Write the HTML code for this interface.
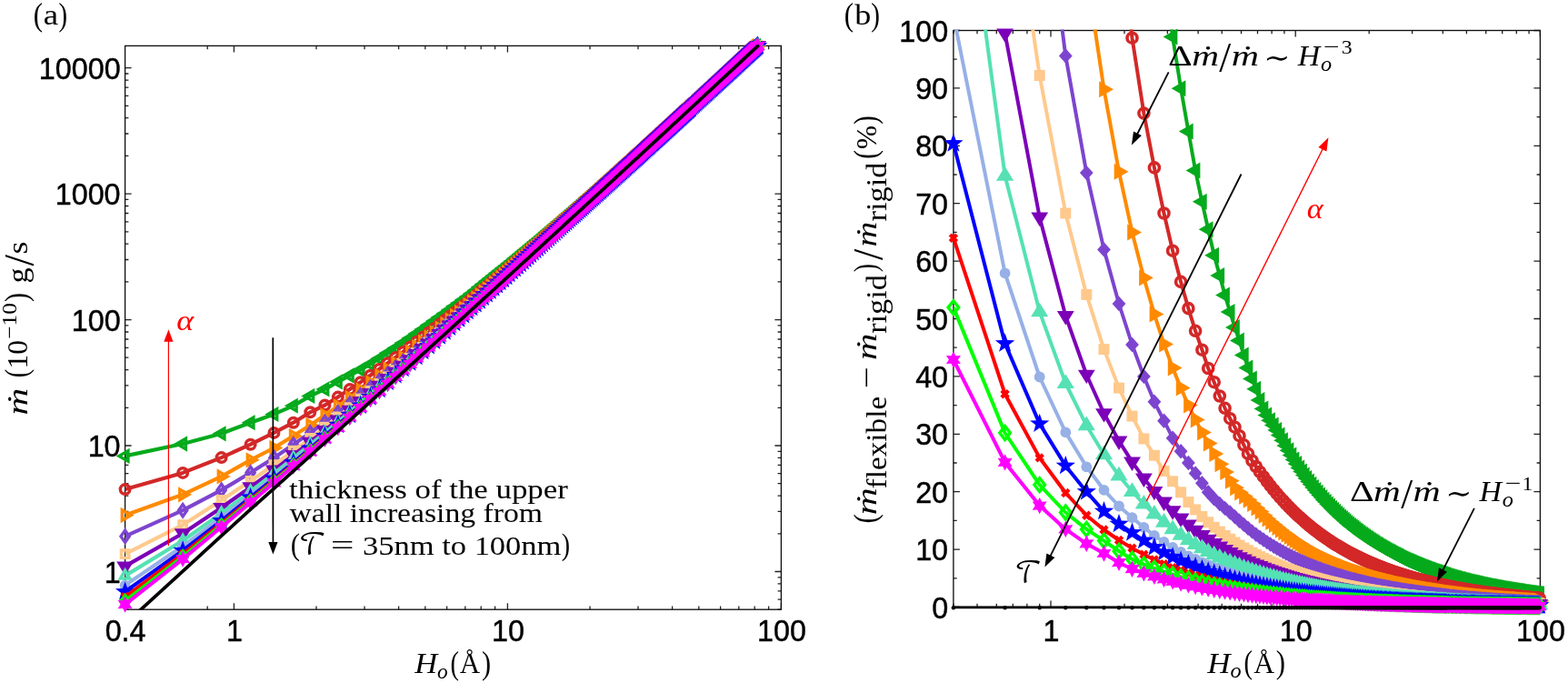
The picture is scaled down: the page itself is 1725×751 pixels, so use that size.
<!DOCTYPE html>
<html><head><meta charset="utf-8"><title>plot</title><style>html,body{margin:0;padding:0;background:#fff;overflow:hidden}svg{display:block}</style></head><body>
<svg width="1725" height="751" viewBox="0 0 1725 751">
<defs><clipPath id="ca"><rect x="137.6" y="50.4" width="721.8" height="619.8"/></clipPath>
<clipPath id="ca2"><rect x="137.6" y="40.4" width="721.8" height="629.8"/></clipPath>
<clipPath id="cb"><rect x="1048.9" y="32.5" width="653.5" height="654.0"/></clipPath></defs>
<defs><marker id="ma1" markerUnits="userSpaceOnUse" markerWidth="32" markerHeight="32" refX="16" refY="16" orient="0" overflow="visible"><path d="M9.40 16.00L19.30 10.30L19.30 21.70Z" fill="none" stroke="#06aa1c" stroke-width="3.4" stroke-linejoin="miter"/></marker><marker id="ma2" markerUnits="userSpaceOnUse" markerWidth="32" markerHeight="32" refX="16" refY="16" orient="0" overflow="visible"><circle cx="16" cy="16" r="5.25" fill="none" stroke="#d32828" stroke-width="3.5"/></marker><marker id="ma3" markerUnits="userSpaceOnUse" markerWidth="32" markerHeight="32" refX="16" refY="16" orient="0" overflow="visible"><path d="M22.60 16.00L12.70 10.30L12.70 21.70Z" fill="none" stroke="#ff8a00" stroke-width="3.4" stroke-linejoin="miter"/></marker><marker id="ma4" markerUnits="userSpaceOnUse" markerWidth="32" markerHeight="32" refX="16" refY="16" orient="0" overflow="visible"><path d="M16.00 9.40L20.60 16.00L16.00 22.60L11.40 16.00Z" fill="none" stroke="#7d45cf" stroke-width="3.4" stroke-linejoin="miter"/></marker><marker id="ma5" markerUnits="userSpaceOnUse" markerWidth="32" markerHeight="32" refX="16" refY="16" orient="0" overflow="visible"><path d="M11.80 11.80L20.20 11.80L20.20 20.20L11.80 20.20Z" fill="none" stroke="#ffc98c" stroke-width="3.4" stroke-linejoin="miter"/></marker><marker id="ma6" markerUnits="userSpaceOnUse" markerWidth="32" markerHeight="32" refX="16" refY="16" orient="0" overflow="visible"><path d="M16.00 26.10L6.60 10.70L25.40 10.70Z" fill="#7c00b8"/></marker><marker id="ma7" markerUnits="userSpaceOnUse" markerWidth="32" markerHeight="32" refX="16" refY="16" orient="0" overflow="visible"><path d="M16.00 10.00L10.80 19.00L21.20 19.00Z" fill="none" stroke="#55e1b4" stroke-width="3.4" stroke-linejoin="miter"/></marker><marker id="ma8" markerUnits="userSpaceOnUse" markerWidth="32" markerHeight="32" refX="16" refY="16" orient="0" overflow="visible"><circle cx="16" cy="16" r="5.90" fill="#97b0e6"/></marker><marker id="ma9" markerUnits="userSpaceOnUse" markerWidth="32" markerHeight="32" refX="16" refY="16" orient="0" overflow="visible"><path d="M16.00 4.80L18.70 12.28L26.65 12.54L20.37 17.42L22.58 25.06L16.00 20.60L9.42 25.06L11.63 17.42L5.35 12.54L13.30 12.28Z" fill="#0000ff"/></marker><marker id="ma10" markerUnits="userSpaceOnUse" markerWidth="32" markerHeight="32" refX="16" refY="16" orient="0" overflow="visible"><path d="M12.30 12.30l7.40 7.40M12.30 19.70l7.40 -7.40" stroke="#ff0000" stroke-width="4.2" fill="none"/></marker><marker id="ma11" markerUnits="userSpaceOnUse" markerWidth="32" markerHeight="32" refX="16" refY="16" orient="0" overflow="visible"><path d="M16.00 9.60L20.80 16.00L16.00 22.40L11.20 16.00Z" fill="none" stroke="#00ff00" stroke-width="3.4" stroke-linejoin="miter"/></marker><marker id="ma12" markerUnits="userSpaceOnUse" markerWidth="32" markerHeight="32" refX="16" refY="16" orient="0" overflow="visible"><path d="M16.00 6.80L18.50 11.67L23.97 11.40L21.00 16.00L23.97 20.60L18.50 20.33L16.00 25.20L13.50 20.33L8.03 20.60L11.00 16.00L8.03 11.40L13.50 11.67Z" fill="#ff00ff"/></marker><marker id="mb1" markerUnits="userSpaceOnUse" markerWidth="32" markerHeight="32" refX="16" refY="16" orient="0" overflow="visible"><path d="M5.50 16.00L21.30 7.00L21.30 25.00Z" fill="#06aa1c"/></marker><marker id="mb2" markerUnits="userSpaceOnUse" markerWidth="32" markerHeight="32" refX="16" refY="16" orient="0" overflow="visible"><circle cx="16" cy="16" r="5.50" fill="none" stroke="#d32828" stroke-width="3.6"/></marker><marker id="mb3" markerUnits="userSpaceOnUse" markerWidth="32" markerHeight="32" refX="16" refY="16" orient="0" overflow="visible"><path d="M26.50 16.00L10.70 7.00L10.70 25.00Z" fill="#ff8a00"/></marker><marker id="mb4" markerUnits="userSpaceOnUse" markerWidth="32" markerHeight="32" refX="16" refY="16" orient="0" overflow="visible"><path d="M16.00 7.80L23.40 16.00L16.00 24.20L8.60 16.00Z" fill="#7d45cf"/></marker><marker id="mb5" markerUnits="userSpaceOnUse" markerWidth="32" markerHeight="32" refX="16" refY="16" orient="0" overflow="visible"><path d="M10.00 10.00L22.00 10.00L22.00 22.00L10.00 22.00Z" fill="#ffc98c"/></marker><marker id="mb6" markerUnits="userSpaceOnUse" markerWidth="32" markerHeight="32" refX="16" refY="16" orient="0" overflow="visible"><path d="M16.00 26.10L6.60 10.70L25.40 10.70Z" fill="#7c00b8"/></marker><marker id="mb7" markerUnits="userSpaceOnUse" markerWidth="32" markerHeight="32" refX="16" refY="16" orient="0" overflow="visible"><path d="M16.00 5.80L6.40 21.40L25.60 21.40Z" fill="#55e1b4"/></marker><marker id="mb8" markerUnits="userSpaceOnUse" markerWidth="32" markerHeight="32" refX="16" refY="16" orient="0" overflow="visible"><circle cx="16" cy="16" r="5.90" fill="#97b0e6"/></marker><marker id="mb9" markerUnits="userSpaceOnUse" markerWidth="32" markerHeight="32" refX="16" refY="16" orient="0" overflow="visible"><path d="M16.00 4.80L18.70 12.28L26.65 12.54L20.37 17.42L22.58 25.06L16.00 20.60L9.42 25.06L11.63 17.42L5.35 12.54L13.30 12.28Z" fill="#0000ff"/></marker><marker id="mb10" markerUnits="userSpaceOnUse" markerWidth="32" markerHeight="32" refX="16" refY="16" orient="0" overflow="visible"><path d="M12.30 12.30l7.40 7.40M12.30 19.70l7.40 -7.40" stroke="#ff0000" stroke-width="4.2" fill="none"/></marker><marker id="mb11" markerUnits="userSpaceOnUse" markerWidth="32" markerHeight="32" refX="16" refY="16" orient="0" overflow="visible"><path d="M16.00 8.60L21.80 16.00L16.00 23.40L10.20 16.00Z" fill="none" stroke="#00ff00" stroke-width="3.4" stroke-linejoin="miter"/></marker><marker id="mb12" markerUnits="userSpaceOnUse" markerWidth="32" markerHeight="32" refX="16" refY="16" orient="0" overflow="visible"><path d="M16.00 6.80L18.50 11.67L23.97 11.40L21.00 16.00L23.97 20.60L18.50 20.33L16.00 25.20L13.50 20.33L8.03 20.60L11.00 16.00L8.03 11.40L13.50 11.67Z" fill="#ff00ff"/></marker><marker id="mbk" markerUnits="userSpaceOnUse" markerWidth="8" markerHeight="8" refX="4" refY="4" orient="0" overflow="visible"><circle cx="4" cy="4" r="2.2" fill="#000"/></marker></defs>
<rect width="100%" height="100%" fill="#fff"/>
<path d="M228.2 670.2v-3.8M228.2 50.4v3.8M257.4 670.2v-7.0M257.4 50.4v7.0M348.0 670.2v-3.8M348.0 50.4v3.8M401.0 670.2v-3.8M401.0 50.4v3.8M438.6 670.2v-3.8M438.6 50.4v3.8M467.8 670.2v-3.8M467.8 50.4v3.8M491.6 670.2v-3.8M491.6 50.4v3.8M511.8 670.2v-3.8M511.8 50.4v3.8M529.2 670.2v-3.8M529.2 50.4v3.8M544.6 670.2v-3.8M544.6 50.4v3.8M558.4 670.2v-7.0M558.4 50.4v7.0M649.0 670.2v-3.8M649.0 50.4v3.8M702.0 670.2v-3.8M702.0 50.4v3.8M739.6 670.2v-3.8M739.6 50.4v3.8M768.8 670.2v-3.8M768.8 50.4v3.8M792.6 670.2v-3.8M792.6 50.4v3.8M812.8 670.2v-3.8M812.8 50.4v3.8M830.2 670.2v-3.8M830.2 50.4v3.8M845.6 670.2v-3.8M845.6 50.4v3.8M859.4 670.2v-7.0M859.4 50.4v7.0M137.6 670.1h3.8M859.4 670.1h-3.8M137.6 659.2h3.8M859.4 659.2h-3.8M137.6 649.9h3.8M859.4 649.9h-3.8M137.6 641.9h3.8M859.4 641.9h-3.8M137.6 634.8h3.8M859.4 634.8h-3.8M137.6 628.5h7.0M859.4 628.5h-7.0M137.6 586.8h3.8M859.4 586.8h-3.8M137.6 562.4h3.8M859.4 562.4h-3.8M137.6 545.1h3.8M859.4 545.1h-3.8M137.6 531.7h3.8M859.4 531.7h-3.8M137.6 520.7h3.8M859.4 520.7h-3.8M137.6 511.4h3.8M859.4 511.4h-3.8M137.6 503.4h3.8M859.4 503.4h-3.8M137.6 496.3h3.8M859.4 496.3h-3.8M137.6 490.0h7.0M859.4 490.0h-7.0M137.6 448.3h3.8M859.4 448.3h-3.8M137.6 423.9h3.8M859.4 423.9h-3.8M137.6 406.6h3.8M859.4 406.6h-3.8M137.6 393.2h3.8M859.4 393.2h-3.8M137.6 382.3h3.8M859.4 382.3h-3.8M137.6 373.0h3.8M859.4 373.0h-3.8M137.6 365.0h3.8M859.4 365.0h-3.8M137.6 357.9h3.8M859.4 357.9h-3.8M137.6 351.6h7.0M859.4 351.6h-7.0M137.6 309.9h3.8M859.4 309.9h-3.8M137.6 285.5h3.8M859.4 285.5h-3.8M137.6 268.2h3.8M859.4 268.2h-3.8M137.6 254.8h3.8M859.4 254.8h-3.8M137.6 243.8h3.8M859.4 243.8h-3.8M137.6 234.5h3.8M859.4 234.5h-3.8M137.6 226.5h3.8M859.4 226.5h-3.8M137.6 219.4h3.8M859.4 219.4h-3.8M137.6 213.1h7.0M859.4 213.1h-7.0M137.6 171.4h3.8M859.4 171.4h-3.8M137.6 147.0h3.8M859.4 147.0h-3.8M137.6 129.7h3.8M859.4 129.7h-3.8M137.6 116.3h3.8M859.4 116.3h-3.8M137.6 105.4h3.8M859.4 105.4h-3.8M137.6 96.1h3.8M859.4 96.1h-3.8M137.6 88.1h3.8M859.4 88.1h-3.8M137.6 81.0h3.8M859.4 81.0h-3.8M137.6 74.7h7.0M859.4 74.7h-7.0M1048.9 667.5v-3.8M1048.9 33.5v3.8M1075.0 667.5v-3.8M1075.0 33.5v3.8M1096.3 667.5v-3.8M1096.3 33.5v3.8M1114.3 667.5v-3.8M1114.3 33.5v3.8M1129.9 667.5v-3.8M1129.9 33.5v3.8M1143.7 667.5v-3.8M1143.7 33.5v3.8M1156.0 667.5v-7.0M1156.0 33.5v7.0M1237.0 667.5v-3.8M1237.0 33.5v3.8M1284.4 667.5v-3.8M1284.4 33.5v3.8M1318.1 667.5v-3.8M1318.1 33.5v3.8M1344.2 667.5v-3.8M1344.2 33.5v3.8M1365.5 667.5v-3.8M1365.5 33.5v3.8M1383.5 667.5v-3.8M1383.5 33.5v3.8M1399.1 667.5v-3.8M1399.1 33.5v3.8M1412.9 667.5v-3.8M1412.9 33.5v3.8M1425.2 667.5v-7.0M1425.2 33.5v7.0M1506.2 667.5v-3.8M1506.2 33.5v3.8M1553.6 667.5v-3.8M1553.6 33.5v3.8M1587.3 667.5v-3.8M1587.3 33.5v3.8M1613.4 667.5v-3.8M1613.4 33.5v3.8M1634.7 667.5v-3.8M1634.7 33.5v3.8M1652.7 667.5v-3.8M1652.7 33.5v3.8M1668.3 667.5v-3.8M1668.3 33.5v3.8M1682.1 667.5v-3.8M1682.1 33.5v3.8M1694.4 667.5v-7.0M1694.4 33.5v7.0M1048.9 667.5h7.0M1694.4 667.5h-7.0M1048.9 635.8h3.8M1694.4 635.8h-3.8M1048.9 604.1h7.0M1694.4 604.1h-7.0M1048.9 572.4h3.8M1694.4 572.4h-3.8M1048.9 540.7h7.0M1694.4 540.7h-7.0M1048.9 509.0h3.8M1694.4 509.0h-3.8M1048.9 477.3h7.0M1694.4 477.3h-7.0M1048.9 445.6h3.8M1694.4 445.6h-3.8M1048.9 413.9h7.0M1694.4 413.9h-7.0M1048.9 382.2h3.8M1694.4 382.2h-3.8M1048.9 350.5h7.0M1694.4 350.5h-7.0M1048.9 318.8h3.8M1694.4 318.8h-3.8M1048.9 287.1h7.0M1694.4 287.1h-7.0M1048.9 255.4h3.8M1694.4 255.4h-3.8M1048.9 223.7h7.0M1694.4 223.7h-7.0M1048.9 192.0h3.8M1694.4 192.0h-3.8M1048.9 160.3h7.0M1694.4 160.3h-7.0M1048.9 128.6h3.8M1694.4 128.6h-3.8M1048.9 96.9h7.0M1694.4 96.9h-7.0M1048.9 65.2h3.8M1694.4 65.2h-3.8M1048.9 33.5h7.0M1694.4 33.5h-7.0" stroke="#222" stroke-width="1.3" fill="none"/>
<rect x="137.6" y="50.4" width="721.8" height="619.8" fill="none" stroke="#111" stroke-width="1.35"/>
<rect x="1048.9" y="33.5" width="645.5" height="634.0" fill="none" stroke="#111" stroke-width="1.35"/>
<g font-family="'Liberation Sans', Arial, Helvetica, sans-serif" font-size="32.3" fill="#000" stroke="#000" stroke-width="0.45"><text x="138.1" y="704.5" text-anchor="middle" >0.4</text><text x="257.9" y="704.5" text-anchor="middle" >1</text><text x="558.9" y="704.5" text-anchor="middle" >10</text><text x="859.9" y="704.5" text-anchor="middle" >100</text><text x="132.6" y="640.5" text-anchor="end" >1</text><text x="132.6" y="502.0" text-anchor="end" >10</text><text x="132.6" y="363.6" text-anchor="end" >100</text><text x="132.6" y="225.1" text-anchor="end" >1000</text><text x="132.6" y="86.7" text-anchor="end" >10000</text><text x="1156.5" y="704.5" text-anchor="middle" >1</text><text x="1425.7" y="704.5" text-anchor="middle" >10</text><text x="1694.9" y="704.5" text-anchor="middle" >100</text><text x="1043.1" y="679.6" text-anchor="end" >0</text><text x="1043.1" y="616.2" text-anchor="end" >10</text><text x="1043.1" y="552.8" text-anchor="end" >20</text><text x="1043.1" y="489.4" text-anchor="end" >30</text><text x="1043.1" y="426.0" text-anchor="end" >40</text><text x="1043.1" y="362.6" text-anchor="end" >50</text><text x="1043.1" y="299.2" text-anchor="end" >60</text><text x="1043.1" y="235.8" text-anchor="end" >70</text><text x="1043.1" y="172.4" text-anchor="end" >80</text><text x="1043.1" y="109.0" text-anchor="end" >90</text><text x="1043.1" y="45.6" text-anchor="end" >100</text></g>
<polyline points="137.6,501.4 201.1,488.0 243.6,476.8 275.6,464.7 301.4,455.4 322.8,446.1 341.3,435.4 357.4,427.9 371.8,419.9 384.8,413.0 396.6,406.6 407.4,400.4 417.4,394.1 426.6,388.1 435.3,382.6 443.4,377.1 451.1,371.9 458.3,367.0 465.1,362.1 471.6,357.5 477.8,353.0 483.7,348.8 489.4,344.6 494.8,340.7 500.0,336.8 505.0,333.1 509.9,329.5 514.5,326.1 519.0,322.7 523.4,319.2 527.6,315.8 531.6,312.5 535.6,309.3 539.4,306.2 543.1,303.2 546.8,300.3 550.3,297.5 553.7,294.7 557.1,292.1 560.3,289.4 563.5,286.9 566.6,284.3 569.6,281.9 572.6,279.4 575.5,277.0 578.3,274.7 581.1,272.4 583.8,270.2 586.5,268.0 589.1,265.8 591.7,263.7 594.2,261.6 596.6,259.5 599.1,257.5 601.4,255.5 603.8,253.5 606.0,251.6 608.3,249.7 610.5,247.8 612.7,246.0 614.8,244.1 616.9,242.4 619.0,240.6 621.0,238.9 623.0,237.1 625.0,235.5 627.0,233.8 628.9,232.1 630.8,230.5 632.7,228.9 634.5,227.3 636.3,225.8 638.1,224.2 639.9,222.7 641.6,221.2 643.3,219.7 645.0,218.3 646.7,216.8 648.3,215.4 650.0,214.0 651.6,212.6 653.2,211.2 654.7,209.8 656.3,208.5 657.8,207.1 659.4,205.8 660.9,204.5 662.3,203.2 663.8,201.9 665.3,200.6 666.7,199.4 668.1,198.1 669.5,196.9 670.9,195.7 672.3,194.5 673.6,193.3 675.0,192.1 676.3,190.9 677.6,189.8 678.9,188.6 680.2,187.5 681.5,186.4 682.8,185.2 684.0,184.1 685.3,183.0 686.5,181.9 687.7,180.9 688.9,179.8 690.1,178.7 691.3,177.7 692.5,176.6 693.7,175.6 694.8,174.6 696.0,173.6 697.1,172.6 698.2,171.6 699.4,170.6 700.5,169.6 701.6,168.6 702.6,167.7 703.7,166.7 704.8,165.7 705.9,164.8 706.9,163.9 708.0,162.9 709.0,162.0 710.0,161.1 711.0,160.2 712.1,159.3 713.1,158.4 714.1,157.5 715.0,156.6 716.0,155.7 717.0,154.9 718.0,154.0 718.9,153.1 719.9,152.3 720.8,151.4 721.8,150.6 722.7,149.8 723.6,148.9 724.5,148.1 725.5,147.3 726.4,146.5 727.3,145.7 728.2,144.9 729.1,144.1 729.9,143.3 730.8,142.5 731.7,141.7 732.6,140.9 733.4,140.2 734.3,139.4 735.1,138.6 736.0,137.9 736.8,137.1 737.6,136.4 738.5,135.6 739.3,134.9 740.1,134.2 740.9,133.4 741.7,132.7 742.5,132.0 743.3,131.3 744.1,130.5 744.9,129.8 745.7,129.1 746.4,128.4 747.2,127.7 748.0,127.0 748.7,126.4 749.5,125.7 750.3,125.0 751.0,124.3 751.8,123.6 752.5,123.0 753.2,122.3 754.0,121.6 754.7,121.0 755.4,120.3 756.2,119.7 756.9,119.0 757.6,118.4 758.3,117.7 759.0,117.1 759.7,116.5 760.4,115.8 761.1,115.2 761.8,114.6 762.5,113.9 763.2,113.3 763.8,112.7 764.5,112.1 765.2,111.5 765.9,110.9 766.5,110.3 767.2,109.7 767.9,109.1 768.5,108.5 769.2,107.9 769.8,107.3 770.5,106.7 771.1,106.1 771.7,105.5 772.4,105.0 773.0,104.4 773.6,103.8 774.3,103.3 774.9,102.7 775.5,102.1 776.1,101.6 776.8,101.0 777.4,100.4 778.0,99.9 778.6,99.3 779.2,98.8 779.8,98.2 780.4,97.7 781.0,97.1 781.6,96.6 782.2,96.1 782.8,95.5 783.4,95.0 783.9,94.5 784.5,93.9 785.1,93.4 785.7,92.9 786.2,92.4 786.8,91.8 787.4,91.3 787.9,90.8 788.5,90.3 789.1,89.8 789.6,89.3 790.2,88.8 790.7,88.3 791.3,87.8 791.8,87.3 792.4,86.8 792.9,86.3 793.5,85.8 794.0,85.3 794.5,84.8 795.1,84.3 795.6,83.8 796.1,83.3 796.7,82.9 797.2,82.4 797.7,81.9 798.3,81.4 798.8,80.9 799.3,80.5 799.8,80.0 800.3,79.5 800.8,79.1 801.3,78.6 801.9,78.1 802.4,77.7 802.9,77.2 803.4,76.7 803.9,76.3 804.4,75.8 804.9,75.4 805.4,74.9 805.9,74.5 806.3,74.0 806.8,73.6 807.3,73.1 807.8,72.7 808.3,72.2 808.8,71.8 809.3,71.4 809.7,70.9 810.2,70.5 810.7,70.1 811.2,69.6 811.6,69.2 812.1,68.8 812.6,68.3 813.0,67.9 813.5,67.5 814.0,67.1 814.4,66.6 814.9,66.2 815.3,65.8 815.8,65.4 816.3,64.9 816.7,64.5 817.2,64.1 817.6,63.7 818.1,63.3 818.5,62.9 819.0,62.5 819.4,62.1 819.8,61.7 820.3,61.3 820.7,60.9 821.2,60.5 821.6,60.1 822.0,59.7 822.5,59.3 822.9,58.9 823.3,58.5 823.8,58.1 824.2,57.7 824.6,57.3 825.0,56.9 825.5,56.5 825.9,56.1 826.3,55.7 826.7,55.3 827.2,55.0 827.6,54.6 828.0,54.2 828.4,53.8 828.8,53.4 829.2,53.1 829.6,52.7 830.0,52.3 830.5,51.9 830.9,51.5 831.3,51.2 831.7,50.8 832.1,50.4 832.5,50.1 832.9,49.7" fill="none" stroke="#06aa1c" stroke-width="4.2" stroke-linejoin="round" clip-path="url(#ca)"/>
<polyline points="137.6,501.4 201.1,488.0 243.6,476.8 275.6,464.7 301.4,455.4 322.8,446.1 341.3,435.4 357.4,427.9 371.8,419.9 384.8,413.0 396.6,406.6 407.4,400.4 417.4,394.1 426.6,388.1 435.3,382.6 443.4,377.1 451.1,371.9 458.3,367.0 465.1,362.1 471.6,357.5 477.8,353.0 483.7,348.8 489.4,344.6 494.8,340.7 500.0,336.8 505.0,333.1 509.9,329.5 514.5,326.1 519.0,322.7 523.4,319.2 527.6,315.8 531.6,312.5 535.6,309.3 539.4,306.2 543.1,303.2 546.8,300.3 550.3,297.5 553.7,294.7 557.1,292.1 560.3,289.4 563.5,286.9 566.6,284.3 569.6,281.9 572.6,279.4 575.5,277.0 578.3,274.7 581.1,272.4 583.8,270.2 586.5,268.0 589.1,265.8 591.7,263.7 594.2,261.6 596.6,259.5 599.1,257.5 601.4,255.5 603.8,253.5 606.0,251.6 608.3,249.7 610.5,247.8 612.7,246.0 614.8,244.1 616.9,242.4 619.0,240.6 621.0,238.9 623.0,237.1 625.0,235.5 627.0,233.8 628.9,232.1 630.8,230.5 632.7,228.9 634.5,227.3 636.3,225.8 638.1,224.2 639.9,222.7 641.6,221.2 643.3,219.7 645.0,218.3 646.7,216.8 648.3,215.4 650.0,214.0 651.6,212.6 653.2,211.2 654.7,209.8 656.3,208.5 657.8,207.1 659.4,205.8 660.9,204.5 662.3,203.2 663.8,201.9 665.3,200.6 666.7,199.4 668.1,198.1 669.5,196.9 670.9,195.7 672.3,194.5 673.6,193.3 675.0,192.1 676.3,190.9 677.6,189.8 678.9,188.6 680.2,187.5 681.5,186.4 682.8,185.2 684.0,184.1 685.3,183.0 686.5,181.9 687.7,180.9 688.9,179.8 690.1,178.7 691.3,177.7 692.5,176.6 693.7,175.6 694.8,174.6 696.0,173.6 697.1,172.6 698.2,171.6 699.4,170.6 700.5,169.6 701.6,168.6 702.6,167.7 703.7,166.7 704.8,165.7 705.9,164.8 706.9,163.9 708.0,162.9 709.0,162.0 710.0,161.1 711.0,160.2 712.1,159.3 713.1,158.4 714.1,157.5 715.0,156.6 716.0,155.7 717.0,154.9 718.0,154.0 718.9,153.1 719.9,152.3 720.8,151.4 721.8,150.6 722.7,149.8 723.6,148.9 724.5,148.1 725.5,147.3 726.4,146.5 727.3,145.7 728.2,144.9 729.1,144.1 729.9,143.3 730.8,142.5 731.7,141.7 732.6,140.9 733.4,140.2 734.3,139.4 735.1,138.6 736.0,137.9 736.8,137.1 737.6,136.4 738.5,135.6 739.3,134.9 740.1,134.2 740.9,133.4 741.7,132.7 742.5,132.0 743.3,131.3 744.1,130.5 744.9,129.8 745.7,129.1 746.4,128.4 747.2,127.7 748.0,127.0 748.7,126.4 749.5,125.7 750.3,125.0 751.0,124.3 751.8,123.6 752.5,123.0 753.2,122.3 754.0,121.6 754.7,121.0 755.4,120.3 756.2,119.7 756.9,119.0 757.6,118.4 758.3,117.7 759.0,117.1 759.7,116.5 761.1,115.2 762.5,113.9 763.8,112.7 765.2,111.5 766.5,110.3 767.9,109.1 769.2,107.9 770.5,106.7 771.7,105.5 773.0,104.4 774.3,103.3 775.5,102.1 776.8,101.0 778.0,99.9 779.2,98.8 780.4,97.7 781.6,96.6 782.8,95.5 783.9,94.5 785.1,93.4 786.2,92.4 787.4,91.3 788.5,90.3 789.6,89.3 790.7,88.3 791.8,87.3 792.9,86.3 794.0,85.3 795.1,84.3 796.1,83.3 797.2,82.4 798.3,81.4 799.3,80.5 800.3,79.5 801.3,78.6 802.4,77.7 803.4,76.7 804.4,75.8 805.4,74.9 806.3,74.0 807.3,73.1 808.3,72.2 809.3,71.4 810.2,70.5 811.2,69.6 812.1,68.8 813.0,67.9 814.0,67.1 814.9,66.2 815.8,65.4 816.7,64.5 817.6,63.7 818.5,62.9 819.4,62.1 820.3,61.3 821.2,60.5 822.0,59.7 822.9,58.9 823.8,58.1 824.6,57.3 825.5,56.5 826.3,55.7 827.2,55.0 828.0,54.2 828.8,53.4 829.6,52.7 830.5,51.9 831.3,51.2 832.1,50.4" fill="none" stroke="none" marker-start="url(#ma1)" marker-mid="url(#ma1)" marker-end="url(#ma1)"/>
<polyline points="137.6,538.1 201.1,519.9 243.6,503.1 275.6,488.7 301.4,475.9 322.8,464.7 341.3,453.3 357.4,445.5 371.8,436.6 384.8,428.1 396.6,420.2 407.4,412.8 417.4,405.8 426.6,399.2 435.3,392.9 443.4,386.9 451.1,381.4 458.3,375.8 465.1,370.7 471.6,365.7 477.8,360.9 483.7,356.2 489.4,351.8 494.8,347.6 500.0,343.5 505.0,339.6 509.9,335.7 514.5,331.9 519.0,328.2 523.4,324.6 527.6,321.2 531.6,317.8 535.6,314.6 539.4,311.4 543.1,308.3 546.8,305.2 550.3,302.3 553.7,299.4 557.1,296.6 560.3,293.8 563.5,291.2 566.6,288.5 569.6,285.9 572.6,283.4 575.5,281.0 578.3,278.5 581.1,276.2 583.8,273.8 586.5,271.5 589.1,269.3 591.7,267.1 594.2,264.9 596.6,262.8 599.1,260.7 601.4,258.7 603.8,256.6 606.0,254.7 608.3,252.7 610.5,250.8 612.7,248.9 614.8,247.0 616.9,245.2 619.0,243.4 621.0,241.6 623.0,239.8 625.0,238.1 627.0,236.4 628.9,234.7 630.8,233.0 632.7,231.4 634.5,229.8 636.3,228.2 638.1,226.6 639.9,225.1 641.6,223.5 643.3,222.0 645.0,220.5 646.7,219.0 648.3,217.6 650.0,216.1 651.6,214.7 653.2,213.3 654.7,211.9 656.3,210.5 657.8,209.2 659.4,207.8 660.9,206.5 662.3,205.2 663.8,203.9 665.3,202.6 666.7,201.3 668.1,200.0 669.5,198.8 670.9,197.5 672.3,196.3 673.6,195.1 675.0,193.9 676.3,192.7 677.6,191.5 678.9,190.4 680.2,189.2 681.5,188.1 682.8,186.9 684.0,185.8 685.3,184.7 686.5,183.6 687.7,182.5 688.9,181.4 690.1,180.3 691.3,179.3 692.5,178.2 693.7,177.2 694.8,176.1 696.0,175.1 697.1,174.1 698.2,173.1 699.4,172.1 700.5,171.1 701.6,170.1 702.6,169.1 703.7,168.1 704.8,167.2 705.9,166.2 706.9,165.3 708.0,164.3 709.0,163.4 710.0,162.5 711.0,161.5 712.1,160.6 713.1,159.7 714.1,158.8 715.0,157.9 716.0,157.0 717.0,156.2 718.0,155.3 718.9,154.4 719.9,153.5 720.8,152.7 721.8,151.8 722.7,151.0 723.6,150.2 724.5,149.3 725.5,148.5 726.4,147.7 727.3,146.9 728.2,146.1 729.1,145.2 729.9,144.4 730.8,143.7 731.7,142.9 732.6,142.1 733.4,141.3 734.3,140.5 735.1,139.8 736.0,139.0 736.8,138.2 737.6,137.5 738.5,136.7 739.3,136.0 740.1,135.2 740.9,134.5 741.7,133.8 742.5,133.0 743.3,132.3 744.1,131.6 744.9,130.9 745.7,130.2 746.4,129.5 747.2,128.8 748.0,128.1 748.7,127.4 749.5,126.7 750.3,126.0 751.0,125.3 751.8,124.6 752.5,123.9 753.2,123.3 754.0,122.6 754.7,121.9 755.4,121.3 756.2,120.6 756.9,120.0 757.6,119.3 758.3,118.7 759.0,118.0 759.7,117.4 760.4,116.7 761.1,116.1 761.8,115.5 762.5,114.9 763.2,114.2 763.8,113.6 764.5,113.0 765.2,112.4 765.9,111.8 766.5,111.2 767.2,110.6 767.9,109.9 768.5,109.3 769.2,108.8 769.8,108.2 770.5,107.6 771.1,107.0 771.7,106.4 772.4,105.8 773.0,105.2 773.6,104.7 774.3,104.1 774.9,103.5 775.5,102.9 776.1,102.4 776.8,101.8 777.4,101.2 778.0,100.7 778.6,100.1 779.2,99.6 779.8,99.0 780.4,98.5 781.0,97.9 781.6,97.4 782.2,96.8 782.8,96.3 783.4,95.8 783.9,95.2 784.5,94.7 785.1,94.2 785.7,93.6 786.2,93.1 786.8,92.6 787.4,92.1 787.9,91.6 788.5,91.0 789.1,90.5 789.6,90.0 790.2,89.5 790.7,89.0 791.3,88.5 791.8,88.0 792.4,87.5 792.9,87.0 793.5,86.5 794.0,86.0 794.5,85.5 795.1,85.0 795.6,84.5 796.1,84.0 796.7,83.5 797.2,83.1 797.7,82.6 798.3,82.1 798.8,81.6 799.3,81.1 799.8,80.7 800.3,80.2 800.8,79.7 801.3,79.3 801.9,78.8 802.4,78.3 802.9,77.9 803.4,77.4 803.9,76.9 804.4,76.5 804.9,76.0 805.4,75.6 805.9,75.1 806.3,74.7 806.8,74.2 807.3,73.8 807.8,73.3 808.3,72.9 808.8,72.4 809.3,72.0 809.7,71.6 810.2,71.1 810.7,70.7 811.2,70.2 811.6,69.8 812.1,69.4 812.6,68.9 813.0,68.5 813.5,68.1 814.0,67.7 814.4,67.2 814.9,66.8 815.3,66.4 815.8,66.0 816.3,65.5 816.7,65.1 817.2,64.7 817.6,64.3 818.1,63.9 818.5,63.5 819.0,63.1 819.4,62.7 819.8,62.2 820.3,61.8 820.7,61.4 821.2,61.0 821.6,60.6 822.0,60.2 822.5,59.8 822.9,59.4 823.3,59.0 823.8,58.6 824.2,58.2 824.6,57.8 825.0,57.4 825.5,57.1 825.9,56.7 826.3,56.3 826.7,55.9 827.2,55.5 827.6,55.1 828.0,54.7 828.4,54.4 828.8,54.0 829.2,53.6 829.6,53.2 830.0,52.8 830.5,52.5 830.9,52.1 831.3,51.7 831.7,51.3 832.1,51.0 832.5,50.6 832.9,50.2 833.3,49.9" fill="none" stroke="#d32828" stroke-width="4.2" stroke-linejoin="round" clip-path="url(#ca)"/>
<polyline points="137.6,538.1 201.1,519.9 243.6,503.1 275.6,488.7 301.4,475.9 322.8,464.7 341.3,453.3 357.4,445.5 371.8,436.6 384.8,428.1 396.6,420.2 407.4,412.8 417.4,405.8 426.6,399.2 435.3,392.9 443.4,386.9 451.1,381.4 458.3,375.8 465.1,370.7 471.6,365.7 477.8,360.9 483.7,356.2 489.4,351.8 494.8,347.6 500.0,343.5 505.0,339.6 509.9,335.7 514.5,331.9 519.0,328.2 523.4,324.6 527.6,321.2 531.6,317.8 535.6,314.6 539.4,311.4 543.1,308.3 546.8,305.2 550.3,302.3 553.7,299.4 557.1,296.6 560.3,293.8 563.5,291.2 566.6,288.5 569.6,285.9 572.6,283.4 575.5,281.0 578.3,278.5 581.1,276.2 583.8,273.8 586.5,271.5 589.1,269.3 591.7,267.1 594.2,264.9 596.6,262.8 599.1,260.7 601.4,258.7 603.8,256.6 606.0,254.7 608.3,252.7 610.5,250.8 612.7,248.9 614.8,247.0 616.9,245.2 619.0,243.4 621.0,241.6 623.0,239.8 625.0,238.1 627.0,236.4 628.9,234.7 630.8,233.0 632.7,231.4 634.5,229.8 636.3,228.2 638.1,226.6 639.9,225.1 641.6,223.5 643.3,222.0 645.0,220.5 646.7,219.0 648.3,217.6 650.0,216.1 651.6,214.7 653.2,213.3 654.7,211.9 656.3,210.5 657.8,209.2 659.4,207.8 660.9,206.5 662.3,205.2 663.8,203.9 665.3,202.6 666.7,201.3 668.1,200.0 669.5,198.8 670.9,197.5 672.3,196.3 673.6,195.1 675.0,193.9 676.3,192.7 677.6,191.5 678.9,190.4 680.2,189.2 681.5,188.1 682.8,186.9 684.0,185.8 685.3,184.7 686.5,183.6 687.7,182.5 688.9,181.4 690.1,180.3 691.3,179.3 692.5,178.2 693.7,177.2 694.8,176.1 696.0,175.1 697.1,174.1 698.2,173.1 699.4,172.1 700.5,171.1 701.6,170.1 702.6,169.1 703.7,168.1 704.8,167.2 705.9,166.2 706.9,165.3 708.0,164.3 709.0,163.4 710.0,162.5 711.0,161.5 712.1,160.6 713.1,159.7 714.1,158.8 715.0,157.9 716.0,157.0 717.0,156.2 718.0,155.3 718.9,154.4 719.9,153.5 720.8,152.7 721.8,151.8 722.7,151.0 723.6,150.2 724.5,149.3 725.5,148.5 726.4,147.7 727.3,146.9 728.2,146.1 729.1,145.2 729.9,144.4 730.8,143.7 731.7,142.9 732.6,142.1 733.4,141.3 734.3,140.5 735.1,139.8 736.0,139.0 736.8,138.2 737.6,137.5 738.5,136.7 739.3,136.0 740.1,135.2 740.9,134.5 741.7,133.8 742.5,133.0 743.3,132.3 744.1,131.6 744.9,130.9 745.7,130.2 746.4,129.5 747.2,128.8 748.0,128.1 748.7,127.4 749.5,126.7 750.3,126.0 751.0,125.3 751.8,124.6 752.5,123.9 753.2,123.3 754.0,122.6 754.7,121.9 755.4,121.3 756.2,120.6 756.9,120.0 757.6,119.3 758.3,118.7 759.0,118.0 759.7,117.4 761.1,116.1 762.5,114.9 763.8,113.6 765.2,112.4 766.5,111.2 767.9,109.9 769.2,108.8 770.5,107.6 771.7,106.4 773.0,105.2 774.3,104.1 775.5,102.9 776.8,101.8 778.0,100.7 779.2,99.6 780.4,98.5 781.6,97.4 782.8,96.3 783.9,95.2 785.1,94.2 786.2,93.1 787.4,92.1 788.5,91.0 789.6,90.0 790.7,89.0 791.8,88.0 792.9,87.0 794.0,86.0 795.1,85.0 796.1,84.0 797.2,83.1 798.3,82.1 799.3,81.1 800.3,80.2 801.3,79.3 802.4,78.3 803.4,77.4 804.4,76.5 805.4,75.6 806.3,74.7 807.3,73.8 808.3,72.9 809.3,72.0 810.2,71.1 811.2,70.2 812.1,69.4 813.0,68.5 814.0,67.7 814.9,66.8 815.8,66.0 816.7,65.1 817.6,64.3 818.5,63.5 819.4,62.7 820.3,61.8 821.2,61.0 822.0,60.2 822.9,59.4 823.8,58.6 824.6,57.8 825.5,57.1 826.3,56.3 827.2,55.5 828.0,54.7 828.8,54.0 829.6,53.2 830.5,52.5 831.3,51.7 832.1,51.0 832.9,50.2" fill="none" stroke="none" marker-start="url(#ma2)" marker-mid="url(#ma2)" marker-end="url(#ma2)"/>
<polyline points="137.6,566.5 201.1,543.8 243.6,523.9 275.6,505.8 301.4,492.5 322.8,479.3 341.3,467.5 357.4,456.6 371.8,446.6 384.8,437.4 396.6,428.9 407.4,420.8 417.4,413.3 426.6,406.3 435.3,399.6 443.4,393.2 451.1,387.2 458.3,381.5 465.1,376.1 471.6,370.9 477.8,366.0 483.7,361.2 489.4,356.5 494.8,351.9 500.0,347.5 505.0,343.3 509.9,339.2 514.5,335.3 519.0,331.6 523.4,327.9 527.6,324.4 531.6,320.9 535.6,317.6 539.4,314.3 543.1,311.1 546.8,308.0 550.3,305.0 553.7,302.1 557.1,299.2 560.3,296.4 563.5,293.6 566.6,290.9 569.6,288.3 572.6,285.7 575.5,283.2 578.3,280.7 581.1,278.3 583.8,275.9 586.5,273.6 589.1,271.3 591.7,269.1 594.2,266.9 596.6,264.7 599.1,262.6 601.4,260.5 603.8,258.5 606.0,256.5 608.3,254.5 610.5,252.5 612.7,250.6 614.8,248.7 616.9,246.8 619.0,245.0 621.0,243.2 623.0,241.4 625.0,239.7 627.0,237.9 628.9,236.2 630.8,234.5 632.7,232.9 634.5,231.2 636.3,229.6 638.1,228.0 639.9,226.5 641.6,224.9 643.3,223.4 645.0,221.9 646.7,220.4 648.3,218.9 650.0,217.4 651.6,216.0 653.2,214.6 654.7,213.1 656.3,211.8 657.8,210.4 659.4,209.0 660.9,207.7 662.3,206.3 663.8,205.0 665.3,203.7 666.7,202.4 668.1,201.2 669.5,199.9 670.9,198.6 672.3,197.4 673.6,196.2 675.0,195.0 676.3,193.8 677.6,192.6 678.9,191.4 680.2,190.2 681.5,189.1 682.8,187.9 684.0,186.8 685.3,185.7 686.5,184.6 687.7,183.5 688.9,182.4 690.1,181.3 691.3,180.2 692.5,179.1 693.7,178.1 694.8,177.0 696.0,176.0 697.1,175.0 698.2,174.0 699.4,172.9 700.5,171.9 701.6,171.0 702.6,170.0 703.7,169.0 704.8,168.0 705.9,167.1 706.9,166.1 708.0,165.1 709.0,164.2 710.0,163.3 711.0,162.3 712.1,161.4 713.1,160.5 714.1,159.6 715.0,158.7 716.0,157.8 717.0,156.9 718.0,156.0 718.9,155.2 719.9,154.3 720.8,153.4 721.8,152.6 722.7,151.7 723.6,150.9 724.5,150.1 725.5,149.2 726.4,148.4 727.3,147.6 728.2,146.8 729.1,146.0 729.9,145.2 730.8,144.4 731.7,143.6 732.6,142.8 733.4,142.0 734.3,141.2 735.1,140.4 736.0,139.7 736.8,138.9 737.6,138.1 738.5,137.4 739.3,136.6 740.1,135.9 740.9,135.1 741.7,134.4 742.5,133.7 743.3,133.0 744.1,132.2 744.9,131.5 745.7,130.8 746.4,130.1 747.2,129.4 748.0,128.7 748.7,128.0 749.5,127.3 750.3,126.6 751.0,125.9 751.8,125.2 752.5,124.5 753.2,123.9 754.0,123.2 754.7,122.5 755.4,121.9 756.2,121.2 756.9,120.5 757.6,119.9 758.3,119.2 759.0,118.6 759.7,117.9 760.4,117.3 761.1,116.7 761.8,116.0 762.5,115.4 763.2,114.8 763.8,114.2 764.5,113.5 765.2,112.9 765.9,112.3 766.5,111.7 767.2,111.1 767.9,110.5 768.5,109.9 769.2,109.3 769.8,108.7 770.5,108.1 771.1,107.5 771.7,106.9 772.4,106.3 773.0,105.7 773.6,105.2 774.3,104.6 774.9,104.0 775.5,103.4 776.1,102.9 776.8,102.3 777.4,101.7 778.0,101.2 778.6,100.6 779.2,100.1 779.8,99.5 780.4,99.0 781.0,98.4 781.6,97.9 782.2,97.3 782.8,96.8 783.4,96.2 783.9,95.7 784.5,95.2 785.1,94.6 785.7,94.1 786.2,93.6 786.8,93.1 787.4,92.5 787.9,92.0 788.5,91.5 789.1,91.0 789.6,90.5 790.2,90.0 790.7,89.4 791.3,88.9 791.8,88.4 792.4,87.9 792.9,87.4 793.5,86.9 794.0,86.4 794.5,85.9 795.1,85.4 795.6,85.0 796.1,84.5 796.7,84.0 797.2,83.5 797.7,83.0 798.3,82.5 798.8,82.0 799.3,81.6 799.8,81.1 800.3,80.6 800.8,80.1 801.3,79.7 801.9,79.2 802.4,78.7 802.9,78.3 803.4,77.8 803.9,77.3 804.4,76.9 804.9,76.4 805.4,76.0 805.9,75.5 806.3,75.1 806.8,74.6 807.3,74.2 807.8,73.7 808.3,73.3 808.8,72.8 809.3,72.4 809.7,71.9 810.2,71.5 810.7,71.1 811.2,70.6 811.6,70.2 812.1,69.8 812.6,69.3 813.0,68.9 813.5,68.5 814.0,68.0 814.4,67.6 814.9,67.2 815.3,66.8 815.8,66.3 816.3,65.9 816.7,65.5 817.2,65.1 817.6,64.7 818.1,64.2 818.5,63.8 819.0,63.4 819.4,63.0 819.8,62.6 820.3,62.2 820.7,61.8 821.2,61.4 821.6,61.0 822.0,60.6 822.5,60.2 822.9,59.8 823.3,59.4 823.8,59.0 824.2,58.6 824.6,58.2 825.0,57.8 825.5,57.4 825.9,57.0 826.3,56.6 826.7,56.2 827.2,55.8 827.6,55.5 828.0,55.1 828.4,54.7 828.8,54.3 829.2,53.9 829.6,53.5 830.0,53.2 830.5,52.8 830.9,52.4 831.3,52.0 831.7,51.7 832.1,51.3 832.5,50.9 832.9,50.5 833.3,50.2 833.7,49.8" fill="none" stroke="#ff8a00" stroke-width="4.2" stroke-linejoin="round" clip-path="url(#ca)"/>
<polyline points="137.6,566.5 201.1,543.8 243.6,523.9 275.6,505.8 301.4,492.5 322.8,479.3 341.3,467.5 357.4,456.6 371.8,446.6 384.8,437.4 396.6,428.9 407.4,420.8 417.4,413.3 426.6,406.3 435.3,399.6 443.4,393.2 451.1,387.2 458.3,381.5 465.1,376.1 471.6,370.9 477.8,366.0 483.7,361.2 489.4,356.5 494.8,351.9 500.0,347.5 505.0,343.3 509.9,339.2 514.5,335.3 519.0,331.6 523.4,327.9 527.6,324.4 531.6,320.9 535.6,317.6 539.4,314.3 543.1,311.1 546.8,308.0 550.3,305.0 553.7,302.1 557.1,299.2 560.3,296.4 563.5,293.6 566.6,290.9 569.6,288.3 572.6,285.7 575.5,283.2 578.3,280.7 581.1,278.3 583.8,275.9 586.5,273.6 589.1,271.3 591.7,269.1 594.2,266.9 596.6,264.7 599.1,262.6 601.4,260.5 603.8,258.5 606.0,256.5 608.3,254.5 610.5,252.5 612.7,250.6 614.8,248.7 616.9,246.8 619.0,245.0 621.0,243.2 623.0,241.4 625.0,239.7 627.0,237.9 628.9,236.2 630.8,234.5 632.7,232.9 634.5,231.2 636.3,229.6 638.1,228.0 639.9,226.5 641.6,224.9 643.3,223.4 645.0,221.9 646.7,220.4 648.3,218.9 650.0,217.4 651.6,216.0 653.2,214.6 654.7,213.1 656.3,211.8 657.8,210.4 659.4,209.0 660.9,207.7 662.3,206.3 663.8,205.0 665.3,203.7 666.7,202.4 668.1,201.2 669.5,199.9 670.9,198.6 672.3,197.4 673.6,196.2 675.0,195.0 676.3,193.8 677.6,192.6 678.9,191.4 680.2,190.2 681.5,189.1 682.8,187.9 684.0,186.8 685.3,185.7 686.5,184.6 687.7,183.5 688.9,182.4 690.1,181.3 691.3,180.2 692.5,179.1 693.7,178.1 694.8,177.0 696.0,176.0 697.1,175.0 698.2,174.0 699.4,172.9 700.5,171.9 701.6,171.0 702.6,170.0 703.7,169.0 704.8,168.0 705.9,167.1 706.9,166.1 708.0,165.1 709.0,164.2 710.0,163.3 711.0,162.3 712.1,161.4 713.1,160.5 714.1,159.6 715.0,158.7 716.0,157.8 717.0,156.9 718.0,156.0 718.9,155.2 719.9,154.3 720.8,153.4 721.8,152.6 722.7,151.7 723.6,150.9 724.5,150.1 725.5,149.2 726.4,148.4 727.3,147.6 728.2,146.8 729.1,146.0 729.9,145.2 730.8,144.4 731.7,143.6 732.6,142.8 733.4,142.0 734.3,141.2 735.1,140.4 736.0,139.7 736.8,138.9 737.6,138.1 738.5,137.4 739.3,136.6 740.1,135.9 740.9,135.1 741.7,134.4 742.5,133.7 743.3,133.0 744.1,132.2 744.9,131.5 745.7,130.8 746.4,130.1 747.2,129.4 748.0,128.7 748.7,128.0 749.5,127.3 750.3,126.6 751.0,125.9 751.8,125.2 752.5,124.5 753.2,123.9 754.0,123.2 754.7,122.5 755.4,121.9 756.2,121.2 756.9,120.5 757.6,119.9 758.3,119.2 759.0,118.6 759.7,117.9 761.1,116.7 762.5,115.4 763.8,114.2 765.2,112.9 766.5,111.7 767.9,110.5 769.2,109.3 770.5,108.1 771.7,106.9 773.0,105.7 774.3,104.6 775.5,103.4 776.8,102.3 778.0,101.2 779.2,100.1 780.4,99.0 781.6,97.9 782.8,96.8 783.9,95.7 785.1,94.6 786.2,93.6 787.4,92.5 788.5,91.5 789.6,90.5 790.7,89.4 791.8,88.4 792.9,87.4 794.0,86.4 795.1,85.4 796.1,84.5 797.2,83.5 798.3,82.5 799.3,81.6 800.3,80.6 801.3,79.7 802.4,78.7 803.4,77.8 804.4,76.9 805.4,76.0 806.3,75.1 807.3,74.2 808.3,73.3 809.3,72.4 810.2,71.5 811.2,70.6 812.1,69.8 813.0,68.9 814.0,68.0 814.9,67.2 815.8,66.3 816.7,65.5 817.6,64.7 818.5,63.8 819.4,63.0 820.3,62.2 821.2,61.4 822.0,60.6 822.9,59.8 823.8,59.0 824.6,58.2 825.5,57.4 826.3,56.6 827.2,55.8 828.0,55.1 828.8,54.3 829.6,53.5 830.5,52.8 831.3,52.0 832.1,51.3 832.9,50.5" fill="none" stroke="none" marker-start="url(#ma3)" marker-mid="url(#ma3)" marker-end="url(#ma3)"/>
<polyline points="137.6,589.7 201.1,561.2 243.6,538.9 275.6,519.8 301.4,503.4 322.8,488.8 341.3,475.9 357.4,464.2 371.8,453.6 384.8,443.8 396.6,434.7 407.4,426.3 417.4,418.3 426.6,410.9 435.3,403.9 443.4,397.4 451.1,391.3 458.3,385.3 465.1,379.5 471.6,374.0 477.8,368.8 483.7,363.8 489.4,359.0 494.8,354.4 500.0,350.0 505.0,345.8 509.9,341.6 514.5,337.7 519.0,333.8 523.4,330.1 527.6,326.4 531.6,322.9 535.6,319.5 539.4,316.2 543.1,312.9 546.8,309.8 550.3,306.7 553.7,303.7 557.1,300.8 560.3,297.9 563.5,295.2 566.6,292.4 569.6,289.8 572.6,287.2 575.5,284.6 578.3,282.1 581.1,279.7 583.8,277.3 586.5,274.9 589.1,272.6 591.7,270.3 594.2,268.1 596.6,265.9 599.1,263.8 601.4,261.7 603.8,259.6 606.0,257.5 608.3,255.5 610.5,253.6 612.7,251.6 614.8,249.7 616.9,247.8 619.0,246.0 621.0,244.2 623.0,242.4 625.0,240.6 627.0,238.9 628.9,237.1 630.8,235.4 632.7,233.8 634.5,232.1 636.3,230.5 638.1,228.9 639.9,227.3 641.6,225.7 643.3,224.2 645.0,222.7 646.7,221.2 648.3,219.7 650.0,218.2 651.6,216.8 653.2,215.3 654.7,213.9 656.3,212.5 657.8,211.1 659.4,209.7 660.9,208.4 662.3,207.0 663.8,205.7 665.3,204.4 666.7,203.1 668.1,201.8 669.5,200.6 670.9,199.3 672.3,198.1 673.6,196.8 675.0,195.6 676.3,194.4 677.6,193.2 678.9,192.0 680.2,190.8 681.5,189.7 682.8,188.5 684.0,187.4 685.3,186.3 686.5,185.1 687.7,184.0 688.9,182.9 690.1,181.8 691.3,180.8 692.5,179.7 693.7,178.6 694.8,177.6 696.0,176.5 697.1,175.5 698.2,174.5 699.4,173.5 700.5,172.5 701.6,171.5 702.6,170.5 703.7,169.5 704.8,168.5 705.9,167.6 706.9,166.6 708.0,165.6 709.0,164.7 710.0,163.8 711.0,162.8 712.1,161.9 713.1,161.0 714.1,160.1 715.0,159.2 716.0,158.3 717.0,157.4 718.0,156.5 718.9,155.6 719.9,154.8 720.8,153.9 721.8,153.0 722.7,152.2 723.6,151.3 724.5,150.5 725.5,149.7 726.4,148.8 727.3,148.0 728.2,147.2 729.1,146.4 729.9,145.6 730.8,144.8 731.7,144.0 732.6,143.2 733.4,142.4 734.3,141.6 735.1,140.8 736.0,140.1 736.8,139.3 737.6,138.5 738.5,137.8 739.3,137.0 740.1,136.3 740.9,135.5 741.7,134.8 742.5,134.1 743.3,133.3 744.1,132.6 744.9,131.9 745.7,131.2 746.4,130.4 747.2,129.7 748.0,129.0 748.7,128.3 749.5,127.6 750.3,126.9 751.0,126.3 751.8,125.6 752.5,124.9 753.2,124.2 754.0,123.5 754.7,122.9 755.4,122.2 756.2,121.5 756.9,120.9 757.6,120.2 758.3,119.6 759.0,118.9 759.7,118.3 760.4,117.6 761.1,117.0 761.8,116.4 762.5,115.7 763.2,115.1 763.8,114.5 764.5,113.9 765.2,113.2 765.9,112.6 766.5,112.0 767.2,111.4 767.9,110.8 768.5,110.2 769.2,109.6 769.8,109.0 770.5,108.4 771.1,107.8 771.7,107.2 772.4,106.6 773.0,106.0 773.6,105.5 774.3,104.9 774.9,104.3 775.5,103.7 776.1,103.2 776.8,102.6 777.4,102.0 778.0,101.5 778.6,100.9 779.2,100.3 779.8,99.8 780.4,99.2 781.0,98.7 781.6,98.1 782.2,97.6 782.8,97.1 783.4,96.5 783.9,96.0 784.5,95.4 785.1,94.9 785.7,94.4 786.2,93.8 786.8,93.3 787.4,92.8 787.9,92.3 788.5,91.8 789.1,91.2 789.6,90.7 790.2,90.2 790.7,89.7 791.3,89.2 791.8,88.7 792.4,88.2 792.9,87.7 793.5,87.2 794.0,86.7 794.5,86.2 795.1,85.7 795.6,85.2 796.1,84.7 796.7,84.2 797.2,83.7 797.7,83.2 798.3,82.8 798.8,82.3 799.3,81.8 799.8,81.3 800.3,80.9 800.8,80.4 801.3,79.9 801.9,79.4 802.4,79.0 802.9,78.5 803.4,78.0 803.9,77.6 804.4,77.1 804.9,76.7 805.4,76.2 805.9,75.7 806.3,75.3 806.8,74.8 807.3,74.4 807.8,73.9 808.3,73.5 808.8,73.0 809.3,72.6 809.7,72.2 810.2,71.7 810.7,71.3 811.2,70.8 811.6,70.4 812.1,70.0 812.6,69.5 813.0,69.1 813.5,68.7 814.0,68.2 814.4,67.8 814.9,67.4 815.3,67.0 815.8,66.5 816.3,66.1 816.7,65.7 817.2,65.3 817.6,64.9 818.1,64.5 818.5,64.0 819.0,63.6 819.4,63.2 819.8,62.8 820.3,62.4 820.7,62.0 821.2,61.6 821.6,61.2 822.0,60.8 822.5,60.4 822.9,60.0 823.3,59.6 823.8,59.2 824.2,58.8 824.6,58.4 825.0,58.0 825.5,57.6 825.9,57.2 826.3,56.8 826.7,56.4 827.2,56.0 827.6,55.6 828.0,55.3 828.4,54.9 828.8,54.5 829.2,54.1 829.6,53.7 830.0,53.4 830.5,53.0 830.9,52.6 831.3,52.2 831.7,51.8 832.1,51.5 832.5,51.1 832.9,50.7 833.3,50.4 833.7,50.0 834.1,49.6" fill="none" stroke="#7d45cf" stroke-width="4.2" stroke-linejoin="round" clip-path="url(#ca)"/>
<polyline points="137.6,589.7 201.1,561.2 243.6,538.9 275.6,519.8 301.4,503.4 322.8,488.8 341.3,475.9 357.4,464.2 371.8,453.6 384.8,443.8 396.6,434.7 407.4,426.3 417.4,418.3 426.6,410.9 435.3,403.9 443.4,397.4 451.1,391.3 458.3,385.3 465.1,379.5 471.6,374.0 477.8,368.8 483.7,363.8 489.4,359.0 494.8,354.4 500.0,350.0 505.0,345.8 509.9,341.6 514.5,337.7 519.0,333.8 523.4,330.1 527.6,326.4 531.6,322.9 535.6,319.5 539.4,316.2 543.1,312.9 546.8,309.8 550.3,306.7 553.7,303.7 557.1,300.8 560.3,297.9 563.5,295.2 566.6,292.4 569.6,289.8 572.6,287.2 575.5,284.6 578.3,282.1 581.1,279.7 583.8,277.3 586.5,274.9 589.1,272.6 591.7,270.3 594.2,268.1 596.6,265.9 599.1,263.8 601.4,261.7 603.8,259.6 606.0,257.5 608.3,255.5 610.5,253.6 612.7,251.6 614.8,249.7 616.9,247.8 619.0,246.0 621.0,244.2 623.0,242.4 625.0,240.6 627.0,238.9 628.9,237.1 630.8,235.4 632.7,233.8 634.5,232.1 636.3,230.5 638.1,228.9 639.9,227.3 641.6,225.7 643.3,224.2 645.0,222.7 646.7,221.2 648.3,219.7 650.0,218.2 651.6,216.8 653.2,215.3 654.7,213.9 656.3,212.5 657.8,211.1 659.4,209.7 660.9,208.4 662.3,207.0 663.8,205.7 665.3,204.4 666.7,203.1 668.1,201.8 669.5,200.6 670.9,199.3 672.3,198.1 673.6,196.8 675.0,195.6 676.3,194.4 677.6,193.2 678.9,192.0 680.2,190.8 681.5,189.7 682.8,188.5 684.0,187.4 685.3,186.3 686.5,185.1 687.7,184.0 688.9,182.9 690.1,181.8 691.3,180.8 692.5,179.7 693.7,178.6 694.8,177.6 696.0,176.5 697.1,175.5 698.2,174.5 699.4,173.5 700.5,172.5 701.6,171.5 702.6,170.5 703.7,169.5 704.8,168.5 705.9,167.6 706.9,166.6 708.0,165.6 709.0,164.7 710.0,163.8 711.0,162.8 712.1,161.9 713.1,161.0 714.1,160.1 715.0,159.2 716.0,158.3 717.0,157.4 718.0,156.5 718.9,155.6 719.9,154.8 720.8,153.9 721.8,153.0 722.7,152.2 723.6,151.3 724.5,150.5 725.5,149.7 726.4,148.8 727.3,148.0 728.2,147.2 729.1,146.4 729.9,145.6 730.8,144.8 731.7,144.0 732.6,143.2 733.4,142.4 734.3,141.6 735.1,140.8 736.0,140.1 736.8,139.3 737.6,138.5 738.5,137.8 739.3,137.0 740.1,136.3 740.9,135.5 741.7,134.8 742.5,134.1 743.3,133.3 744.1,132.6 744.9,131.9 745.7,131.2 746.4,130.4 747.2,129.7 748.0,129.0 748.7,128.3 749.5,127.6 750.3,126.9 751.0,126.3 751.8,125.6 752.5,124.9 753.2,124.2 754.0,123.5 754.7,122.9 755.4,122.2 756.2,121.5 756.9,120.9 757.6,120.2 758.3,119.6 759.0,118.9 759.7,118.3 761.1,117.0 762.5,115.7 763.8,114.5 765.2,113.2 766.5,112.0 767.9,110.8 769.2,109.6 770.5,108.4 771.7,107.2 773.0,106.0 774.3,104.9 775.5,103.7 776.8,102.6 778.0,101.5 779.2,100.3 780.4,99.2 781.6,98.1 782.8,97.1 783.9,96.0 785.1,94.9 786.2,93.8 787.4,92.8 788.5,91.8 789.6,90.7 790.7,89.7 791.8,88.7 792.9,87.7 794.0,86.7 795.1,85.7 796.1,84.7 797.2,83.7 798.3,82.8 799.3,81.8 800.3,80.9 801.3,79.9 802.4,79.0 803.4,78.0 804.4,77.1 805.4,76.2 806.3,75.3 807.3,74.4 808.3,73.5 809.3,72.6 810.2,71.7 811.2,70.8 812.1,70.0 813.0,69.1 814.0,68.2 814.9,67.4 815.8,66.5 816.7,65.7 817.6,64.9 818.5,64.0 819.4,63.2 820.3,62.4 821.2,61.6 822.0,60.8 822.9,60.0 823.8,59.2 824.6,58.4 825.5,57.6 826.3,56.8 827.2,56.0 828.0,55.3 828.8,54.5 829.6,53.7 830.5,53.0 831.3,52.2 832.1,51.5 832.9,50.7 833.7,50.0" fill="none" stroke="none" marker-start="url(#ma4)" marker-mid="url(#ma4)" marker-end="url(#ma4)"/>
<polyline points="137.6,609.2 201.1,577.2 243.6,549.9 275.6,528.8 301.4,511.1 322.8,495.6 341.3,481.9 357.4,469.6 371.8,458.4 384.8,448.1 396.6,438.7 407.4,429.9 417.4,421.8 426.6,414.3 435.3,407.1 443.4,400.4 451.1,393.9 458.3,387.9 465.1,382.0 471.6,376.5 477.8,371.2 483.7,366.1 489.4,361.3 494.8,356.6 500.0,352.1 505.0,347.7 509.9,343.6 514.5,339.5 519.0,335.6 523.4,331.8 527.6,328.1 531.6,324.5 535.6,321.1 539.4,317.7 543.1,314.4 546.8,311.2 550.3,308.1 553.7,305.1 557.1,302.1 560.3,299.2 563.5,296.4 566.6,293.7 569.6,291.0 572.6,288.3 575.5,285.8 578.3,283.2 581.1,280.8 583.8,278.3 586.5,275.9 589.1,273.6 591.7,271.3 594.2,269.1 596.6,266.9 599.1,264.7 601.4,262.6 603.8,260.5 606.0,258.5 608.3,256.4 610.5,254.4 612.7,252.5 614.8,250.6 616.9,248.7 619.0,246.8 621.0,245.0 623.0,243.2 625.0,241.4 627.0,239.6 628.9,237.9 630.8,236.2 632.7,234.5 634.5,232.8 636.3,231.2 638.1,229.6 639.9,228.0 641.6,226.4 643.3,224.9 645.0,223.3 646.7,221.8 648.3,220.3 650.0,218.8 651.6,217.4 653.2,215.9 654.7,214.5 656.3,213.1 657.8,211.7 659.4,210.3 660.9,209.0 662.3,207.6 663.8,206.3 665.3,205.0 666.7,203.7 668.1,202.4 669.5,201.1 670.9,199.8 672.3,198.6 673.6,197.4 675.0,196.1 676.3,194.9 677.6,193.7 678.9,192.5 680.2,191.3 681.5,190.2 682.8,189.0 684.0,187.9 685.3,186.8 686.5,185.6 687.7,184.5 688.9,183.4 690.1,182.3 691.3,181.2 692.5,180.2 693.7,179.1 694.8,178.0 696.0,177.0 697.1,176.0 698.2,174.9 699.4,173.9 700.5,172.9 701.6,171.9 702.6,170.9 703.7,169.9 704.8,168.9 705.9,168.0 706.9,167.0 708.0,166.0 709.0,165.1 710.0,164.2 711.0,163.2 712.1,162.3 713.1,161.4 714.1,160.5 715.0,159.6 716.0,158.7 717.0,157.8 718.0,156.9 718.9,156.0 719.9,155.1 720.8,154.3 721.8,153.4 722.7,152.5 723.6,151.7 724.5,150.9 725.5,150.0 726.4,149.2 727.3,148.4 728.2,147.5 729.1,146.7 729.9,145.9 730.8,145.1 731.7,144.3 732.6,143.5 733.4,142.7 734.3,141.9 735.1,141.2 736.0,140.4 736.8,139.6 737.6,138.9 738.5,138.1 739.3,137.3 740.1,136.6 740.9,135.8 741.7,135.1 742.5,134.4 743.3,133.6 744.1,132.9 744.9,132.2 745.7,131.5 746.4,130.8 747.2,130.0 748.0,129.3 748.7,128.6 749.5,127.9 750.3,127.2 751.0,126.5 751.8,125.9 752.5,125.2 753.2,124.5 754.0,123.8 754.7,123.2 755.4,122.5 756.2,121.8 756.9,121.2 757.6,120.5 758.3,119.8 759.0,119.2 759.7,118.6 760.4,117.9 761.1,117.3 761.8,116.6 762.5,116.0 763.2,115.4 763.8,114.7 764.5,114.1 765.2,113.5 765.9,112.9 766.5,112.3 767.2,111.7 767.9,111.0 768.5,110.4 769.2,109.8 769.8,109.2 770.5,108.6 771.1,108.0 771.7,107.5 772.4,106.9 773.0,106.3 773.6,105.7 774.3,105.1 774.9,104.5 775.5,104.0 776.1,103.4 776.8,102.8 777.4,102.3 778.0,101.7 778.6,101.1 779.2,100.6 779.8,100.0 780.4,99.5 781.0,98.9 781.6,98.4 782.2,97.8 782.8,97.3 783.4,96.7 783.9,96.2 784.5,95.7 785.1,95.1 785.7,94.6 786.2,94.1 786.8,93.5 787.4,93.0 787.9,92.5 788.5,92.0 789.1,91.5 789.6,90.9 790.2,90.4 790.7,89.9 791.3,89.4 791.8,88.9 792.4,88.4 792.9,87.9 793.5,87.4 794.0,86.9 794.5,86.4 795.1,85.9 795.6,85.4 796.1,84.9 796.7,84.4 797.2,83.9 797.7,83.5 798.3,83.0 798.8,82.5 799.3,82.0 799.8,81.5 800.3,81.1 800.8,80.6 801.3,80.1 801.9,79.6 802.4,79.2 802.9,78.7 803.4,78.2 803.9,77.8 804.4,77.3 804.9,76.9 805.4,76.4 805.9,75.9 806.3,75.5 806.8,75.0 807.3,74.6 807.8,74.1 808.3,73.7 808.8,73.2 809.3,72.8 809.7,72.3 810.2,71.9 810.7,71.5 811.2,71.0 811.6,70.6 812.1,70.2 812.6,69.7 813.0,69.3 813.5,68.9 814.0,68.4 814.4,68.0 814.9,67.6 815.3,67.1 815.8,66.7 816.3,66.3 816.7,65.9 817.2,65.5 817.6,65.0 818.1,64.6 818.5,64.2 819.0,63.8 819.4,63.4 819.8,63.0 820.3,62.6 820.7,62.2 821.2,61.8 821.6,61.4 822.0,60.9 822.5,60.5 822.9,60.1 823.3,59.7 823.8,59.3 824.2,58.9 824.6,58.6 825.0,58.2 825.5,57.8 825.9,57.4 826.3,57.0 826.7,56.6 827.2,56.2 827.6,55.8 828.0,55.4 828.4,55.0 828.8,54.7 829.2,54.3 829.6,53.9 830.0,53.5 830.5,53.1 830.9,52.8 831.3,52.4 831.7,52.0 832.1,51.6 832.5,51.3 832.9,50.9 833.3,50.5 833.7,50.1 834.1,49.8" fill="none" stroke="#ffc98c" stroke-width="4.2" stroke-linejoin="round" clip-path="url(#ca)"/>
<polyline points="137.6,609.2 201.1,577.2 243.6,549.9 275.6,528.8 301.4,511.1 322.8,495.6 341.3,481.9 357.4,469.6 371.8,458.4 384.8,448.1 396.6,438.7 407.4,429.9 417.4,421.8 426.6,414.3 435.3,407.1 443.4,400.4 451.1,393.9 458.3,387.9 465.1,382.0 471.6,376.5 477.8,371.2 483.7,366.1 489.4,361.3 494.8,356.6 500.0,352.1 505.0,347.7 509.9,343.6 514.5,339.5 519.0,335.6 523.4,331.8 527.6,328.1 531.6,324.5 535.6,321.1 539.4,317.7 543.1,314.4 546.8,311.2 550.3,308.1 553.7,305.1 557.1,302.1 560.3,299.2 563.5,296.4 566.6,293.7 569.6,291.0 572.6,288.3 575.5,285.8 578.3,283.2 581.1,280.8 583.8,278.3 586.5,275.9 589.1,273.6 591.7,271.3 594.2,269.1 596.6,266.9 599.1,264.7 601.4,262.6 603.8,260.5 606.0,258.5 608.3,256.4 610.5,254.4 612.7,252.5 614.8,250.6 616.9,248.7 619.0,246.8 621.0,245.0 623.0,243.2 625.0,241.4 627.0,239.6 628.9,237.9 630.8,236.2 632.7,234.5 634.5,232.8 636.3,231.2 638.1,229.6 639.9,228.0 641.6,226.4 643.3,224.9 645.0,223.3 646.7,221.8 648.3,220.3 650.0,218.8 651.6,217.4 653.2,215.9 654.7,214.5 656.3,213.1 657.8,211.7 659.4,210.3 660.9,209.0 662.3,207.6 663.8,206.3 665.3,205.0 666.7,203.7 668.1,202.4 669.5,201.1 670.9,199.8 672.3,198.6 673.6,197.4 675.0,196.1 676.3,194.9 677.6,193.7 678.9,192.5 680.2,191.3 681.5,190.2 682.8,189.0 684.0,187.9 685.3,186.8 686.5,185.6 687.7,184.5 688.9,183.4 690.1,182.3 691.3,181.2 692.5,180.2 693.7,179.1 694.8,178.0 696.0,177.0 697.1,176.0 698.2,174.9 699.4,173.9 700.5,172.9 701.6,171.9 702.6,170.9 703.7,169.9 704.8,168.9 705.9,168.0 706.9,167.0 708.0,166.0 709.0,165.1 710.0,164.2 711.0,163.2 712.1,162.3 713.1,161.4 714.1,160.5 715.0,159.6 716.0,158.7 717.0,157.8 718.0,156.9 718.9,156.0 719.9,155.1 720.8,154.3 721.8,153.4 722.7,152.5 723.6,151.7 724.5,150.9 725.5,150.0 726.4,149.2 727.3,148.4 728.2,147.5 729.1,146.7 729.9,145.9 730.8,145.1 731.7,144.3 732.6,143.5 733.4,142.7 734.3,141.9 735.1,141.2 736.0,140.4 736.8,139.6 737.6,138.9 738.5,138.1 739.3,137.3 740.1,136.6 740.9,135.8 741.7,135.1 742.5,134.4 743.3,133.6 744.1,132.9 744.9,132.2 745.7,131.5 746.4,130.8 747.2,130.0 748.0,129.3 748.7,128.6 749.5,127.9 750.3,127.2 751.0,126.5 751.8,125.9 752.5,125.2 753.2,124.5 754.0,123.8 754.7,123.2 755.4,122.5 756.2,121.8 756.9,121.2 757.6,120.5 758.3,119.8 759.0,119.2 759.7,118.6 761.1,117.3 762.5,116.0 763.8,114.7 765.2,113.5 766.5,112.3 767.9,111.0 769.2,109.8 770.5,108.6 771.7,107.5 773.0,106.3 774.3,105.1 775.5,104.0 776.8,102.8 778.0,101.7 779.2,100.6 780.4,99.5 781.6,98.4 782.8,97.3 783.9,96.2 785.1,95.1 786.2,94.1 787.4,93.0 788.5,92.0 789.6,90.9 790.7,89.9 791.8,88.9 792.9,87.9 794.0,86.9 795.1,85.9 796.1,84.9 797.2,83.9 798.3,83.0 799.3,82.0 800.3,81.1 801.3,80.1 802.4,79.2 803.4,78.2 804.4,77.3 805.4,76.4 806.3,75.5 807.3,74.6 808.3,73.7 809.3,72.8 810.2,71.9 811.2,71.0 812.1,70.2 813.0,69.3 814.0,68.4 814.9,67.6 815.8,66.7 816.7,65.9 817.6,65.0 818.5,64.2 819.4,63.4 820.3,62.6 821.2,61.8 822.0,60.9 822.9,60.1 823.8,59.3 824.6,58.6 825.5,57.8 826.3,57.0 827.2,56.2 828.0,55.4 828.8,54.7 829.6,53.9 830.5,53.1 831.3,52.4 832.1,51.6 832.9,50.9 833.7,50.1" fill="none" stroke="none" marker-start="url(#ma5)" marker-mid="url(#ma5)" marker-end="url(#ma5)"/>
<polyline points="137.6,622.7 201.1,586.5 243.6,558.2 275.6,535.6 301.4,516.8 322.8,500.4 341.3,486.1 357.4,473.2 371.8,461.7 384.8,451.1 396.6,441.4 407.4,432.4 417.4,424.1 426.6,416.3 435.3,409.0 443.4,402.0 451.1,395.5 458.3,389.3 465.1,383.4 471.6,377.8 477.8,372.5 483.7,367.3 489.4,362.4 494.8,357.7 500.0,353.1 505.0,348.7 509.9,344.5 514.5,340.4 519.0,336.5 523.4,332.6 527.6,328.9 531.6,325.3 535.6,321.8 539.4,318.4 543.1,315.1 546.8,311.9 550.3,308.8 553.7,305.7 557.1,302.8 560.3,299.9 563.5,297.0 566.6,294.2 569.6,291.5 572.6,288.9 575.5,286.3 578.3,283.8 581.1,281.3 583.8,278.8 586.5,276.4 589.1,274.1 591.7,271.8 594.2,269.6 596.6,267.3 599.1,265.2 601.4,263.0 603.8,260.9 606.0,258.9 608.3,256.8 610.5,254.9 612.7,252.9 614.8,251.0 616.9,249.1 619.0,247.2 621.0,245.3 623.0,243.5 625.0,241.7 627.0,240.0 628.9,238.2 630.8,236.5 632.7,234.8 634.5,233.2 636.3,231.5 638.1,229.9 639.9,228.3 641.6,226.7 643.3,225.2 645.0,223.6 646.7,222.1 648.3,220.6 650.0,219.1 651.6,217.7 653.2,216.2 654.7,214.8 656.3,213.4 657.8,212.0 659.4,210.6 660.9,209.2 662.3,207.9 663.8,206.6 665.3,205.2 666.7,203.9 668.1,202.6 669.5,201.4 670.9,200.1 672.3,198.8 673.6,197.6 675.0,196.4 676.3,195.2 677.6,194.0 678.9,192.8 680.2,191.6 681.5,190.4 682.8,189.3 684.0,188.1 685.3,187.0 686.5,185.9 687.7,184.7 688.9,183.6 690.1,182.5 691.3,181.5 692.5,180.4 693.7,179.3 694.8,178.3 696.0,177.2 697.1,176.2 698.2,175.1 699.4,174.1 700.5,173.1 701.6,172.1 702.6,171.1 703.7,170.1 704.8,169.1 705.9,168.2 706.9,167.2 708.0,166.2 709.0,165.3 710.0,164.3 711.0,163.4 712.1,162.5 713.1,161.6 714.1,160.6 715.0,159.7 716.0,158.8 717.0,157.9 718.0,157.1 718.9,156.2 719.9,155.3 720.8,154.4 721.8,153.6 722.7,152.7 723.6,151.9 724.5,151.0 725.5,150.2 726.4,149.3 727.3,148.5 728.2,147.7 729.1,146.9 729.9,146.1 730.8,145.3 731.7,144.5 732.6,143.7 733.4,142.9 734.3,142.1 735.1,141.3 736.0,140.5 736.8,139.8 737.6,139.0 738.5,138.2 739.3,137.5 740.1,136.7 740.9,136.0 741.7,135.3 742.5,134.5 743.3,133.8 744.1,133.1 744.9,132.3 745.7,131.6 746.4,130.9 747.2,130.2 748.0,129.5 748.7,128.8 749.5,128.1 750.3,127.4 751.0,126.7 751.8,126.0 752.5,125.3 753.2,124.6 754.0,124.0 754.7,123.3 755.4,122.6 756.2,121.9 756.9,121.3 757.6,120.6 758.3,120.0 759.0,119.3 759.7,118.7 760.4,118.0 761.1,117.4 761.8,116.8 762.5,116.1 763.2,115.5 763.8,114.9 764.5,114.2 765.2,113.6 765.9,113.0 766.5,112.4 767.2,111.8 767.9,111.2 768.5,110.6 769.2,110.0 769.8,109.4 770.5,108.8 771.1,108.2 771.7,107.6 772.4,107.0 773.0,106.4 773.6,105.8 774.3,105.2 774.9,104.7 775.5,104.1 776.1,103.5 776.8,102.9 777.4,102.4 778.0,101.8 778.6,101.2 779.2,100.7 779.8,100.1 780.4,99.6 781.0,99.0 781.6,98.5 782.2,97.9 782.8,97.4 783.4,96.8 783.9,96.3 784.5,95.8 785.1,95.2 785.7,94.7 786.2,94.2 786.8,93.6 787.4,93.1 787.9,92.6 788.5,92.1 789.1,91.6 789.6,91.0 790.2,90.5 790.7,90.0 791.3,89.5 791.8,89.0 792.4,88.5 792.9,88.0 793.5,87.5 794.0,87.0 794.5,86.5 795.1,86.0 795.6,85.5 796.1,85.0 796.7,84.5 797.2,84.0 797.7,83.5 798.3,83.1 798.8,82.6 799.3,82.1 799.8,81.6 800.3,81.1 800.8,80.7 801.3,80.2 801.9,79.7 802.4,79.3 802.9,78.8 803.4,78.3 803.9,77.9 804.4,77.4 804.9,76.9 805.4,76.5 805.9,76.0 806.3,75.6 806.8,75.1 807.3,74.7 807.8,74.2 808.3,73.8 808.8,73.3 809.3,72.9 809.7,72.4 810.2,72.0 810.7,71.5 811.2,71.1 811.6,70.7 812.1,70.2 812.6,69.8 813.0,69.4 813.5,68.9 814.0,68.5 814.4,68.1 814.9,67.7 815.3,67.2 815.8,66.8 816.3,66.4 816.7,66.0 817.2,65.5 817.6,65.1 818.1,64.7 818.5,64.3 819.0,63.9 819.4,63.5 819.8,63.1 820.3,62.6 820.7,62.2 821.2,61.8 821.6,61.4 822.0,61.0 822.5,60.6 822.9,60.2 823.3,59.8 823.8,59.4 824.2,59.0 824.6,58.6 825.0,58.2 825.5,57.8 825.9,57.4 826.3,57.1 826.7,56.7 827.2,56.3 827.6,55.9 828.0,55.5 828.4,55.1 828.8,54.7 829.2,54.3 829.6,54.0 830.0,53.6 830.5,53.2 830.9,52.8 831.3,52.5 831.7,52.1 832.1,51.7 832.5,51.3 832.9,51.0 833.3,50.6 833.7,50.2 834.1,49.8" fill="none" stroke="#7c00b8" stroke-width="4.2" stroke-linejoin="round" clip-path="url(#ca)"/>
<polyline points="137.6,622.7 201.1,586.5 243.6,558.2 275.6,535.6 301.4,516.8 322.8,500.4 341.3,486.1 357.4,473.2 371.8,461.7 384.8,451.1 396.6,441.4 407.4,432.4 417.4,424.1 426.6,416.3 435.3,409.0 443.4,402.0 451.1,395.5 458.3,389.3 465.1,383.4 471.6,377.8 477.8,372.5 483.7,367.3 489.4,362.4 494.8,357.7 500.0,353.1 505.0,348.7 509.9,344.5 514.5,340.4 519.0,336.5 523.4,332.6 527.6,328.9 531.6,325.3 535.6,321.8 539.4,318.4 543.1,315.1 546.8,311.9 550.3,308.8 553.7,305.7 557.1,302.8 560.3,299.9 563.5,297.0 566.6,294.2 569.6,291.5 572.6,288.9 575.5,286.3 578.3,283.8 581.1,281.3 583.8,278.8 586.5,276.4 589.1,274.1 591.7,271.8 594.2,269.6 596.6,267.3 599.1,265.2 601.4,263.0 603.8,260.9 606.0,258.9 608.3,256.8 610.5,254.9 612.7,252.9 614.8,251.0 616.9,249.1 619.0,247.2 621.0,245.3 623.0,243.5 625.0,241.7 627.0,240.0 628.9,238.2 630.8,236.5 632.7,234.8 634.5,233.2 636.3,231.5 638.1,229.9 639.9,228.3 641.6,226.7 643.3,225.2 645.0,223.6 646.7,222.1 648.3,220.6 650.0,219.1 651.6,217.7 653.2,216.2 654.7,214.8 656.3,213.4 657.8,212.0 659.4,210.6 660.9,209.2 662.3,207.9 663.8,206.6 665.3,205.2 666.7,203.9 668.1,202.6 669.5,201.4 670.9,200.1 672.3,198.8 673.6,197.6 675.0,196.4 676.3,195.2 677.6,194.0 678.9,192.8 680.2,191.6 681.5,190.4 682.8,189.3 684.0,188.1 685.3,187.0 686.5,185.9 687.7,184.7 688.9,183.6 690.1,182.5 691.3,181.5 692.5,180.4 693.7,179.3 694.8,178.3 696.0,177.2 697.1,176.2 698.2,175.1 699.4,174.1 700.5,173.1 701.6,172.1 702.6,171.1 703.7,170.1 704.8,169.1 705.9,168.2 706.9,167.2 708.0,166.2 709.0,165.3 710.0,164.3 711.0,163.4 712.1,162.5 713.1,161.6 714.1,160.6 715.0,159.7 716.0,158.8 717.0,157.9 718.0,157.1 718.9,156.2 719.9,155.3 720.8,154.4 721.8,153.6 722.7,152.7 723.6,151.9 724.5,151.0 725.5,150.2 726.4,149.3 727.3,148.5 728.2,147.7 729.1,146.9 729.9,146.1 730.8,145.3 731.7,144.5 732.6,143.7 733.4,142.9 734.3,142.1 735.1,141.3 736.0,140.5 736.8,139.8 737.6,139.0 738.5,138.2 739.3,137.5 740.1,136.7 740.9,136.0 741.7,135.3 742.5,134.5 743.3,133.8 744.1,133.1 744.9,132.3 745.7,131.6 746.4,130.9 747.2,130.2 748.0,129.5 748.7,128.8 749.5,128.1 750.3,127.4 751.0,126.7 751.8,126.0 752.5,125.3 753.2,124.6 754.0,124.0 754.7,123.3 755.4,122.6 756.2,121.9 756.9,121.3 757.6,120.6 758.3,120.0 759.0,119.3 759.7,118.7 761.1,117.4 762.5,116.1 763.8,114.9 765.2,113.6 766.5,112.4 767.9,111.2 769.2,110.0 770.5,108.8 771.7,107.6 773.0,106.4 774.3,105.2 775.5,104.1 776.8,102.9 778.0,101.8 779.2,100.7 780.4,99.6 781.6,98.5 782.8,97.4 783.9,96.3 785.1,95.2 786.2,94.2 787.4,93.1 788.5,92.1 789.6,91.0 790.7,90.0 791.8,89.0 792.9,88.0 794.0,87.0 795.1,86.0 796.1,85.0 797.2,84.0 798.3,83.1 799.3,82.1 800.3,81.1 801.3,80.2 802.4,79.3 803.4,78.3 804.4,77.4 805.4,76.5 806.3,75.6 807.3,74.7 808.3,73.8 809.3,72.9 810.2,72.0 811.2,71.1 812.1,70.2 813.0,69.4 814.0,68.5 814.9,67.7 815.8,66.8 816.7,66.0 817.6,65.1 818.5,64.3 819.4,63.5 820.3,62.6 821.2,61.8 822.0,61.0 822.9,60.2 823.8,59.4 824.6,58.6 825.5,57.8 826.3,57.1 827.2,56.3 828.0,55.5 828.8,54.7 829.6,54.0 830.5,53.2 831.3,52.5 832.1,51.7 832.9,51.0 833.7,50.2" fill="none" stroke="none" marker-start="url(#ma6)" marker-mid="url(#ma6)" marker-end="url(#ma6)"/>
<polyline points="137.6,633.1 201.1,594.5 243.6,564.4 275.6,540.4 301.4,520.6 322.8,503.7 341.3,488.9 357.4,475.8 371.8,463.9 384.8,453.1 396.6,443.2 407.4,434.1 417.4,425.6 426.6,417.7 435.3,410.3 443.4,403.3 451.1,396.7 458.3,390.4 465.1,384.5 471.6,378.8 477.8,373.4 483.7,368.2 489.4,363.2 494.8,358.5 500.0,353.9 505.0,349.5 509.9,345.2 514.5,341.1 519.0,337.1 523.4,333.3 527.6,329.5 531.6,325.9 535.6,322.4 539.4,319.0 543.1,315.7 546.8,312.5 550.3,309.3 553.7,306.2 557.1,303.3 560.3,300.3 563.5,297.5 566.6,294.7 569.6,292.0 572.6,289.3 575.5,286.7 578.3,284.2 581.1,281.7 583.8,279.2 586.5,276.8 589.1,274.5 591.7,272.2 594.2,269.9 596.6,267.7 599.1,265.5 601.4,263.4 603.8,261.3 606.0,259.2 608.3,257.2 610.5,255.2 612.7,253.2 614.8,251.3 616.9,249.4 619.0,247.5 621.0,245.6 623.0,243.8 625.0,242.0 627.0,240.3 628.9,238.5 630.8,236.8 632.7,235.1 634.5,233.4 636.3,231.8 638.1,230.2 639.9,228.6 641.6,227.0 643.3,225.4 645.0,223.9 646.7,222.4 648.3,220.9 650.0,219.4 651.6,217.9 653.2,216.5 654.7,215.0 656.3,213.6 657.8,212.2 659.4,210.8 660.9,209.5 662.3,208.1 663.8,206.8 665.3,205.4 666.7,204.1 668.1,202.8 669.5,201.6 670.9,200.3 672.3,199.0 673.6,197.8 675.0,196.6 676.3,195.4 677.6,194.1 678.9,193.0 680.2,191.8 681.5,190.6 682.8,189.4 684.0,188.3 685.3,187.2 686.5,186.0 687.7,184.9 688.9,183.8 690.1,182.7 691.3,181.6 692.5,180.5 693.7,179.5 694.8,178.4 696.0,177.4 697.1,176.3 698.2,175.3 699.4,174.3 700.5,173.3 701.6,172.3 702.6,171.3 703.7,170.3 704.8,169.3 705.9,168.3 706.9,167.3 708.0,166.4 709.0,165.4 710.0,164.5 711.0,163.6 712.1,162.6 713.1,161.7 714.1,160.8 715.0,159.9 716.0,159.0 717.0,158.1 718.0,157.2 718.9,156.3 719.9,155.4 720.8,154.6 721.8,153.7 722.7,152.8 723.6,152.0 724.5,151.2 725.5,150.3 726.4,149.5 727.3,148.6 728.2,147.8 729.1,147.0 729.9,146.2 730.8,145.4 731.7,144.6 732.6,143.8 733.4,143.0 734.3,142.2 735.1,141.4 736.0,140.7 736.8,139.9 737.6,139.1 738.5,138.4 739.3,137.6 740.1,136.9 740.9,136.1 741.7,135.4 742.5,134.6 743.3,133.9 744.1,133.2 744.9,132.4 745.7,131.7 746.4,131.0 747.2,130.3 748.0,129.6 748.7,128.9 749.5,128.2 750.3,127.5 751.0,126.8 751.8,126.1 752.5,125.4 753.2,124.7 754.0,124.1 754.7,123.4 755.4,122.7 756.2,122.1 756.9,121.4 757.6,120.7 758.3,120.1 759.0,119.4 759.7,118.8 760.4,118.1 761.1,117.5 761.8,116.9 762.5,116.2 763.2,115.6 763.8,115.0 764.5,114.3 765.2,113.7 765.9,113.1 766.5,112.5 767.2,111.9 767.9,111.3 768.5,110.6 769.2,110.0 769.8,109.4 770.5,108.8 771.1,108.3 771.7,107.7 772.4,107.1 773.0,106.5 773.6,105.9 774.3,105.3 774.9,104.7 775.5,104.2 776.1,103.6 776.8,103.0 777.4,102.5 778.0,101.9 778.6,101.3 779.2,100.8 779.8,100.2 780.4,99.7 781.0,99.1 781.6,98.6 782.2,98.0 782.8,97.5 783.4,96.9 783.9,96.4 784.5,95.9 785.1,95.3 785.7,94.8 786.2,94.3 786.8,93.7 787.4,93.2 787.9,92.7 788.5,92.2 789.1,91.6 789.6,91.1 790.2,90.6 790.7,90.1 791.3,89.6 791.8,89.1 792.4,88.6 792.9,88.1 793.5,87.6 794.0,87.1 794.5,86.6 795.1,86.1 795.6,85.6 796.1,85.1 796.7,84.6 797.2,84.1 797.7,83.6 798.3,83.1 798.8,82.7 799.3,82.2 799.8,81.7 800.3,81.2 800.8,80.7 801.3,80.3 801.9,79.8 802.4,79.3 802.9,78.9 803.4,78.4 803.9,77.9 804.4,77.5 804.9,77.0 805.4,76.6 805.9,76.1 806.3,75.6 806.8,75.2 807.3,74.7 807.8,74.3 808.3,73.8 808.8,73.4 809.3,72.9 809.7,72.5 810.2,72.1 810.7,71.6 811.2,71.2 811.6,70.7 812.1,70.3 812.6,69.9 813.0,69.4 813.5,69.0 814.0,68.6 814.4,68.1 814.9,67.7 815.3,67.3 815.8,66.9 816.3,66.4 816.7,66.0 817.2,65.6 817.6,65.2 818.1,64.8 818.5,64.4 819.0,63.9 819.4,63.5 819.8,63.1 820.3,62.7 820.7,62.3 821.2,61.9 821.6,61.5 822.0,61.1 822.5,60.7 822.9,60.3 823.3,59.9 823.8,59.5 824.2,59.1 824.6,58.7 825.0,58.3 825.5,57.9 825.9,57.5 826.3,57.1 826.7,56.7 827.2,56.3 827.6,55.9 828.0,55.6 828.4,55.2 828.8,54.8 829.2,54.4 829.6,54.0 830.0,53.6 830.5,53.3 830.9,52.9 831.3,52.5 831.7,52.1 832.1,51.8 832.5,51.4 832.9,51.0 833.3,50.6 833.7,50.3 834.1,49.9 834.5,49.5" fill="none" stroke="#55e1b4" stroke-width="4.2" stroke-linejoin="round" clip-path="url(#ca)"/>
<polyline points="137.6,633.1 201.1,594.5 243.6,564.4 275.6,540.4 301.4,520.6 322.8,503.7 341.3,488.9 357.4,475.8 371.8,463.9 384.8,453.1 396.6,443.2 407.4,434.1 417.4,425.6 426.6,417.7 435.3,410.3 443.4,403.3 451.1,396.7 458.3,390.4 465.1,384.5 471.6,378.8 477.8,373.4 483.7,368.2 489.4,363.2 494.8,358.5 500.0,353.9 505.0,349.5 509.9,345.2 514.5,341.1 519.0,337.1 523.4,333.3 527.6,329.5 531.6,325.9 535.6,322.4 539.4,319.0 543.1,315.7 546.8,312.5 550.3,309.3 553.7,306.2 557.1,303.3 560.3,300.3 563.5,297.5 566.6,294.7 569.6,292.0 572.6,289.3 575.5,286.7 578.3,284.2 581.1,281.7 583.8,279.2 586.5,276.8 589.1,274.5 591.7,272.2 594.2,269.9 596.6,267.7 599.1,265.5 601.4,263.4 603.8,261.3 606.0,259.2 608.3,257.2 610.5,255.2 612.7,253.2 614.8,251.3 616.9,249.4 619.0,247.5 621.0,245.6 623.0,243.8 625.0,242.0 627.0,240.3 628.9,238.5 630.8,236.8 632.7,235.1 634.5,233.4 636.3,231.8 638.1,230.2 639.9,228.6 641.6,227.0 643.3,225.4 645.0,223.9 646.7,222.4 648.3,220.9 650.0,219.4 651.6,217.9 653.2,216.5 654.7,215.0 656.3,213.6 657.8,212.2 659.4,210.8 660.9,209.5 662.3,208.1 663.8,206.8 665.3,205.4 666.7,204.1 668.1,202.8 669.5,201.6 670.9,200.3 672.3,199.0 673.6,197.8 675.0,196.6 676.3,195.4 677.6,194.1 678.9,193.0 680.2,191.8 681.5,190.6 682.8,189.4 684.0,188.3 685.3,187.2 686.5,186.0 687.7,184.9 688.9,183.8 690.1,182.7 691.3,181.6 692.5,180.5 693.7,179.5 694.8,178.4 696.0,177.4 697.1,176.3 698.2,175.3 699.4,174.3 700.5,173.3 701.6,172.3 702.6,171.3 703.7,170.3 704.8,169.3 705.9,168.3 706.9,167.3 708.0,166.4 709.0,165.4 710.0,164.5 711.0,163.6 712.1,162.6 713.1,161.7 714.1,160.8 715.0,159.9 716.0,159.0 717.0,158.1 718.0,157.2 718.9,156.3 719.9,155.4 720.8,154.6 721.8,153.7 722.7,152.8 723.6,152.0 724.5,151.2 725.5,150.3 726.4,149.5 727.3,148.6 728.2,147.8 729.1,147.0 729.9,146.2 730.8,145.4 731.7,144.6 732.6,143.8 733.4,143.0 734.3,142.2 735.1,141.4 736.0,140.7 736.8,139.9 737.6,139.1 738.5,138.4 739.3,137.6 740.1,136.9 740.9,136.1 741.7,135.4 742.5,134.6 743.3,133.9 744.1,133.2 744.9,132.4 745.7,131.7 746.4,131.0 747.2,130.3 748.0,129.6 748.7,128.9 749.5,128.2 750.3,127.5 751.0,126.8 751.8,126.1 752.5,125.4 753.2,124.7 754.0,124.1 754.7,123.4 755.4,122.7 756.2,122.1 756.9,121.4 757.6,120.7 758.3,120.1 759.0,119.4 759.7,118.8 761.1,117.5 762.5,116.2 763.8,115.0 765.2,113.7 766.5,112.5 767.9,111.3 769.2,110.0 770.5,108.8 771.7,107.7 773.0,106.5 774.3,105.3 775.5,104.2 776.8,103.0 778.0,101.9 779.2,100.8 780.4,99.7 781.6,98.6 782.8,97.5 783.9,96.4 785.1,95.3 786.2,94.3 787.4,93.2 788.5,92.2 789.6,91.1 790.7,90.1 791.8,89.1 792.9,88.1 794.0,87.1 795.1,86.1 796.1,85.1 797.2,84.1 798.3,83.1 799.3,82.2 800.3,81.2 801.3,80.3 802.4,79.3 803.4,78.4 804.4,77.5 805.4,76.6 806.3,75.6 807.3,74.7 808.3,73.8 809.3,72.9 810.2,72.1 811.2,71.2 812.1,70.3 813.0,69.4 814.0,68.6 814.9,67.7 815.8,66.9 816.7,66.0 817.6,65.2 818.5,64.4 819.4,63.5 820.3,62.7 821.2,61.9 822.0,61.1 822.9,60.3 823.8,59.5 824.6,58.7 825.5,57.9 826.3,57.1 827.2,56.3 828.0,55.6 828.8,54.8 829.6,54.0 830.5,53.3 831.3,52.5 832.1,51.8 832.9,51.0 833.7,50.3" fill="none" stroke="none" marker-start="url(#ma7)" marker-mid="url(#ma7)" marker-end="url(#ma7)"/>
<polyline points="137.6,643.6 201.1,600.6 243.6,569.0 275.6,544.2 301.4,524.0 322.8,506.7 341.3,491.6 357.4,478.1 371.8,466.0 384.8,455.1 396.6,445.1 407.4,435.8 417.4,427.2 426.6,419.2 435.3,411.7 443.4,404.6 451.1,398.0 458.3,391.6 465.1,385.6 471.6,379.9 477.8,374.5 483.7,369.2 489.4,364.2 494.8,359.4 500.0,354.8 505.0,350.4 509.9,346.1 514.5,341.9 519.0,337.9 523.4,334.1 527.6,330.3 531.6,326.7 535.6,323.1 539.4,319.7 543.1,316.4 546.8,313.1 550.3,309.9 553.7,306.9 557.1,303.9 560.3,300.9 563.5,298.1 566.6,295.3 569.6,292.5 572.6,289.9 575.5,287.3 578.3,284.7 581.1,282.2 583.8,279.7 586.5,277.3 589.1,275.0 591.7,272.7 594.2,270.4 596.6,268.2 599.1,266.0 601.4,263.8 603.8,261.7 606.0,259.6 608.3,257.6 610.5,255.6 612.7,253.6 614.8,251.7 616.9,249.8 619.0,247.9 621.0,246.0 623.0,244.2 625.0,242.4 627.0,240.6 628.9,238.9 630.8,237.2 632.7,235.5 634.5,233.8 636.3,232.1 638.1,230.5 639.9,228.9 641.6,227.3 643.3,225.8 645.0,224.2 646.7,222.7 648.3,221.2 650.0,219.7 651.6,218.2 653.2,216.8 654.7,215.3 656.3,213.9 657.8,212.5 659.4,211.1 660.9,209.7 662.3,208.4 663.8,207.0 665.3,205.7 666.7,204.4 668.1,203.1 669.5,201.8 670.9,200.6 672.3,199.3 673.6,198.1 675.0,196.8 676.3,195.6 677.6,194.4 678.9,193.2 680.2,192.0 681.5,190.8 682.8,189.7 684.0,188.5 685.3,187.4 686.5,186.3 687.7,185.1 688.9,184.0 690.1,182.9 691.3,181.8 692.5,180.8 693.7,179.7 694.8,178.6 696.0,177.6 697.1,176.5 698.2,175.5 699.4,174.5 700.5,173.5 701.6,172.5 702.6,171.5 703.7,170.5 704.8,169.5 705.9,168.5 706.9,167.5 708.0,166.6 709.0,165.6 710.0,164.7 711.0,163.8 712.1,162.8 713.1,161.9 714.1,161.0 715.0,160.1 716.0,159.2 717.0,158.3 718.0,157.4 718.9,156.5 719.9,155.6 720.8,154.7 721.8,153.9 722.7,153.0 723.6,152.2 724.5,151.3 725.5,150.5 726.4,149.7 727.3,148.8 728.2,148.0 729.1,147.2 729.9,146.4 730.8,145.6 731.7,144.8 732.6,144.0 733.4,143.2 734.3,142.4 735.1,141.6 736.0,140.8 736.8,140.1 737.6,139.3 738.5,138.5 739.3,137.8 740.1,137.0 740.9,136.3 741.7,135.5 742.5,134.8 743.3,134.0 744.1,133.3 744.9,132.6 745.7,131.9 746.4,131.2 747.2,130.4 748.0,129.7 748.7,129.0 749.5,128.3 750.3,127.6 751.0,126.9 751.8,126.2 752.5,125.6 753.2,124.9 754.0,124.2 754.7,123.5 755.4,122.9 756.2,122.2 756.9,121.5 757.6,120.9 758.3,120.2 759.0,119.6 759.7,118.9 760.4,118.3 761.1,117.6 761.8,117.0 762.5,116.4 763.2,115.7 763.8,115.1 764.5,114.5 765.2,113.8 765.9,113.2 766.5,112.6 767.2,112.0 767.9,111.4 768.5,110.8 769.2,110.2 769.8,109.6 770.5,109.0 771.1,108.4 771.7,107.8 772.4,107.2 773.0,106.6 773.6,106.0 774.3,105.4 774.9,104.9 775.5,104.3 776.1,103.7 776.8,103.1 777.4,102.6 778.0,102.0 778.6,101.5 779.2,100.9 779.8,100.3 780.4,99.8 781.0,99.2 781.6,98.7 782.2,98.1 782.8,97.6 783.4,97.0 783.9,96.5 784.5,96.0 785.1,95.4 785.7,94.9 786.2,94.4 786.8,93.8 787.4,93.3 787.9,92.8 788.5,92.3 789.1,91.7 789.6,91.2 790.2,90.7 790.7,90.2 791.3,89.7 791.8,89.2 792.4,88.7 792.9,88.2 793.5,87.7 794.0,87.2 794.5,86.7 795.1,86.2 795.6,85.7 796.1,85.2 796.7,84.7 797.2,84.2 797.7,83.7 798.3,83.2 798.8,82.8 799.3,82.3 799.8,81.8 800.3,81.3 800.8,80.8 801.3,80.4 801.9,79.9 802.4,79.4 802.9,79.0 803.4,78.5 803.9,78.0 804.4,77.6 804.9,77.1 805.4,76.6 805.9,76.2 806.3,75.7 806.8,75.3 807.3,74.8 807.8,74.4 808.3,73.9 808.8,73.5 809.3,73.0 809.7,72.6 810.2,72.2 810.7,71.7 811.2,71.3 811.6,70.8 812.1,70.4 812.6,70.0 813.0,69.5 813.5,69.1 814.0,68.7 814.4,68.2 814.9,67.8 815.3,67.4 815.8,67.0 816.3,66.5 816.7,66.1 817.2,65.7 817.6,65.3 818.1,64.9 818.5,64.4 819.0,64.0 819.4,63.6 819.8,63.2 820.3,62.8 820.7,62.4 821.2,62.0 821.6,61.6 822.0,61.2 822.5,60.8 822.9,60.4 823.3,60.0 823.8,59.6 824.2,59.2 824.6,58.8 825.0,58.4 825.5,58.0 825.9,57.6 826.3,57.2 826.7,56.8 827.2,56.4 827.6,56.0 828.0,55.6 828.4,55.3 828.8,54.9 829.2,54.5 829.6,54.1 830.0,53.7 830.5,53.3 830.9,53.0 831.3,52.6 831.7,52.2 832.1,51.8 832.5,51.5 832.9,51.1 833.3,50.7 833.7,50.3 834.1,50.0 834.5,49.6" fill="none" stroke="#97b0e6" stroke-width="4.2" stroke-linejoin="round" clip-path="url(#ca)"/>
<polyline points="137.6,643.6 201.1,600.6 243.6,569.0 275.6,544.2 301.4,524.0 322.8,506.7 341.3,491.6 357.4,478.1 371.8,466.0 384.8,455.1 396.6,445.1 407.4,435.8 417.4,427.2 426.6,419.2 435.3,411.7 443.4,404.6 451.1,398.0 458.3,391.6 465.1,385.6 471.6,379.9 477.8,374.5 483.7,369.2 489.4,364.2 494.8,359.4 500.0,354.8 505.0,350.4 509.9,346.1 514.5,341.9 519.0,337.9 523.4,334.1 527.6,330.3 531.6,326.7 535.6,323.1 539.4,319.7 543.1,316.4 546.8,313.1 550.3,309.9 553.7,306.9 557.1,303.9 560.3,300.9 563.5,298.1 566.6,295.3 569.6,292.5 572.6,289.9 575.5,287.3 578.3,284.7 581.1,282.2 583.8,279.7 586.5,277.3 589.1,275.0 591.7,272.7 594.2,270.4 596.6,268.2 599.1,266.0 601.4,263.8 603.8,261.7 606.0,259.6 608.3,257.6 610.5,255.6 612.7,253.6 614.8,251.7 616.9,249.8 619.0,247.9 621.0,246.0 623.0,244.2 625.0,242.4 627.0,240.6 628.9,238.9 630.8,237.2 632.7,235.5 634.5,233.8 636.3,232.1 638.1,230.5 639.9,228.9 641.6,227.3 643.3,225.8 645.0,224.2 646.7,222.7 648.3,221.2 650.0,219.7 651.6,218.2 653.2,216.8 654.7,215.3 656.3,213.9 657.8,212.5 659.4,211.1 660.9,209.7 662.3,208.4 663.8,207.0 665.3,205.7 666.7,204.4 668.1,203.1 669.5,201.8 670.9,200.6 672.3,199.3 673.6,198.1 675.0,196.8 676.3,195.6 677.6,194.4 678.9,193.2 680.2,192.0 681.5,190.8 682.8,189.7 684.0,188.5 685.3,187.4 686.5,186.3 687.7,185.1 688.9,184.0 690.1,182.9 691.3,181.8 692.5,180.8 693.7,179.7 694.8,178.6 696.0,177.6 697.1,176.5 698.2,175.5 699.4,174.5 700.5,173.5 701.6,172.5 702.6,171.5 703.7,170.5 704.8,169.5 705.9,168.5 706.9,167.5 708.0,166.6 709.0,165.6 710.0,164.7 711.0,163.8 712.1,162.8 713.1,161.9 714.1,161.0 715.0,160.1 716.0,159.2 717.0,158.3 718.0,157.4 718.9,156.5 719.9,155.6 720.8,154.7 721.8,153.9 722.7,153.0 723.6,152.2 724.5,151.3 725.5,150.5 726.4,149.7 727.3,148.8 728.2,148.0 729.1,147.2 729.9,146.4 730.8,145.6 731.7,144.8 732.6,144.0 733.4,143.2 734.3,142.4 735.1,141.6 736.0,140.8 736.8,140.1 737.6,139.3 738.5,138.5 739.3,137.8 740.1,137.0 740.9,136.3 741.7,135.5 742.5,134.8 743.3,134.0 744.1,133.3 744.9,132.6 745.7,131.9 746.4,131.2 747.2,130.4 748.0,129.7 748.7,129.0 749.5,128.3 750.3,127.6 751.0,126.9 751.8,126.2 752.5,125.6 753.2,124.9 754.0,124.2 754.7,123.5 755.4,122.9 756.2,122.2 756.9,121.5 757.6,120.9 758.3,120.2 759.0,119.6 759.7,118.9 761.1,117.6 762.5,116.4 763.8,115.1 765.2,113.8 766.5,112.6 767.9,111.4 769.2,110.2 770.5,109.0 771.7,107.8 773.0,106.6 774.3,105.4 775.5,104.3 776.8,103.1 778.0,102.0 779.2,100.9 780.4,99.8 781.6,98.7 782.8,97.6 783.9,96.5 785.1,95.4 786.2,94.4 787.4,93.3 788.5,92.3 789.6,91.2 790.7,90.2 791.8,89.2 792.9,88.2 794.0,87.2 795.1,86.2 796.1,85.2 797.2,84.2 798.3,83.2 799.3,82.3 800.3,81.3 801.3,80.4 802.4,79.4 803.4,78.5 804.4,77.6 805.4,76.6 806.3,75.7 807.3,74.8 808.3,73.9 809.3,73.0 810.2,72.2 811.2,71.3 812.1,70.4 813.0,69.5 814.0,68.7 814.9,67.8 815.8,67.0 816.7,66.1 817.6,65.3 818.5,64.4 819.4,63.6 820.3,62.8 821.2,62.0 822.0,61.2 822.9,60.4 823.8,59.6 824.6,58.8 825.5,58.0 826.3,57.2 827.2,56.4 828.0,55.6 828.8,54.9 829.6,54.1 830.5,53.3 831.3,52.6 832.1,51.8 832.9,51.1 833.7,50.3" fill="none" stroke="none" marker-start="url(#ma8)" marker-mid="url(#ma8)" marker-end="url(#ma8)"/>
<polyline points="137.6,650.6 201.1,605.4 243.6,572.6 275.6,547.0 301.4,526.2 322.8,508.6 341.3,493.2 357.4,479.4 371.8,467.2 384.8,456.2 396.6,446.0 407.4,436.7 417.4,428.1 426.6,420.0 435.3,412.4 443.4,405.3 451.1,398.6 458.3,392.2 465.1,386.2 471.6,380.5 477.8,375.0 483.7,369.7 489.4,364.7 494.8,359.9 500.0,355.2 505.0,350.8 509.9,346.5 514.5,342.3 519.0,338.3 523.4,334.4 527.6,330.6 531.6,327.0 535.6,323.5 539.4,320.0 543.1,316.7 546.8,313.4 550.3,310.2 553.7,307.1 557.1,304.1 560.3,301.2 563.5,298.3 566.6,295.5 569.6,292.8 572.6,290.1 575.5,287.5 578.3,284.9 581.1,282.4 583.8,280.0 586.5,277.5 589.1,275.2 591.7,272.9 594.2,270.6 596.6,268.4 599.1,266.2 601.4,264.0 603.8,261.9 606.0,259.8 608.3,257.8 610.5,255.8 612.7,253.8 614.8,251.8 616.9,249.9 619.0,248.0 621.0,246.2 623.0,244.4 625.0,242.6 627.0,240.8 628.9,239.0 630.8,237.3 632.7,235.6 634.5,233.9 636.3,232.3 638.1,230.7 639.9,229.1 641.6,227.5 643.3,225.9 645.0,224.3 646.7,222.8 648.3,221.3 650.0,219.8 651.6,218.3 653.2,216.9 654.7,215.5 656.3,214.0 657.8,212.6 659.4,211.2 660.9,209.9 662.3,208.5 663.8,207.2 665.3,205.8 666.7,204.5 668.1,203.2 669.5,201.9 670.9,200.7 672.3,199.4 673.6,198.2 675.0,196.9 676.3,195.7 677.6,194.5 678.9,193.3 680.2,192.1 681.5,190.9 682.8,189.8 684.0,188.6 685.3,187.5 686.5,186.4 687.7,185.2 688.9,184.1 690.1,183.0 691.3,181.9 692.5,180.9 693.7,179.8 694.8,178.7 696.0,177.7 697.1,176.6 698.2,175.6 699.4,174.6 700.5,173.6 701.6,172.6 702.6,171.6 703.7,170.6 704.8,169.6 705.9,168.6 706.9,167.6 708.0,166.7 709.0,165.7 710.0,164.8 711.0,163.8 712.1,162.9 713.1,162.0 714.1,161.1 715.0,160.2 716.0,159.2 717.0,158.3 718.0,157.5 718.9,156.6 719.9,155.7 720.8,154.8 721.8,154.0 722.7,153.1 723.6,152.2 724.5,151.4 725.5,150.6 726.4,149.7 727.3,148.9 728.2,148.1 729.1,147.3 729.9,146.4 730.8,145.6 731.7,144.8 732.6,144.0 733.4,143.2 734.3,142.5 735.1,141.7 736.0,140.9 736.8,140.1 737.6,139.4 738.5,138.6 739.3,137.8 740.1,137.1 740.9,136.3 741.7,135.6 742.5,134.8 743.3,134.1 744.1,133.4 744.9,132.7 745.7,131.9 746.4,131.2 747.2,130.5 748.0,129.8 748.7,129.1 749.5,128.4 750.3,127.7 751.0,127.0 751.8,126.3 752.5,125.6 753.2,124.9 754.0,124.3 754.7,123.6 755.4,122.9 756.2,122.2 756.9,121.6 757.6,120.9 758.3,120.3 759.0,119.6 759.7,119.0 760.4,118.3 761.1,117.7 761.8,117.0 762.5,116.4 763.2,115.8 763.8,115.1 764.5,114.5 765.2,113.9 765.9,113.3 766.5,112.7 767.2,112.0 767.9,111.4 768.5,110.8 769.2,110.2 769.8,109.6 770.5,109.0 771.1,108.4 771.7,107.8 772.4,107.2 773.0,106.7 773.6,106.1 774.3,105.5 774.9,104.9 775.5,104.3 776.1,103.8 776.8,103.2 777.4,102.6 778.0,102.1 778.6,101.5 779.2,100.9 779.8,100.4 780.4,99.8 781.0,99.3 781.6,98.7 782.2,98.2 782.8,97.6 783.4,97.1 783.9,96.6 784.5,96.0 785.1,95.5 785.7,94.9 786.2,94.4 786.8,93.9 787.4,93.4 787.9,92.8 788.5,92.3 789.1,91.8 789.6,91.3 790.2,90.8 790.7,90.2 791.3,89.7 791.8,89.2 792.4,88.7 792.9,88.2 793.5,87.7 794.0,87.2 794.5,86.7 795.1,86.2 795.6,85.7 796.1,85.2 796.7,84.7 797.2,84.3 797.7,83.8 798.3,83.3 798.8,82.8 799.3,82.3 799.8,81.8 800.3,81.4 800.8,80.9 801.3,80.4 801.9,79.9 802.4,79.5 802.9,79.0 803.4,78.5 803.9,78.1 804.4,77.6 804.9,77.1 805.4,76.7 805.9,76.2 806.3,75.8 806.8,75.3 807.3,74.9 807.8,74.4 808.3,74.0 808.8,73.5 809.3,73.1 809.7,72.6 810.2,72.2 810.7,71.7 811.2,71.3 811.6,70.9 812.1,70.4 812.6,70.0 813.0,69.6 813.5,69.1 814.0,68.7 814.4,68.3 814.9,67.8 815.3,67.4 815.8,67.0 816.3,66.6 816.7,66.2 817.2,65.7 817.6,65.3 818.1,64.9 818.5,64.5 819.0,64.1 819.4,63.7 819.8,63.2 820.3,62.8 820.7,62.4 821.2,62.0 821.6,61.6 822.0,61.2 822.5,60.8 822.9,60.4 823.3,60.0 823.8,59.6 824.2,59.2 824.6,58.8 825.0,58.4 825.5,58.0 825.9,57.6 826.3,57.2 826.7,56.8 827.2,56.4 827.6,56.1 828.0,55.7 828.4,55.3 828.8,54.9 829.2,54.5 829.6,54.1 830.0,53.8 830.5,53.4 830.9,53.0 831.3,52.6 831.7,52.2 832.1,51.9 832.5,51.5 832.9,51.1 833.3,50.8 833.7,50.4 834.1,50.0 834.5,49.6" fill="none" stroke="#0000ff" stroke-width="4.2" stroke-linejoin="round" clip-path="url(#ca)"/>
<polyline points="137.6,650.6 201.1,605.4 243.6,572.6 275.6,547.0 301.4,526.2 322.8,508.6 341.3,493.2 357.4,479.4 371.8,467.2 384.8,456.2 396.6,446.0 407.4,436.7 417.4,428.1 426.6,420.0 435.3,412.4 443.4,405.3 451.1,398.6 458.3,392.2 465.1,386.2 471.6,380.5 477.8,375.0 483.7,369.7 489.4,364.7 494.8,359.9 500.0,355.2 505.0,350.8 509.9,346.5 514.5,342.3 519.0,338.3 523.4,334.4 527.6,330.6 531.6,327.0 535.6,323.5 539.4,320.0 543.1,316.7 546.8,313.4 550.3,310.2 553.7,307.1 557.1,304.1 560.3,301.2 563.5,298.3 566.6,295.5 569.6,292.8 572.6,290.1 575.5,287.5 578.3,284.9 581.1,282.4 583.8,280.0 586.5,277.5 589.1,275.2 591.7,272.9 594.2,270.6 596.6,268.4 599.1,266.2 601.4,264.0 603.8,261.9 606.0,259.8 608.3,257.8 610.5,255.8 612.7,253.8 614.8,251.8 616.9,249.9 619.0,248.0 621.0,246.2 623.0,244.4 625.0,242.6 627.0,240.8 628.9,239.0 630.8,237.3 632.7,235.6 634.5,233.9 636.3,232.3 638.1,230.7 639.9,229.1 641.6,227.5 643.3,225.9 645.0,224.3 646.7,222.8 648.3,221.3 650.0,219.8 651.6,218.3 653.2,216.9 654.7,215.5 656.3,214.0 657.8,212.6 659.4,211.2 660.9,209.9 662.3,208.5 663.8,207.2 665.3,205.8 666.7,204.5 668.1,203.2 669.5,201.9 670.9,200.7 672.3,199.4 673.6,198.2 675.0,196.9 676.3,195.7 677.6,194.5 678.9,193.3 680.2,192.1 681.5,190.9 682.8,189.8 684.0,188.6 685.3,187.5 686.5,186.4 687.7,185.2 688.9,184.1 690.1,183.0 691.3,181.9 692.5,180.9 693.7,179.8 694.8,178.7 696.0,177.7 697.1,176.6 698.2,175.6 699.4,174.6 700.5,173.6 701.6,172.6 702.6,171.6 703.7,170.6 704.8,169.6 705.9,168.6 706.9,167.6 708.0,166.7 709.0,165.7 710.0,164.8 711.0,163.8 712.1,162.9 713.1,162.0 714.1,161.1 715.0,160.2 716.0,159.2 717.0,158.3 718.0,157.5 718.9,156.6 719.9,155.7 720.8,154.8 721.8,154.0 722.7,153.1 723.6,152.2 724.5,151.4 725.5,150.6 726.4,149.7 727.3,148.9 728.2,148.1 729.1,147.3 729.9,146.4 730.8,145.6 731.7,144.8 732.6,144.0 733.4,143.2 734.3,142.5 735.1,141.7 736.0,140.9 736.8,140.1 737.6,139.4 738.5,138.6 739.3,137.8 740.1,137.1 740.9,136.3 741.7,135.6 742.5,134.8 743.3,134.1 744.1,133.4 744.9,132.7 745.7,131.9 746.4,131.2 747.2,130.5 748.0,129.8 748.7,129.1 749.5,128.4 750.3,127.7 751.0,127.0 751.8,126.3 752.5,125.6 753.2,124.9 754.0,124.3 754.7,123.6 755.4,122.9 756.2,122.2 756.9,121.6 757.6,120.9 758.3,120.3 759.0,119.6 759.7,119.0 761.1,117.7 762.5,116.4 763.8,115.1 765.2,113.9 766.5,112.7 767.9,111.4 769.2,110.2 770.5,109.0 771.7,107.8 773.0,106.7 774.3,105.5 775.5,104.3 776.8,103.2 778.0,102.1 779.2,100.9 780.4,99.8 781.6,98.7 782.8,97.6 783.9,96.6 785.1,95.5 786.2,94.4 787.4,93.4 788.5,92.3 789.6,91.3 790.7,90.2 791.8,89.2 792.9,88.2 794.0,87.2 795.1,86.2 796.1,85.2 797.2,84.3 798.3,83.3 799.3,82.3 800.3,81.4 801.3,80.4 802.4,79.5 803.4,78.5 804.4,77.6 805.4,76.7 806.3,75.8 807.3,74.9 808.3,74.0 809.3,73.1 810.2,72.2 811.2,71.3 812.1,70.4 813.0,69.6 814.0,68.7 814.9,67.8 815.8,67.0 816.7,66.2 817.6,65.3 818.5,64.5 819.4,63.7 820.3,62.8 821.2,62.0 822.0,61.2 822.9,60.4 823.8,59.6 824.6,58.8 825.5,58.0 826.3,57.2 827.2,56.4 828.0,55.7 828.8,54.9 829.6,54.1 830.5,53.4 831.3,52.6 832.1,51.9 832.9,51.1 833.7,50.4" fill="none" stroke="none" marker-start="url(#ma9)" marker-mid="url(#ma9)" marker-end="url(#ma9)"/>
<polyline points="137.6,656.3 201.1,609.1 243.6,575.4 275.6,549.3 301.4,528.2 322.8,510.3 341.3,494.7 357.4,480.9 371.8,468.6 384.8,457.4 396.6,447.2 407.4,437.7 417.4,429.0 426.6,420.9 435.3,413.3 443.4,406.1 451.1,399.3 458.3,392.9 465.1,386.9 471.6,381.1 477.8,375.6 483.7,370.3 489.4,365.3 494.8,360.4 500.0,355.8 505.0,351.3 509.9,347.0 514.5,342.8 519.0,338.8 523.4,334.9 527.6,331.1 531.6,327.4 535.6,323.9 539.4,320.4 543.1,317.0 546.8,313.8 550.3,310.6 553.7,307.5 557.1,304.5 560.3,301.5 563.5,298.7 566.6,295.8 569.6,293.1 572.6,290.4 575.5,287.8 578.3,285.2 581.1,282.7 583.8,280.2 586.5,277.8 589.1,275.5 591.7,273.1 594.2,270.9 596.6,268.6 599.1,266.4 601.4,264.3 603.8,262.1 606.0,260.1 608.3,258.0 610.5,256.0 612.7,254.0 614.8,252.1 616.9,250.2 619.0,248.3 621.0,246.4 623.0,244.6 625.0,242.8 627.0,241.0 628.9,239.2 630.8,237.5 632.7,235.8 634.5,234.1 636.3,232.5 638.1,230.8 639.9,229.2 641.6,227.6 643.3,226.1 645.0,224.5 646.7,223.0 648.3,221.5 650.0,220.0 651.6,218.5 653.2,217.1 654.7,215.6 656.3,214.2 657.8,212.8 659.4,211.4 660.9,210.0 662.3,208.7 663.8,207.3 665.3,206.0 666.7,204.7 668.1,203.4 669.5,202.1 670.9,200.8 672.3,199.6 673.6,198.3 675.0,197.1 676.3,195.9 677.6,194.6 678.9,193.4 680.2,192.3 681.5,191.1 682.8,189.9 684.0,188.8 685.3,187.6 686.5,186.5 687.7,185.4 688.9,184.3 690.1,183.2 691.3,182.1 692.5,181.0 693.7,179.9 694.8,178.9 696.0,177.8 697.1,176.8 698.2,175.7 699.4,174.7 700.5,173.7 701.6,172.7 702.6,171.7 703.7,170.7 704.8,169.7 705.9,168.7 706.9,167.7 708.0,166.8 709.0,165.8 710.0,164.9 711.0,163.9 712.1,163.0 713.1,162.1 714.1,161.2 715.0,160.3 716.0,159.4 717.0,158.5 718.0,157.6 718.9,156.7 719.9,155.8 720.8,154.9 721.8,154.1 722.7,153.2 723.6,152.3 724.5,151.5 725.5,150.7 726.4,149.8 727.3,149.0 728.2,148.2 729.1,147.3 729.9,146.5 730.8,145.7 731.7,144.9 732.6,144.1 733.4,143.3 734.3,142.5 735.1,141.8 736.0,141.0 736.8,140.2 737.6,139.4 738.5,138.7 739.3,137.9 740.1,137.2 740.9,136.4 741.7,135.7 742.5,134.9 743.3,134.2 744.1,133.5 744.9,132.7 745.7,132.0 746.4,131.3 747.2,130.6 748.0,129.9 748.7,129.2 749.5,128.5 750.3,127.8 751.0,127.1 751.8,126.4 752.5,125.7 753.2,125.0 754.0,124.3 754.7,123.7 755.4,123.0 756.2,122.3 756.9,121.7 757.6,121.0 758.3,120.3 759.0,119.7 759.7,119.0 760.4,118.4 761.1,117.8 761.8,117.1 762.5,116.5 763.2,115.8 763.8,115.2 764.5,114.6 765.2,114.0 765.9,113.3 766.5,112.7 767.2,112.1 767.9,111.5 768.5,110.9 769.2,110.3 769.8,109.7 770.5,109.1 771.1,108.5 771.7,107.9 772.4,107.3 773.0,106.7 773.6,106.1 774.3,105.6 774.9,105.0 775.5,104.4 776.1,103.8 776.8,103.3 777.4,102.7 778.0,102.1 778.6,101.6 779.2,101.0 779.8,100.4 780.4,99.9 781.0,99.3 781.6,98.8 782.2,98.2 782.8,97.7 783.4,97.2 783.9,96.6 784.5,96.1 785.1,95.5 785.7,95.0 786.2,94.5 786.8,93.9 787.4,93.4 787.9,92.9 788.5,92.4 789.1,91.9 789.6,91.3 790.2,90.8 790.7,90.3 791.3,89.8 791.8,89.3 792.4,88.8 792.9,88.3 793.5,87.8 794.0,87.3 794.5,86.8 795.1,86.3 795.6,85.8 796.1,85.3 796.7,84.8 797.2,84.3 797.7,83.8 798.3,83.3 798.8,82.9 799.3,82.4 799.8,81.9 800.3,81.4 800.8,80.9 801.3,80.5 801.9,80.0 802.4,79.5 802.9,79.1 803.4,78.6 803.9,78.1 804.4,77.7 804.9,77.2 805.4,76.7 805.9,76.3 806.3,75.8 806.8,75.4 807.3,74.9 807.8,74.5 808.3,74.0 808.8,73.6 809.3,73.1 809.7,72.7 810.2,72.2 810.7,71.8 811.2,71.4 811.6,70.9 812.1,70.5 812.6,70.0 813.0,69.6 813.5,69.2 814.0,68.8 814.4,68.3 814.9,67.9 815.3,67.5 815.8,67.0 816.3,66.6 816.7,66.2 817.2,65.8 817.6,65.4 818.1,64.9 818.5,64.5 819.0,64.1 819.4,63.7 819.8,63.3 820.3,62.9 820.7,62.5 821.2,62.1 821.6,61.7 822.0,61.3 822.5,60.8 822.9,60.4 823.3,60.0 823.8,59.6 824.2,59.2 824.6,58.8 825.0,58.5 825.5,58.1 825.9,57.7 826.3,57.3 826.7,56.9 827.2,56.5 827.6,56.1 828.0,55.7 828.4,55.3 828.8,54.9 829.2,54.6 829.6,54.2 830.0,53.8 830.5,53.4 830.9,53.0 831.3,52.7 831.7,52.3 832.1,51.9 832.5,51.5 832.9,51.2 833.3,50.8 833.7,50.4 834.1,50.1 834.5,49.7" fill="none" stroke="#ff0000" stroke-width="4.2" stroke-linejoin="round" clip-path="url(#ca)"/>
<polyline points="137.6,656.3 201.1,609.1 243.6,575.4 275.6,549.3 301.4,528.2 322.8,510.3 341.3,494.7 357.4,480.9 371.8,468.6 384.8,457.4 396.6,447.2 407.4,437.7 417.4,429.0 426.6,420.9 435.3,413.3 443.4,406.1 451.1,399.3 458.3,392.9 465.1,386.9 471.6,381.1 477.8,375.6 483.7,370.3 489.4,365.3 494.8,360.4 500.0,355.8 505.0,351.3 509.9,347.0 514.5,342.8 519.0,338.8 523.4,334.9 527.6,331.1 531.6,327.4 535.6,323.9 539.4,320.4 543.1,317.0 546.8,313.8 550.3,310.6 553.7,307.5 557.1,304.5 560.3,301.5 563.5,298.7 566.6,295.8 569.6,293.1 572.6,290.4 575.5,287.8 578.3,285.2 581.1,282.7 583.8,280.2 586.5,277.8 589.1,275.5 591.7,273.1 594.2,270.9 596.6,268.6 599.1,266.4 601.4,264.3 603.8,262.1 606.0,260.1 608.3,258.0 610.5,256.0 612.7,254.0 614.8,252.1 616.9,250.2 619.0,248.3 621.0,246.4 623.0,244.6 625.0,242.8 627.0,241.0 628.9,239.2 630.8,237.5 632.7,235.8 634.5,234.1 636.3,232.5 638.1,230.8 639.9,229.2 641.6,227.6 643.3,226.1 645.0,224.5 646.7,223.0 648.3,221.5 650.0,220.0 651.6,218.5 653.2,217.1 654.7,215.6 656.3,214.2 657.8,212.8 659.4,211.4 660.9,210.0 662.3,208.7 663.8,207.3 665.3,206.0 666.7,204.7 668.1,203.4 669.5,202.1 670.9,200.8 672.3,199.6 673.6,198.3 675.0,197.1 676.3,195.9 677.6,194.6 678.9,193.4 680.2,192.3 681.5,191.1 682.8,189.9 684.0,188.8 685.3,187.6 686.5,186.5 687.7,185.4 688.9,184.3 690.1,183.2 691.3,182.1 692.5,181.0 693.7,179.9 694.8,178.9 696.0,177.8 697.1,176.8 698.2,175.7 699.4,174.7 700.5,173.7 701.6,172.7 702.6,171.7 703.7,170.7 704.8,169.7 705.9,168.7 706.9,167.7 708.0,166.8 709.0,165.8 710.0,164.9 711.0,163.9 712.1,163.0 713.1,162.1 714.1,161.2 715.0,160.3 716.0,159.4 717.0,158.5 718.0,157.6 718.9,156.7 719.9,155.8 720.8,154.9 721.8,154.1 722.7,153.2 723.6,152.3 724.5,151.5 725.5,150.7 726.4,149.8 727.3,149.0 728.2,148.2 729.1,147.3 729.9,146.5 730.8,145.7 731.7,144.9 732.6,144.1 733.4,143.3 734.3,142.5 735.1,141.8 736.0,141.0 736.8,140.2 737.6,139.4 738.5,138.7 739.3,137.9 740.1,137.2 740.9,136.4 741.7,135.7 742.5,134.9 743.3,134.2 744.1,133.5 744.9,132.7 745.7,132.0 746.4,131.3 747.2,130.6 748.0,129.9 748.7,129.2 749.5,128.5 750.3,127.8 751.0,127.1 751.8,126.4 752.5,125.7 753.2,125.0 754.0,124.3 754.7,123.7 755.4,123.0 756.2,122.3 756.9,121.7 757.6,121.0 758.3,120.3 759.0,119.7 759.7,119.0 761.1,117.8 762.5,116.5 763.8,115.2 765.2,114.0 766.5,112.7 767.9,111.5 769.2,110.3 770.5,109.1 771.7,107.9 773.0,106.7 774.3,105.6 775.5,104.4 776.8,103.3 778.0,102.1 779.2,101.0 780.4,99.9 781.6,98.8 782.8,97.7 783.9,96.6 785.1,95.5 786.2,94.5 787.4,93.4 788.5,92.4 789.6,91.3 790.7,90.3 791.8,89.3 792.9,88.3 794.0,87.3 795.1,86.3 796.1,85.3 797.2,84.3 798.3,83.3 799.3,82.4 800.3,81.4 801.3,80.5 802.4,79.5 803.4,78.6 804.4,77.7 805.4,76.7 806.3,75.8 807.3,74.9 808.3,74.0 809.3,73.1 810.2,72.2 811.2,71.4 812.1,70.5 813.0,69.6 814.0,68.8 814.9,67.9 815.8,67.0 816.7,66.2 817.6,65.4 818.5,64.5 819.4,63.7 820.3,62.9 821.2,62.1 822.0,61.3 822.9,60.4 823.8,59.6 824.6,58.8 825.5,58.1 826.3,57.3 827.2,56.5 828.0,55.7 828.8,54.9 829.6,54.2 830.5,53.4 831.3,52.7 832.1,51.9 832.9,51.2 833.7,50.4" fill="none" stroke="none" marker-start="url(#ma10)" marker-mid="url(#ma10)" marker-end="url(#ma10)"/>
<polyline points="137.6,660.9 201.1,612.2 243.6,577.7 275.6,551.0 301.4,529.5 322.8,511.3 341.3,495.7 357.4,481.9 371.8,469.5 384.8,458.2 396.6,447.9 407.4,438.4 417.4,429.6 426.6,421.5 435.3,413.8 443.4,406.6 451.1,399.8 458.3,393.4 465.1,387.3 471.6,381.5 477.8,376.0 483.7,370.7 489.4,365.6 494.8,360.7 500.0,356.1 505.0,351.6 509.9,347.3 514.5,343.1 519.0,339.0 523.4,335.1 527.6,331.3 531.6,327.7 535.6,324.1 539.4,320.6 543.1,317.3 546.8,314.0 550.3,310.8 553.7,307.7 557.1,304.7 560.3,301.7 563.5,298.8 566.6,296.0 569.6,293.3 572.6,290.6 575.5,288.0 578.3,285.4 581.1,282.9 583.8,280.4 586.5,278.0 589.1,275.6 591.7,273.3 594.2,271.0 596.6,268.8 599.1,266.6 601.4,264.4 603.8,262.3 606.0,260.2 608.3,258.2 610.5,256.1 612.7,254.2 614.8,252.2 616.9,250.3 619.0,248.4 621.0,246.5 623.0,244.7 625.0,242.9 627.0,241.1 628.9,239.4 630.8,237.6 632.7,235.9 634.5,234.2 636.3,232.6 638.1,231.0 639.9,229.3 641.6,227.8 643.3,226.2 645.0,224.6 646.7,223.1 648.3,221.6 650.0,220.1 651.6,218.6 653.2,217.2 654.7,215.7 656.3,214.3 657.8,212.9 659.4,211.5 660.9,210.1 662.3,208.8 663.8,207.4 665.3,206.1 666.7,204.8 668.1,203.5 669.5,202.2 670.9,200.9 672.3,199.6 673.6,198.4 675.0,197.2 676.3,195.9 677.6,194.7 678.9,193.5 680.2,192.3 681.5,191.2 682.8,190.0 684.0,188.8 685.3,187.7 686.5,186.6 687.7,185.4 688.9,184.3 690.1,183.2 691.3,182.1 692.5,181.1 693.7,180.0 694.8,178.9 696.0,177.9 697.1,176.8 698.2,175.8 699.4,174.8 700.5,173.7 701.6,172.7 702.6,171.7 703.7,170.7 704.8,169.8 705.9,168.8 706.9,167.8 708.0,166.8 709.0,165.9 710.0,164.9 711.0,164.0 712.1,163.1 713.1,162.1 714.1,161.2 715.0,160.3 716.0,159.4 717.0,158.5 718.0,157.6 718.9,156.7 719.9,155.9 720.8,155.0 721.8,154.1 722.7,153.3 723.6,152.4 724.5,151.6 725.5,150.7 726.4,149.9 727.3,149.0 728.2,148.2 729.1,147.4 729.9,146.6 730.8,145.8 731.7,145.0 732.6,144.2 733.4,143.4 734.3,142.6 735.1,141.8 736.0,141.0 736.8,140.3 737.6,139.5 738.5,138.7 739.3,138.0 740.1,137.2 740.9,136.5 741.7,135.7 742.5,135.0 743.3,134.2 744.1,133.5 744.9,132.8 745.7,132.1 746.4,131.3 747.2,130.6 748.0,129.9 748.7,129.2 749.5,128.5 750.3,127.8 751.0,127.1 751.8,126.4 752.5,125.7 753.2,125.1 754.0,124.4 754.7,123.7 755.4,123.0 756.2,122.4 756.9,121.7 757.6,121.0 758.3,120.4 759.0,119.7 759.7,119.1 760.4,118.4 761.1,117.8 761.8,117.2 762.5,116.5 763.2,115.9 763.8,115.3 764.5,114.6 765.2,114.0 765.9,113.4 766.5,112.8 767.2,112.2 767.9,111.5 768.5,110.9 769.2,110.3 769.8,109.7 770.5,109.1 771.1,108.5 771.7,107.9 772.4,107.4 773.0,106.8 773.6,106.2 774.3,105.6 774.9,105.0 775.5,104.4 776.1,103.9 776.8,103.3 777.4,102.7 778.0,102.2 778.6,101.6 779.2,101.0 779.8,100.5 780.4,99.9 781.0,99.4 781.6,98.8 782.2,98.3 782.8,97.7 783.4,97.2 783.9,96.7 784.5,96.1 785.1,95.6 785.7,95.0 786.2,94.5 786.8,94.0 787.4,93.5 787.9,92.9 788.5,92.4 789.1,91.9 789.6,91.4 790.2,90.9 790.7,90.3 791.3,89.8 791.8,89.3 792.4,88.8 792.9,88.3 793.5,87.8 794.0,87.3 794.5,86.8 795.1,86.3 795.6,85.8 796.1,85.3 796.7,84.8 797.2,84.3 797.7,83.9 798.3,83.4 798.8,82.9 799.3,82.4 799.8,81.9 800.3,81.4 800.8,81.0 801.3,80.5 801.9,80.0 802.4,79.6 802.9,79.1 803.4,78.6 803.9,78.2 804.4,77.7 804.9,77.2 805.4,76.8 805.9,76.3 806.3,75.9 806.8,75.4 807.3,75.0 807.8,74.5 808.3,74.1 808.8,73.6 809.3,73.2 809.7,72.7 810.2,72.3 810.7,71.8 811.2,71.4 811.6,70.9 812.1,70.5 812.6,70.1 813.0,69.6 813.5,69.2 814.0,68.8 814.4,68.4 814.9,67.9 815.3,67.5 815.8,67.1 816.3,66.7 816.7,66.2 817.2,65.8 817.6,65.4 818.1,65.0 818.5,64.6 819.0,64.1 819.4,63.7 819.8,63.3 820.3,62.9 820.7,62.5 821.2,62.1 821.6,61.7 822.0,61.3 822.5,60.9 822.9,60.5 823.3,60.1 823.8,59.7 824.2,59.3 824.6,58.9 825.0,58.5 825.5,58.1 825.9,57.7 826.3,57.3 826.7,56.9 827.2,56.5 827.6,56.1 828.0,55.7 828.4,55.4 828.8,55.0 829.2,54.6 829.6,54.2 830.0,53.8 830.5,53.4 830.9,53.1 831.3,52.7 831.7,52.3 832.1,51.9 832.5,51.6 832.9,51.2 833.3,50.8 833.7,50.4 834.1,50.1 834.5,49.7" fill="none" stroke="#00ff00" stroke-width="4.2" stroke-linejoin="round" clip-path="url(#ca)"/>
<polyline points="137.6,660.9 201.1,612.2 243.6,577.7 275.6,551.0 301.4,529.5 322.8,511.3 341.3,495.7 357.4,481.9 371.8,469.5 384.8,458.2 396.6,447.9 407.4,438.4 417.4,429.6 426.6,421.5 435.3,413.8 443.4,406.6 451.1,399.8 458.3,393.4 465.1,387.3 471.6,381.5 477.8,376.0 483.7,370.7 489.4,365.6 494.8,360.7 500.0,356.1 505.0,351.6 509.9,347.3 514.5,343.1 519.0,339.0 523.4,335.1 527.6,331.3 531.6,327.7 535.6,324.1 539.4,320.6 543.1,317.3 546.8,314.0 550.3,310.8 553.7,307.7 557.1,304.7 560.3,301.7 563.5,298.8 566.6,296.0 569.6,293.3 572.6,290.6 575.5,288.0 578.3,285.4 581.1,282.9 583.8,280.4 586.5,278.0 589.1,275.6 591.7,273.3 594.2,271.0 596.6,268.8 599.1,266.6 601.4,264.4 603.8,262.3 606.0,260.2 608.3,258.2 610.5,256.1 612.7,254.2 614.8,252.2 616.9,250.3 619.0,248.4 621.0,246.5 623.0,244.7 625.0,242.9 627.0,241.1 628.9,239.4 630.8,237.6 632.7,235.9 634.5,234.2 636.3,232.6 638.1,231.0 639.9,229.3 641.6,227.8 643.3,226.2 645.0,224.6 646.7,223.1 648.3,221.6 650.0,220.1 651.6,218.6 653.2,217.2 654.7,215.7 656.3,214.3 657.8,212.9 659.4,211.5 660.9,210.1 662.3,208.8 663.8,207.4 665.3,206.1 666.7,204.8 668.1,203.5 669.5,202.2 670.9,200.9 672.3,199.6 673.6,198.4 675.0,197.2 676.3,195.9 677.6,194.7 678.9,193.5 680.2,192.3 681.5,191.2 682.8,190.0 684.0,188.8 685.3,187.7 686.5,186.6 687.7,185.4 688.9,184.3 690.1,183.2 691.3,182.1 692.5,181.1 693.7,180.0 694.8,178.9 696.0,177.9 697.1,176.8 698.2,175.8 699.4,174.8 700.5,173.7 701.6,172.7 702.6,171.7 703.7,170.7 704.8,169.8 705.9,168.8 706.9,167.8 708.0,166.8 709.0,165.9 710.0,164.9 711.0,164.0 712.1,163.1 713.1,162.1 714.1,161.2 715.0,160.3 716.0,159.4 717.0,158.5 718.0,157.6 718.9,156.7 719.9,155.9 720.8,155.0 721.8,154.1 722.7,153.3 723.6,152.4 724.5,151.6 725.5,150.7 726.4,149.9 727.3,149.0 728.2,148.2 729.1,147.4 729.9,146.6 730.8,145.8 731.7,145.0 732.6,144.2 733.4,143.4 734.3,142.6 735.1,141.8 736.0,141.0 736.8,140.3 737.6,139.5 738.5,138.7 739.3,138.0 740.1,137.2 740.9,136.5 741.7,135.7 742.5,135.0 743.3,134.2 744.1,133.5 744.9,132.8 745.7,132.1 746.4,131.3 747.2,130.6 748.0,129.9 748.7,129.2 749.5,128.5 750.3,127.8 751.0,127.1 751.8,126.4 752.5,125.7 753.2,125.1 754.0,124.4 754.7,123.7 755.4,123.0 756.2,122.4 756.9,121.7 757.6,121.0 758.3,120.4 759.0,119.7 759.7,119.1 761.1,117.8 762.5,116.5 763.8,115.3 765.2,114.0 766.5,112.8 767.9,111.5 769.2,110.3 770.5,109.1 771.7,107.9 773.0,106.8 774.3,105.6 775.5,104.4 776.8,103.3 778.0,102.2 779.2,101.0 780.4,99.9 781.6,98.8 782.8,97.7 783.9,96.7 785.1,95.6 786.2,94.5 787.4,93.5 788.5,92.4 789.6,91.4 790.7,90.3 791.8,89.3 792.9,88.3 794.0,87.3 795.1,86.3 796.1,85.3 797.2,84.3 798.3,83.4 799.3,82.4 800.3,81.4 801.3,80.5 802.4,79.6 803.4,78.6 804.4,77.7 805.4,76.8 806.3,75.9 807.3,75.0 808.3,74.1 809.3,73.2 810.2,72.3 811.2,71.4 812.1,70.5 813.0,69.6 814.0,68.8 814.9,67.9 815.8,67.1 816.7,66.2 817.6,65.4 818.5,64.6 819.4,63.7 820.3,62.9 821.2,62.1 822.0,61.3 822.9,60.5 823.8,59.7 824.6,58.9 825.5,58.1 826.3,57.3 827.2,56.5 828.0,55.7 828.8,55.0 829.6,54.2 830.5,53.4 831.3,52.7 832.1,51.9 832.9,51.2 833.7,50.4" fill="none" stroke="none" marker-start="url(#ma11)" marker-mid="url(#ma11)" marker-end="url(#ma11)"/>
<polyline points="137.6,664.6 201.1,614.6 243.6,579.5 275.6,552.5 301.4,530.8 322.8,512.5 341.3,496.8 357.4,482.9 371.8,470.4 384.8,459.0 396.6,448.6 407.4,439.1 417.4,430.3 426.6,422.1 435.3,414.4 443.4,407.1 451.1,400.3 458.3,393.9 465.1,387.8 471.6,381.9 477.8,376.4 483.7,371.1 489.4,366.0 494.8,361.1 500.0,356.4 505.0,351.9 509.9,347.6 514.5,343.4 519.0,339.4 523.4,335.4 527.6,331.6 531.6,328.0 535.6,324.4 539.4,320.9 543.1,317.5 546.8,314.3 550.3,311.1 553.7,308.0 557.1,304.9 560.3,302.0 563.5,299.1 566.6,296.3 569.6,293.5 572.6,290.8 575.5,288.2 578.3,285.6 581.1,283.1 583.8,280.6 586.5,278.2 589.1,275.8 591.7,273.5 594.2,271.2 596.6,269.0 599.1,266.7 601.4,264.6 603.8,262.5 606.0,260.4 608.3,258.3 610.5,256.3 612.7,254.3 614.8,252.4 616.9,250.4 619.0,248.5 621.0,246.7 623.0,244.8 625.0,243.0 627.0,241.3 628.9,239.5 630.8,237.8 632.7,236.1 634.5,234.4 636.3,232.7 638.1,231.1 639.9,229.5 641.6,227.9 643.3,226.3 645.0,224.8 646.7,223.2 648.3,221.7 650.0,220.2 651.6,218.7 653.2,217.3 654.7,215.8 656.3,214.4 657.8,213.0 659.4,211.6 660.9,210.2 662.3,208.9 663.8,207.5 665.3,206.2 666.7,204.9 668.1,203.6 669.5,202.3 670.9,201.0 672.3,199.7 673.6,198.5 675.0,197.3 676.3,196.0 677.6,194.8 678.9,193.6 680.2,192.4 681.5,191.3 682.8,190.1 684.0,188.9 685.3,187.8 686.5,186.7 687.7,185.5 688.9,184.4 690.1,183.3 691.3,182.2 692.5,181.2 693.7,180.1 694.8,179.0 696.0,178.0 697.1,176.9 698.2,175.9 699.4,174.9 700.5,173.8 701.6,172.8 702.6,171.8 703.7,170.8 704.8,169.8 705.9,168.9 706.9,167.9 708.0,166.9 709.0,166.0 710.0,165.0 711.0,164.1 712.1,163.1 713.1,162.2 714.1,161.3 715.0,160.4 716.0,159.5 717.0,158.6 718.0,157.7 718.9,156.8 719.9,155.9 720.8,155.1 721.8,154.2 722.7,153.3 723.6,152.5 724.5,151.6 725.5,150.8 726.4,149.9 727.3,149.1 728.2,148.3 729.1,147.5 729.9,146.7 730.8,145.8 731.7,145.0 732.6,144.2 733.4,143.4 734.3,142.7 735.1,141.9 736.0,141.1 736.8,140.3 737.6,139.6 738.5,138.8 739.3,138.0 740.1,137.3 740.9,136.5 741.7,135.8 742.5,135.0 743.3,134.3 744.1,133.6 744.9,132.8 745.7,132.1 746.4,131.4 747.2,130.7 748.0,130.0 748.7,129.3 749.5,128.6 750.3,127.9 751.0,127.2 751.8,126.5 752.5,125.8 753.2,125.1 754.0,124.4 754.7,123.8 755.4,123.1 756.2,122.4 756.9,121.8 757.6,121.1 758.3,120.4 759.0,119.8 759.7,119.1 760.4,118.5 761.1,117.9 761.8,117.2 762.5,116.6 763.2,115.9 763.8,115.3 764.5,114.7 765.2,114.1 765.9,113.4 766.5,112.8 767.2,112.2 767.9,111.6 768.5,111.0 769.2,110.4 769.8,109.8 770.5,109.2 771.1,108.6 771.7,108.0 772.4,107.4 773.0,106.8 773.6,106.2 774.3,105.6 774.9,105.1 775.5,104.5 776.1,103.9 776.8,103.3 777.4,102.8 778.0,102.2 778.6,101.7 779.2,101.1 779.8,100.5 780.4,100.0 781.0,99.4 781.6,98.9 782.2,98.3 782.8,97.8 783.4,97.2 783.9,96.7 784.5,96.2 785.1,95.6 785.7,95.1 786.2,94.6 786.8,94.0 787.4,93.5 787.9,93.0 788.5,92.5 789.1,91.9 789.6,91.4 790.2,90.9 790.7,90.4 791.3,89.9 791.8,89.4 792.4,88.9 792.9,88.4 793.5,87.8 794.0,87.3 794.5,86.8 795.1,86.4 795.6,85.9 796.1,85.4 796.7,84.9 797.2,84.4 797.7,83.9 798.3,83.4 798.8,82.9 799.3,82.4 799.8,82.0 800.3,81.5 800.8,81.0 801.3,80.5 801.9,80.1 802.4,79.6 802.9,79.1 803.4,78.7 803.9,78.2 804.4,77.7 804.9,77.3 805.4,76.8 805.9,76.4 806.3,75.9 806.8,75.4 807.3,75.0 807.8,74.5 808.3,74.1 808.8,73.6 809.3,73.2 809.7,72.7 810.2,72.3 810.7,71.9 811.2,71.4 811.6,71.0 812.1,70.5 812.6,70.1 813.0,69.7 813.5,69.2 814.0,68.8 814.4,68.4 814.9,68.0 815.3,67.5 815.8,67.1 816.3,66.7 816.7,66.3 817.2,65.8 817.6,65.4 818.1,65.0 818.5,64.6 819.0,64.2 819.4,63.8 819.8,63.4 820.3,62.9 820.7,62.5 821.2,62.1 821.6,61.7 822.0,61.3 822.5,60.9 822.9,60.5 823.3,60.1 823.8,59.7 824.2,59.3 824.6,58.9 825.0,58.5 825.5,58.1 825.9,57.7 826.3,57.3 826.7,56.9 827.2,56.6 827.6,56.2 828.0,55.8 828.4,55.4 828.8,55.0 829.2,54.6 829.6,54.2 830.0,53.9 830.5,53.5 830.9,53.1 831.3,52.7 831.7,52.3 832.1,52.0 832.5,51.6 832.9,51.2 833.3,50.9 833.7,50.5 834.1,50.1 834.5,49.7" fill="none" stroke="#ff00ff" stroke-width="4.2" stroke-linejoin="round" clip-path="url(#ca)"/>
<polyline points="137.6,664.6 201.1,614.6 243.6,579.5 275.6,552.5 301.4,530.8 322.8,512.5 341.3,496.8 357.4,482.9 371.8,470.4 384.8,459.0 396.6,448.6 407.4,439.1 417.4,430.3 426.6,422.1 435.3,414.4 443.4,407.1 451.1,400.3 458.3,393.9 465.1,387.8 471.6,381.9 477.8,376.4 483.7,371.1 489.4,366.0 494.8,361.1 500.0,356.4 505.0,351.9 509.9,347.6 514.5,343.4 519.0,339.4 523.4,335.4 527.6,331.6 531.6,328.0 535.6,324.4 539.4,320.9 543.1,317.5 546.8,314.3 550.3,311.1 553.7,308.0 557.1,304.9 560.3,302.0 563.5,299.1 566.6,296.3 569.6,293.5 572.6,290.8 575.5,288.2 578.3,285.6 581.1,283.1 583.8,280.6 586.5,278.2 589.1,275.8 591.7,273.5 594.2,271.2 596.6,269.0 599.1,266.7 601.4,264.6 603.8,262.5 606.0,260.4 608.3,258.3 610.5,256.3 612.7,254.3 614.8,252.4 616.9,250.4 619.0,248.5 621.0,246.7 623.0,244.8 625.0,243.0 627.0,241.3 628.9,239.5 630.8,237.8 632.7,236.1 634.5,234.4 636.3,232.7 638.1,231.1 639.9,229.5 641.6,227.9 643.3,226.3 645.0,224.8 646.7,223.2 648.3,221.7 650.0,220.2 651.6,218.7 653.2,217.3 654.7,215.8 656.3,214.4 657.8,213.0 659.4,211.6 660.9,210.2 662.3,208.9 663.8,207.5 665.3,206.2 666.7,204.9 668.1,203.6 669.5,202.3 670.9,201.0 672.3,199.7 673.6,198.5 675.0,197.3 676.3,196.0 677.6,194.8 678.9,193.6 680.2,192.4 681.5,191.3 682.8,190.1 684.0,188.9 685.3,187.8 686.5,186.7 687.7,185.5 688.9,184.4 690.1,183.3 691.3,182.2 692.5,181.2 693.7,180.1 694.8,179.0 696.0,178.0 697.1,176.9 698.2,175.9 699.4,174.9 700.5,173.8 701.6,172.8 702.6,171.8 703.7,170.8 704.8,169.8 705.9,168.9 706.9,167.9 708.0,166.9 709.0,166.0 710.0,165.0 711.0,164.1 712.1,163.1 713.1,162.2 714.1,161.3 715.0,160.4 716.0,159.5 717.0,158.6 718.0,157.7 718.9,156.8 719.9,155.9 720.8,155.1 721.8,154.2 722.7,153.3 723.6,152.5 724.5,151.6 725.5,150.8 726.4,149.9 727.3,149.1 728.2,148.3 729.1,147.5 729.9,146.7 730.8,145.8 731.7,145.0 732.6,144.2 733.4,143.4 734.3,142.7 735.1,141.9 736.0,141.1 736.8,140.3 737.6,139.6 738.5,138.8 739.3,138.0 740.1,137.3 740.9,136.5 741.7,135.8 742.5,135.0 743.3,134.3 744.1,133.6 744.9,132.8 745.7,132.1 746.4,131.4 747.2,130.7 748.0,130.0 748.7,129.3 749.5,128.6 750.3,127.9 751.0,127.2 751.8,126.5 752.5,125.8 753.2,125.1 754.0,124.4 754.7,123.8 755.4,123.1 756.2,122.4 756.9,121.8 757.6,121.1 758.3,120.4 759.0,119.8 759.7,119.1 761.1,117.9 762.5,116.6 763.8,115.3 765.2,114.1 766.5,112.8 767.9,111.6 769.2,110.4 770.5,109.2 771.7,108.0 773.0,106.8 774.3,105.6 775.5,104.5 776.8,103.3 778.0,102.2 779.2,101.1 780.4,100.0 781.6,98.9 782.8,97.8 783.9,96.7 785.1,95.6 786.2,94.6 787.4,93.5 788.5,92.5 789.6,91.4 790.7,90.4 791.8,89.4 792.9,88.4 794.0,87.3 795.1,86.4 796.1,85.4 797.2,84.4 798.3,83.4 799.3,82.4 800.3,81.5 801.3,80.5 802.4,79.6 803.4,78.7 804.4,77.7 805.4,76.8 806.3,75.9 807.3,75.0 808.3,74.1 809.3,73.2 810.2,72.3 811.2,71.4 812.1,70.5 813.0,69.7 814.0,68.8 814.9,68.0 815.8,67.1 816.7,66.3 817.6,65.4 818.5,64.6 819.4,63.8 820.3,62.9 821.2,62.1 822.0,61.3 822.9,60.5 823.8,59.7 824.6,58.9 825.5,58.1 826.3,57.3 827.2,56.6 828.0,55.8 828.8,55.0 829.6,54.2 830.5,53.5 831.3,52.7 832.1,52.0 832.9,51.2 833.7,50.5" fill="none" stroke="none" marker-start="url(#ma12)" marker-mid="url(#ma12)" marker-end="url(#ma12)"/>
<polyline points="137.6,686.1 201.1,628.1 243.6,589.2 275.6,560.1 301.4,537.1 322.8,517.8 341.3,501.3 357.4,486.7 371.8,473.8 384.8,462.1 396.6,451.5 407.4,441.7 417.4,432.7 426.6,424.3 435.3,416.5 443.4,409.1 451.1,402.2 458.3,395.6 465.1,389.4 471.6,383.5 477.8,377.9 483.7,372.5 489.4,367.4 494.8,362.5 500.0,357.7 505.0,353.2 509.9,348.8 514.5,344.5 519.0,340.4 523.4,336.5 527.6,332.7 531.6,328.9 535.6,325.3 539.4,321.9 543.1,318.5 546.8,315.1 550.3,311.9 553.7,308.8 557.1,305.7 560.3,302.8 563.5,299.9 566.6,297.0 569.6,294.3 572.6,291.5 575.5,288.9 578.3,286.3 581.1,283.8 583.8,281.3 586.5,278.8 589.1,276.4 591.7,274.1 594.2,271.8 596.6,269.6 599.1,267.3 601.4,265.2 603.8,263.0 606.0,260.9 608.3,258.9 610.5,256.8 612.7,254.8 614.8,252.9 616.9,251.0 619.0,249.1 621.0,247.2 623.0,245.3 625.0,243.5 627.0,241.7 628.9,240.0 630.8,238.2 632.7,236.5 634.5,234.8 636.3,233.2 638.1,231.5 639.9,229.9 641.6,228.3 643.3,226.7 645.0,225.2 646.7,223.6 648.3,222.1 650.0,220.6 651.6,219.1 653.2,217.7 654.7,216.2 656.3,214.8 657.8,213.4 659.4,212.0 660.9,210.6 662.3,209.2 663.8,207.9 665.3,206.5 666.7,205.2 668.1,203.9 669.5,202.6 670.9,201.3 672.3,200.1 673.6,198.8 675.0,197.6 676.3,196.4 677.6,195.1 678.9,193.9 680.2,192.8 681.5,191.6 682.8,190.4 684.0,189.2 685.3,188.1 686.5,187.0 687.7,185.8 688.9,184.7 690.1,183.6 691.3,182.5 692.5,181.4 693.7,180.4 694.8,179.3 696.0,178.2 697.1,177.2 698.2,176.2 699.4,175.1 700.5,174.1 701.6,173.1 702.6,172.1 703.7,171.1 704.8,170.1 705.9,169.1 706.9,168.1 708.0,167.2 709.0,166.2 710.0,165.3 711.0,164.3 712.1,163.4 713.1,162.5 714.1,161.5 715.0,160.6 716.0,159.7 717.0,158.8 718.0,157.9 718.9,157.0 719.9,156.2 720.8,155.3 721.8,154.4 722.7,153.6 723.6,152.7 724.5,151.9 725.5,151.0 726.4,150.2 727.3,149.3 728.2,148.5 729.1,147.7 729.9,146.9 730.8,146.1 731.7,145.3 732.6,144.5 733.4,143.7 734.3,142.9 735.1,142.1 736.0,141.3 736.8,140.5 737.6,139.8 738.5,139.0 739.3,138.2 740.1,137.5 740.9,136.7 741.7,136.0 742.5,135.2 743.3,134.5 744.1,133.8 744.9,133.0 745.7,132.3 746.4,131.6 747.2,130.9 748.0,130.2 748.7,129.5 749.5,128.8 750.3,128.1 751.0,127.4 751.8,126.7 752.5,126.0 753.2,125.3 754.0,124.6 754.7,123.9 755.4,123.3 756.2,122.6 756.9,121.9 757.6,121.3 758.3,120.6 759.0,120.0 759.7,119.3 760.4,118.7 761.1,118.0 761.8,117.4 762.5,116.7 763.2,116.1 763.8,115.5 764.5,114.8 765.2,114.2 765.9,113.6 766.5,113.0 767.2,112.4 767.9,111.8 768.5,111.2 769.2,110.5 769.8,109.9 770.5,109.3 771.1,108.7 771.7,108.2 772.4,107.6 773.0,107.0 773.6,106.4 774.3,105.8 774.9,105.2 775.5,104.6 776.1,104.1 776.8,103.5 777.4,102.9 778.0,102.4 778.6,101.8 779.2,101.2 779.8,100.7 780.4,100.1 781.0,99.6 781.6,99.0 782.2,98.5 782.8,97.9 783.4,97.4 783.9,96.8 784.5,96.3 785.1,95.8 785.7,95.2 786.2,94.7 786.8,94.2 787.4,93.6 787.9,93.1 788.5,92.6 789.1,92.1 789.6,91.5 790.2,91.0 790.7,90.5 791.3,90.0 791.8,89.5 792.4,89.0 792.9,88.5 793.5,88.0 794.0,87.5 794.5,87.0 795.1,86.5 795.6,86.0 796.1,85.5 796.7,85.0 797.2,84.5 797.7,84.0 798.3,83.5 798.8,83.1 799.3,82.6 799.8,82.1 800.3,81.6 800.8,81.1 801.3,80.7 801.9,80.2 802.4,79.7 802.9,79.3 803.4,78.8 803.9,78.3 804.4,77.9 804.9,77.4 805.4,76.9 805.9,76.5 806.3,76.0 806.8,75.6 807.3,75.1 807.8,74.7 808.3,74.2 808.8,73.8 809.3,73.3 809.7,72.9 810.2,72.4 810.7,72.0 811.2,71.5 811.6,71.1 812.1,70.7 812.6,70.2 813.0,69.8 813.5,69.4 814.0,68.9 814.4,68.5 814.9,68.1 815.3,67.6 815.8,67.2 816.3,66.8 816.7,66.4 817.2,66.0 817.6,65.5 818.1,65.1 818.5,64.7 819.0,64.3 819.4,63.9 819.8,63.5 820.3,63.0 820.7,62.6 821.2,62.2 821.6,61.8 822.0,61.4 822.5,61.0 822.9,60.6 823.3,60.2 823.8,59.8 824.2,59.4 824.6,59.0 825.0,58.6 825.5,58.2 825.9,57.8 826.3,57.4 826.7,57.0 827.2,56.7 827.6,56.3 828.0,55.9 828.4,55.5 828.8,55.1 829.2,54.7 829.6,54.3 830.0,54.0 830.5,53.6 830.9,53.2 831.3,52.8 831.7,52.4 832.1,52.1 832.5,51.7 832.9,51.3 833.3,50.9 833.7,50.6" fill="none" stroke="#000" stroke-width="3.7" stroke-linecap="round" clip-path="url(#ca2)"/>
<polyline points="1280.5,-35.5 1290.1,40.5 1299.1,97.2 1307.4,144.5 1315.1,187.6 1322.4,221.8 1329.2,252.2 1335.7,280.8 1341.8,302.9 1347.6,324.5 1353.2,342.9 1358.5,360.0 1363.5,374.6 1368.4,390.4 1373.0,404.4 1377.5,416.4 1381.8,427.8 1386.0,439.9 1390.0,449.4 1393.9,456.5 1397.6,462.3 1401.3,467.6 1404.8,473.0 1408.2,478.6 1411.6,484.3 1414.8,489.9 1418.0,495.3 1421.0,500.5 1424.0,505.5 1426.9,510.1 1429.8,514.5 1432.6,518.6 1435.3,522.4 1437.9,526.0 1440.5,529.5 1443.1,532.8 1445.5,535.9 1448.0,538.9 1450.3,541.8 1452.7,544.5 1455.0,547.1 1457.2,549.7 1459.4,552.1 1461.6,554.4 1463.7,556.6 1465.8,558.8 1467.8,560.8 1469.8,562.8 1471.8,564.7 1473.8,566.6 1475.7,568.4 1477.6,570.1 1479.4,571.7 1481.2,573.3 1483.0,574.9 1484.8,576.4 1486.5,577.9 1488.3,579.3 1490.0,580.6 1491.6,582.0 1493.3,583.2 1494.9,584.5 1496.5,585.7 1498.1,586.9 1499.6,588.0 1501.2,589.1 1502.7,590.2 1504.2,591.3 1505.7,592.3 1507.1,593.3 1508.6,594.3 1510.0,595.2 1511.4,596.1 1512.8,597.0 1514.1,597.9 1515.5,598.8 1516.8,599.6 1518.2,600.4 1519.5,601.2 1520.8,602.0 1522.1,602.7 1523.3,603.5 1524.6,604.2 1525.8,604.9 1527.1,605.6 1528.3,606.3 1529.5,606.9 1530.7,607.6 1531.9,608.2 1533.0,608.8 1534.2,609.5 1535.3,610.0 1536.5,610.6 1537.6,611.2 1538.7,611.8 1539.8,612.3 1540.9,612.9 1542.0,613.4 1543.0,613.9 1544.1,614.4 1545.2,614.9 1546.2,615.4 1547.2,615.9 1548.3,616.4 1549.3,616.8 1550.3,617.3 1551.3,617.7 1552.3,618.2 1553.3,618.6 1554.2,619.0 1555.2,619.4 1556.1,619.8 1557.1,620.3 1558.0,620.6 1559.0,621.0 1559.9,621.4 1560.8,621.8 1561.7,622.2 1562.6,622.5 1563.5,622.9 1564.4,623.2 1565.3,623.6 1566.2,623.9 1567.1,624.3 1567.9,624.6 1568.8,624.9 1569.6,625.3 1570.5,625.6 1571.3,625.9 1572.2,626.2 1573.0,626.5 1573.8,626.8 1574.6,627.1 1575.4,627.4 1576.2,627.7 1577.0,627.9 1577.8,628.2 1578.6,628.5 1579.4,628.8 1580.2,629.0 1581.0,629.3 1581.7,629.6 1582.5,629.8 1583.3,630.1 1584.0,630.3 1584.8,630.6 1585.5,630.8 1586.2,631.0 1587.0,631.3 1587.7,631.5 1588.4,631.7 1589.2,632.0 1589.9,632.2 1590.6,632.4 1591.3,632.6 1592.0,632.9 1592.7,633.1 1593.4,633.3 1594.1,633.5 1594.8,633.7 1595.5,633.9 1596.1,634.1 1596.8,634.3 1597.5,634.5 1598.2,634.7 1598.8,634.9 1599.5,635.1 1600.1,635.3 1600.8,635.4 1601.4,635.6 1602.1,635.8 1602.7,636.0 1603.4,636.2 1604.0,636.3 1604.6,636.5 1605.3,636.7 1605.9,636.9 1606.5,637.0 1607.1,637.2 1607.7,637.3 1608.3,637.5 1609.0,637.7 1609.6,637.8 1610.2,638.0 1610.8,638.1 1611.4,638.3 1612.0,638.4 1612.5,638.6 1613.1,638.7 1613.7,638.9 1614.3,639.0 1614.9,639.2 1615.4,639.3 1616.0,639.5 1616.6,639.6 1617.2,639.7 1617.7,639.9 1618.3,640.0 1618.8,640.2 1619.4,640.3 1620.0,640.4 1620.5,640.6 1621.1,640.7 1621.6,640.8 1622.1,640.9 1622.7,641.1 1623.2,641.2 1623.8,641.3 1624.3,641.4 1624.8,641.6 1625.4,641.7 1625.9,641.8 1626.4,641.9 1626.9,642.0 1627.4,642.1 1628.0,642.3 1628.5,642.4 1629.0,642.5 1629.5,642.6 1630.0,642.7 1630.5,642.8 1631.0,642.9 1631.5,643.0 1632.0,643.1 1632.5,643.2 1633.0,643.4 1633.5,643.5 1634.0,643.6 1634.5,643.7 1635.0,643.8 1635.5,643.9 1635.9,644.0 1636.4,644.1 1636.9,644.2 1637.4,644.3 1637.8,644.4 1638.3,644.4 1638.8,644.5 1639.3,644.6 1639.7,644.7 1640.2,644.8 1640.7,644.9 1641.1,645.0 1641.6,645.1 1642.0,645.2 1642.5,645.3 1643.0,645.4 1643.4,645.5 1643.9,645.5 1644.3,645.6 1644.8,645.7 1645.2,645.8 1645.6,645.9 1646.1,646.0 1646.5,646.0 1647.0,646.1 1647.4,646.2 1647.8,646.3 1648.3,646.4 1648.7,646.4 1649.1,646.5 1649.6,646.6 1650.0,646.7 1650.4,646.8 1650.8,646.8 1651.3,646.9 1651.7,647.0 1652.1,647.1 1652.5,647.1 1653.0,647.2 1653.4,647.3 1653.8,647.4 1654.2,647.4 1654.6,647.5 1655.0,647.6 1655.4,647.6 1655.8,647.7 1656.2,647.8 1656.6,647.9 1657.0,647.9 1657.4,648.0 1657.8,648.1 1658.2,648.1 1658.6,648.2 1659.0,648.3 1659.4,648.3 1659.8,648.4 1660.2,648.5 1660.6,648.5 1661.0,648.6 1661.4,648.7 1661.8,648.7 1662.2,648.8 1662.5,648.8 1662.9,648.9 1663.3,649.0 1663.7,649.0 1664.1,649.1 1664.4,649.2 1664.8,649.2 1665.2,649.3 1665.6,649.3 1665.9,649.4 1666.3,649.4 1666.7,649.5 1667.1,649.6 1667.4,649.6 1667.8,649.7 1668.2,649.7 1668.5,649.8 1668.9,649.8 1669.3,649.9 1669.6,650.0 1670.0,650.0 1670.3,650.1 1670.7,650.1 1671.1,650.2 1671.4,650.2 1671.8,650.3 1672.1,650.3 1672.5,650.4 1672.8,650.4 1673.2,650.5 1673.5,650.5 1673.9,650.6 1674.2,650.6 1674.6,650.7 1674.9,650.8 1675.3,650.8 1675.6,650.9 1675.9,650.9 1676.3,650.9 1676.6,651.0 1677.0,651.0 1677.3,651.1 1677.6,651.1 1678.0,651.2 1678.3,651.2 1678.7,651.3 1679.0,651.3 1679.3,651.4 1679.7,651.4 1680.0,651.5 1680.3,651.5 1680.6,651.6 1681.0,651.6 1681.3,651.7 1681.6,651.7 1682.0,651.7 1682.3,651.8 1682.6,651.8 1682.9,651.9 1683.2,651.9 1683.6,652.0 1683.9,652.0 1684.2,652.0 1684.5,652.1 1684.8,652.1 1685.2,652.2 1685.5,652.2 1685.8,652.3 1686.1,652.3 1686.4,652.3 1686.7,652.4 1687.0,652.4 1687.4,652.5 1687.7,652.5 1688.0,652.5 1688.3,652.6 1688.6,652.6 1688.9,652.7 1689.2,652.7 1689.5,652.7 1689.8,652.8 1690.1,652.8 1690.4,652.9 1690.7,652.9 1691.0,652.9 1691.3,653.0 1691.6,653.0 1691.9,653.1 1692.2,653.1 1692.5,653.1 1692.8,653.2 1693.1,653.2 1693.4,653.2 1693.7,653.3 1694.0,653.3 1694.3,653.3" fill="none" stroke="#06aa1c" stroke-width="4.0" stroke-linejoin="round" clip-path="url(#cb)"/>
<polyline points="1290.1,40.5 1299.1,97.2 1307.4,144.5 1315.1,187.6 1322.4,221.8 1329.2,252.2 1335.7,280.8 1341.8,302.9 1347.6,324.5 1353.2,342.9 1358.5,360.0 1363.5,374.6 1368.4,390.4 1373.0,404.4 1377.5,416.4 1381.8,427.8 1386.0,439.9 1390.0,449.4 1393.9,456.5 1397.6,462.3 1401.3,467.6 1404.8,473.0 1408.2,478.6 1411.6,484.3 1414.8,489.9 1418.0,495.3 1421.0,500.5 1424.0,505.5 1426.9,510.1 1429.8,514.5 1432.6,518.6 1435.3,522.4 1437.9,526.0 1440.5,529.5 1443.1,532.8 1445.5,535.9 1448.0,538.9 1450.3,541.8 1452.7,544.5 1455.0,547.1 1457.2,549.7 1459.4,552.1 1461.6,554.4 1463.7,556.6 1465.8,558.8 1467.8,560.8 1469.8,562.8 1471.8,564.7 1473.8,566.6 1475.7,568.4 1477.6,570.1 1479.4,571.7 1481.2,573.3 1483.0,574.9 1484.8,576.4 1486.5,577.9 1488.3,579.3 1490.0,580.6 1491.6,582.0 1493.3,583.2 1494.9,584.5 1496.5,585.7 1498.1,586.9 1499.6,588.0 1501.2,589.1 1502.7,590.2 1504.2,591.3 1505.7,592.3 1507.1,593.3 1508.6,594.3 1510.0,595.2 1511.4,596.1 1512.8,597.0 1514.1,597.9 1515.5,598.8 1516.8,599.6 1518.2,600.4 1519.5,601.2 1520.8,602.0 1522.1,602.7 1523.3,603.5 1524.6,604.2 1525.8,604.9 1527.1,605.6 1528.3,606.3 1529.5,606.9 1530.7,607.6 1531.9,608.2 1533.0,608.8 1534.2,609.5 1535.3,610.0 1536.5,610.6 1537.6,611.2 1538.7,611.8 1539.8,612.3 1540.9,612.9 1542.0,613.4 1543.0,613.9 1544.1,614.4 1545.2,614.9 1546.2,615.4 1547.2,615.9 1548.3,616.4 1549.3,616.8 1550.3,617.3 1551.3,617.7 1552.3,618.2 1553.3,618.6 1554.2,619.0 1555.2,619.4 1556.1,619.8 1557.1,620.3 1558.0,620.6 1559.0,621.0 1559.9,621.4 1560.8,621.8 1561.7,622.2 1562.6,622.5 1563.5,622.9 1564.4,623.2 1565.3,623.6 1566.2,623.9 1567.1,624.3 1567.9,624.6 1568.8,624.9 1569.6,625.3 1570.5,625.6 1571.3,625.9 1572.2,626.2 1573.0,626.5 1573.8,626.8 1574.6,627.1 1575.4,627.4 1576.2,627.7 1577.0,627.9 1577.8,628.2 1578.6,628.5 1579.4,628.8 1580.2,629.0 1581.0,629.3 1581.7,629.6 1582.5,629.8 1583.3,630.1 1584.0,630.3 1584.8,630.6 1585.5,630.8 1586.2,631.0 1587.0,631.3 1587.7,631.5 1588.4,631.7 1589.2,632.0 1589.9,632.2 1590.6,632.4 1591.3,632.6 1592.0,632.9 1593.4,633.3 1594.8,633.7 1596.1,634.1 1597.5,634.5 1598.8,634.9 1600.1,635.3 1601.4,635.6 1602.7,636.0 1604.0,636.3 1605.3,636.7 1606.5,637.0 1607.7,637.3 1609.0,637.7 1610.2,638.0 1611.4,638.3 1612.5,638.6 1613.7,638.9 1614.9,639.2 1616.0,639.5 1617.2,639.7 1618.3,640.0 1619.4,640.3 1620.5,640.6 1621.6,640.8 1622.7,641.1 1623.8,641.3 1624.8,641.6 1625.9,641.8 1626.9,642.0 1628.0,642.3 1629.0,642.5 1630.0,642.7 1631.0,642.9 1632.0,643.1 1633.0,643.4 1634.0,643.6 1635.0,643.8 1635.9,644.0 1636.9,644.2 1637.8,644.4 1638.8,644.5 1639.7,644.7 1640.7,644.9 1641.6,645.1 1642.5,645.3 1643.4,645.5 1644.3,645.6 1645.2,645.8 1646.1,646.0 1647.0,646.1 1647.8,646.3 1648.7,646.4 1649.6,646.6 1650.4,646.8 1651.3,646.9 1652.1,647.1 1653.0,647.2 1653.8,647.4 1654.6,647.5 1655.4,647.6 1656.2,647.8 1657.0,647.9 1657.8,648.1 1658.6,648.2 1659.4,648.3 1660.2,648.5 1661.0,648.6 1661.8,648.7 1662.5,648.8 1663.3,649.0 1664.1,649.1 1664.8,649.2 1665.6,649.3 1666.3,649.4 1667.1,649.6 1667.8,649.7 1668.5,649.8 1669.3,649.9 1670.0,650.0 1670.7,650.1 1671.4,650.2 1672.1,650.3 1672.8,650.4 1673.5,650.5 1674.6,650.7 1675.6,650.9 1676.6,651.0 1677.6,651.1 1678.7,651.3 1679.7,651.4 1680.6,651.6 1681.6,651.7 1682.6,651.8 1683.6,652.0 1684.5,652.1 1685.5,652.2 1686.4,652.3 1687.4,652.5 1688.3,652.6 1689.2,652.7 1690.1,652.8 1691.0,652.9 1691.9,653.1 1692.8,653.2 1693.7,653.3" fill="none" stroke="none" marker-start="url(#mb1)" marker-mid="url(#mb1)" marker-end="url(#mb1)"/>
<polyline points="1231.0,-106.5 1245.5,41.7 1258.4,124.6 1269.9,184.4 1280.5,234.5 1290.1,275.7 1299.1,309.9 1307.4,339.1 1315.1,363.8 1322.4,384.7 1329.2,405.0 1335.7,420.2 1341.8,435.5 1347.6,448.8 1353.2,460.2 1358.5,469.7 1363.5,479.2 1368.4,489.3 1373.0,498.9 1377.5,506.5 1381.8,513.0 1386.0,518.8 1390.0,524.2 1393.9,529.4 1397.6,534.2 1401.3,538.7 1404.8,542.9 1408.2,546.8 1411.6,550.5 1414.8,554.0 1418.0,557.3 1421.0,560.4 1424.0,563.3 1426.9,566.1 1429.8,568.7 1432.6,571.2 1435.3,573.6 1437.9,575.9 1440.5,578.0 1443.1,580.1 1445.5,582.1 1448.0,583.9 1450.3,585.7 1452.7,587.5 1455.0,589.1 1457.2,590.7 1459.4,592.2 1461.6,593.7 1463.7,595.1 1465.8,596.5 1467.8,597.8 1469.8,599.0 1471.8,600.2 1473.8,601.4 1475.7,602.5 1477.6,603.6 1479.4,604.7 1481.2,605.7 1483.0,606.7 1484.8,607.7 1486.5,608.6 1488.3,609.5 1490.0,610.4 1491.6,611.2 1493.3,612.0 1494.9,612.8 1496.5,613.6 1498.1,614.4 1499.6,615.1 1501.2,615.8 1502.7,616.5 1504.2,617.2 1505.7,617.9 1507.1,618.5 1508.6,619.1 1510.0,619.7 1511.4,620.3 1512.8,620.9 1514.1,621.5 1515.5,622.0 1516.8,622.6 1518.2,623.1 1519.5,623.6 1520.8,624.1 1522.1,624.6 1523.3,625.1 1524.6,625.6 1525.8,626.0 1527.1,626.5 1528.3,626.9 1529.5,627.3 1530.7,627.8 1531.9,628.2 1533.0,628.6 1534.2,629.0 1535.3,629.4 1536.5,629.7 1537.6,630.1 1538.7,630.5 1539.8,630.8 1540.9,631.2 1542.0,631.5 1543.0,631.9 1544.1,632.2 1545.2,632.5 1546.2,632.9 1547.2,633.2 1548.3,633.5 1549.3,633.8 1550.3,634.1 1551.3,634.4 1552.3,634.7 1553.3,634.9 1554.2,635.2 1555.2,635.5 1556.1,635.8 1557.1,636.0 1558.0,636.3 1559.0,636.5 1559.9,636.8 1560.8,637.0 1561.7,637.3 1562.6,637.5 1563.5,637.8 1564.4,638.0 1565.3,638.2 1566.2,638.4 1567.1,638.7 1567.9,638.9 1568.8,639.1 1569.6,639.3 1570.5,639.5 1571.3,639.7 1572.2,639.9 1573.0,640.1 1573.8,640.3 1574.6,640.5 1575.4,640.7 1576.2,640.9 1577.0,641.1 1577.8,641.3 1578.6,641.5 1579.4,641.6 1580.2,641.8 1581.0,642.0 1581.7,642.1 1582.5,642.3 1583.3,642.5 1584.0,642.6 1584.8,642.8 1585.5,643.0 1586.2,643.1 1587.0,643.3 1587.7,643.4 1588.4,643.6 1589.2,643.7 1589.9,643.9 1590.6,644.0 1591.3,644.2 1592.0,644.3 1592.7,644.5 1593.4,644.6 1594.1,644.7 1594.8,644.9 1595.5,645.0 1596.1,645.1 1596.8,645.3 1597.5,645.4 1598.2,645.5 1598.8,645.7 1599.5,645.8 1600.1,645.9 1600.8,646.0 1601.4,646.2 1602.1,646.3 1602.7,646.4 1603.4,646.5 1604.0,646.6 1604.6,646.7 1605.3,646.9 1605.9,647.0 1606.5,647.1 1607.1,647.2 1607.7,647.3 1608.3,647.4 1609.0,647.5 1609.6,647.6 1610.2,647.7 1610.8,647.8 1611.4,647.9 1612.0,648.0 1612.5,648.1 1613.1,648.2 1613.7,648.3 1614.3,648.4 1614.9,648.5 1615.4,648.6 1616.0,648.7 1616.6,648.8 1617.2,648.9 1617.7,649.0 1618.3,649.1 1618.8,649.2 1619.4,649.2 1620.0,649.3 1620.5,649.4 1621.1,649.5 1621.6,649.6 1622.1,649.7 1622.7,649.8 1623.2,649.8 1623.8,649.9 1624.3,650.0 1624.8,650.1 1625.4,650.2 1625.9,650.2 1626.4,650.3 1626.9,650.4 1627.4,650.5 1628.0,650.6 1628.5,650.6 1629.0,650.7 1629.5,650.8 1630.0,650.9 1630.5,650.9 1631.0,651.0 1631.5,651.1 1632.0,651.1 1632.5,651.2 1633.0,651.3 1633.5,651.4 1634.0,651.4 1634.5,651.5 1635.0,651.6 1635.5,651.6 1635.9,651.7 1636.4,651.8 1636.9,651.8 1637.4,651.9 1637.8,652.0 1638.3,652.0 1638.8,652.1 1639.3,652.1 1639.7,652.2 1640.2,652.3 1640.7,652.3 1641.1,652.4 1641.6,652.4 1642.0,652.5 1642.5,652.6 1643.0,652.6 1643.4,652.7 1643.9,652.7 1644.3,652.8 1644.8,652.9 1645.2,652.9 1645.6,653.0 1646.1,653.0 1646.5,653.1 1647.0,653.1 1647.4,653.2 1647.8,653.2 1648.3,653.3 1648.7,653.3 1649.1,653.4 1649.6,653.5 1650.0,653.5 1650.4,653.6 1650.8,653.6 1651.3,653.7 1651.7,653.7 1652.1,653.8 1652.5,653.8 1653.0,653.9 1653.4,653.9 1653.8,654.0 1654.2,654.0 1654.6,654.1 1655.0,654.1 1655.4,654.1 1655.8,654.2 1656.2,654.2 1656.6,654.3 1657.0,654.3 1657.4,654.4 1657.8,654.4 1658.2,654.5 1658.6,654.5 1659.0,654.6 1659.4,654.6 1659.8,654.6 1660.2,654.7 1660.6,654.7 1661.0,654.8 1661.4,654.8 1661.8,654.9 1662.2,654.9 1662.5,654.9 1662.9,655.0 1663.3,655.0 1663.7,655.1 1664.1,655.1 1664.4,655.2 1664.8,655.2 1665.2,655.2 1665.6,655.3 1665.9,655.3 1666.3,655.4 1666.7,655.4 1667.1,655.4 1667.4,655.5 1667.8,655.5 1668.2,655.5 1668.5,655.6 1668.9,655.6 1669.3,655.7 1669.6,655.7 1670.0,655.7 1670.3,655.8 1670.7,655.8 1671.1,655.8 1671.4,655.9 1671.8,655.9 1672.1,655.9 1672.5,656.0 1672.8,656.0 1673.2,656.1 1673.5,656.1 1673.9,656.1 1674.2,656.2 1674.6,656.2 1674.9,656.2 1675.3,656.3 1675.6,656.3 1675.9,656.3 1676.3,656.4 1676.6,656.4 1677.0,656.4 1677.3,656.5 1677.6,656.5 1678.0,656.5 1678.3,656.5 1678.7,656.6 1679.0,656.6 1679.3,656.6 1679.7,656.7 1680.0,656.7 1680.3,656.7 1680.6,656.8 1681.0,656.8 1681.3,656.8 1681.6,656.9 1682.0,656.9 1682.3,656.9 1682.6,656.9 1682.9,657.0 1683.2,657.0 1683.6,657.0 1683.9,657.1 1684.2,657.1 1684.5,657.1 1684.8,657.1 1685.2,657.2 1685.5,657.2 1685.8,657.2 1686.1,657.3 1686.4,657.3 1686.7,657.3 1687.0,657.3 1687.4,657.4 1687.7,657.4 1688.0,657.4 1688.3,657.5 1688.6,657.5 1688.9,657.5 1689.2,657.5 1689.5,657.6 1689.8,657.6 1690.1,657.6 1690.4,657.6 1690.7,657.7 1691.0,657.7 1691.3,657.7 1691.6,657.7 1691.9,657.8 1692.2,657.8 1692.5,657.8 1692.8,657.8 1693.1,657.9 1693.4,657.9 1693.7,657.9 1694.0,657.9 1694.3,658.0" fill="none" stroke="#d32828" stroke-width="4.0" stroke-linejoin="round" clip-path="url(#cb)"/>
<polyline points="1245.5,41.7 1258.4,124.6 1269.9,184.4 1280.5,234.5 1290.1,275.7 1299.1,309.9 1307.4,339.1 1315.1,363.8 1322.4,384.7 1329.2,405.0 1335.7,420.2 1341.8,435.5 1347.6,448.8 1353.2,460.2 1358.5,469.7 1363.5,479.2 1368.4,489.3 1373.0,498.9 1377.5,506.5 1381.8,513.0 1386.0,518.8 1390.0,524.2 1393.9,529.4 1397.6,534.2 1401.3,538.7 1404.8,542.9 1408.2,546.8 1411.6,550.5 1414.8,554.0 1418.0,557.3 1421.0,560.4 1424.0,563.3 1426.9,566.1 1429.8,568.7 1432.6,571.2 1435.3,573.6 1437.9,575.9 1440.5,578.0 1443.1,580.1 1445.5,582.1 1448.0,583.9 1450.3,585.7 1452.7,587.5 1455.0,589.1 1457.2,590.7 1459.4,592.2 1461.6,593.7 1463.7,595.1 1465.8,596.5 1467.8,597.8 1469.8,599.0 1471.8,600.2 1473.8,601.4 1475.7,602.5 1477.6,603.6 1479.4,604.7 1481.2,605.7 1483.0,606.7 1484.8,607.7 1486.5,608.6 1488.3,609.5 1490.0,610.4 1491.6,611.2 1493.3,612.0 1494.9,612.8 1496.5,613.6 1498.1,614.4 1499.6,615.1 1501.2,615.8 1502.7,616.5 1504.2,617.2 1505.7,617.9 1507.1,618.5 1508.6,619.1 1510.0,619.7 1511.4,620.3 1512.8,620.9 1514.1,621.5 1515.5,622.0 1516.8,622.6 1518.2,623.1 1519.5,623.6 1520.8,624.1 1522.1,624.6 1523.3,625.1 1524.6,625.6 1525.8,626.0 1527.1,626.5 1528.3,626.9 1529.5,627.3 1530.7,627.8 1531.9,628.2 1533.0,628.6 1534.2,629.0 1535.3,629.4 1536.5,629.7 1537.6,630.1 1538.7,630.5 1539.8,630.8 1540.9,631.2 1542.0,631.5 1543.0,631.9 1544.1,632.2 1545.2,632.5 1546.2,632.9 1547.2,633.2 1548.3,633.5 1549.3,633.8 1550.3,634.1 1551.3,634.4 1552.3,634.7 1553.3,634.9 1554.2,635.2 1555.2,635.5 1556.1,635.8 1557.1,636.0 1558.0,636.3 1559.0,636.5 1559.9,636.8 1560.8,637.0 1561.7,637.3 1562.6,637.5 1563.5,637.8 1564.4,638.0 1565.3,638.2 1566.2,638.4 1567.1,638.7 1567.9,638.9 1568.8,639.1 1569.6,639.3 1570.5,639.5 1571.3,639.7 1572.2,639.9 1573.0,640.1 1573.8,640.3 1574.6,640.5 1575.4,640.7 1576.2,640.9 1577.0,641.1 1577.8,641.3 1578.6,641.5 1579.4,641.6 1580.2,641.8 1581.0,642.0 1581.7,642.1 1582.5,642.3 1583.3,642.5 1584.0,642.6 1584.8,642.8 1585.5,643.0 1586.2,643.1 1587.0,643.3 1587.7,643.4 1588.4,643.6 1589.2,643.7 1589.9,643.9 1590.6,644.0 1591.3,644.2 1592.0,644.3 1593.4,644.6 1594.8,644.9 1596.1,645.1 1597.5,645.4 1598.8,645.7 1600.1,645.9 1601.4,646.2 1602.7,646.4 1604.0,646.6 1605.3,646.9 1606.5,647.1 1607.7,647.3 1609.0,647.5 1610.2,647.7 1611.4,647.9 1612.5,648.1 1613.7,648.3 1614.9,648.5 1616.0,648.7 1617.2,648.9 1618.3,649.1 1619.4,649.2 1620.5,649.4 1621.6,649.6 1622.7,649.8 1623.8,649.9 1624.8,650.1 1625.9,650.2 1626.9,650.4 1628.0,650.6 1629.0,650.7 1630.0,650.9 1631.0,651.0 1632.0,651.1 1633.0,651.3 1634.0,651.4 1635.0,651.6 1635.9,651.7 1636.9,651.8 1637.8,652.0 1638.8,652.1 1639.7,652.2 1640.7,652.3 1641.6,652.4 1642.5,652.6 1643.4,652.7 1644.3,652.8 1645.2,652.9 1646.1,653.0 1647.0,653.1 1647.8,653.2 1648.7,653.3 1649.6,653.5 1650.4,653.6 1651.3,653.7 1652.1,653.8 1653.0,653.9 1653.8,654.0 1654.6,654.1 1655.4,654.1 1656.2,654.2 1657.0,654.3 1657.8,654.4 1658.6,654.5 1659.4,654.6 1660.2,654.7 1661.0,654.8 1661.8,654.9 1662.5,654.9 1663.3,655.0 1664.1,655.1 1664.8,655.2 1665.6,655.3 1666.3,655.4 1667.1,655.4 1667.8,655.5 1668.5,655.6 1669.3,655.7 1670.0,655.7 1670.7,655.8 1671.4,655.9 1672.1,655.9 1672.8,656.0 1673.5,656.1 1674.6,656.2 1675.6,656.3 1676.6,656.4 1677.6,656.5 1678.7,656.6 1679.7,656.7 1680.6,656.8 1681.6,656.9 1682.6,656.9 1683.6,657.0 1684.5,657.1 1685.5,657.2 1686.4,657.3 1687.4,657.4 1688.3,657.5 1689.2,657.5 1690.1,657.6 1691.0,657.7 1691.9,657.8 1692.8,657.8 1693.7,657.9" fill="none" stroke="none" marker-start="url(#mb2)" marker-mid="url(#mb2)" marker-end="url(#mb2)"/>
<polyline points="1195.3,-29.9 1214.5,98.2 1231.0,188.8 1245.5,255.4 1258.4,305.5 1269.9,345.4 1280.5,378.4 1290.1,404.4 1299.1,426.6 1307.4,445.6 1315.1,461.4 1322.4,475.4 1329.2,487.4 1335.7,498.9 1341.8,510.3 1347.6,519.1 1353.2,528.7 1358.5,536.3 1363.5,541.5 1368.4,545.7 1373.0,549.8 1377.5,554.1 1381.8,558.4 1386.0,562.6 1390.0,566.7 1393.9,570.4 1397.6,573.9 1401.3,577.1 1404.8,580.1 1408.2,582.8 1411.6,585.4 1414.8,587.8 1418.0,590.1 1421.0,592.3 1424.0,594.3 1426.9,596.3 1429.8,598.1 1432.6,599.9 1435.3,601.5 1437.9,603.1 1440.5,604.6 1443.1,606.1 1445.5,607.4 1448.0,608.8 1450.3,610.0 1452.7,611.2 1455.0,612.4 1457.2,613.5 1459.4,614.6 1461.6,615.6 1463.7,616.6 1465.8,617.5 1467.8,618.5 1469.8,619.3 1471.8,620.2 1473.8,621.0 1475.7,621.8 1477.6,622.6 1479.4,623.3 1481.2,624.0 1483.0,624.7 1484.8,625.4 1486.5,626.1 1488.3,626.7 1490.0,627.3 1491.6,627.9 1493.3,628.5 1494.9,629.0 1496.5,629.6 1498.1,630.1 1499.6,630.6 1501.2,631.1 1502.7,631.6 1504.2,632.1 1505.7,632.6 1507.1,633.0 1508.6,633.5 1510.0,633.9 1511.4,634.3 1512.8,634.7 1514.1,635.1 1515.5,635.5 1516.8,635.9 1518.2,636.2 1519.5,636.6 1520.8,637.0 1522.1,637.3 1523.3,637.6 1524.6,638.0 1525.8,638.3 1527.1,638.6 1528.3,638.9 1529.5,639.2 1530.7,639.5 1531.9,639.8 1533.0,640.1 1534.2,640.4 1535.3,640.6 1536.5,640.9 1537.6,641.2 1538.7,641.4 1539.8,641.7 1540.9,641.9 1542.0,642.2 1543.0,642.4 1544.1,642.6 1545.2,642.9 1546.2,643.1 1547.2,643.3 1548.3,643.5 1549.3,643.7 1550.3,644.0 1551.3,644.2 1552.3,644.4 1553.3,644.6 1554.2,644.8 1555.2,645.0 1556.1,645.1 1557.1,645.3 1558.0,645.5 1559.0,645.7 1559.9,645.9 1560.8,646.0 1561.7,646.2 1562.6,646.4 1563.5,646.5 1564.4,646.7 1565.3,646.9 1566.2,647.0 1567.1,647.2 1567.9,647.3 1568.8,647.5 1569.6,647.6 1570.5,647.8 1571.3,647.9 1572.2,648.1 1573.0,648.2 1573.8,648.4 1574.6,648.5 1575.4,648.6 1576.2,648.8 1577.0,648.9 1577.8,649.0 1578.6,649.1 1579.4,649.3 1580.2,649.4 1581.0,649.5 1581.7,649.6 1582.5,649.8 1583.3,649.9 1584.0,650.0 1584.8,650.1 1585.5,650.2 1586.2,650.3 1587.0,650.4 1587.7,650.5 1588.4,650.6 1589.2,650.8 1589.9,650.9 1590.6,651.0 1591.3,651.1 1592.0,651.2 1592.7,651.3 1593.4,651.4 1594.1,651.5 1594.8,651.6 1595.5,651.6 1596.1,651.7 1596.8,651.8 1597.5,651.9 1598.2,652.0 1598.8,652.1 1599.5,652.2 1600.1,652.3 1600.8,652.4 1601.4,652.5 1602.1,652.5 1602.7,652.6 1603.4,652.7 1604.0,652.8 1604.6,652.9 1605.3,652.9 1605.9,653.0 1606.5,653.1 1607.1,653.2 1607.7,653.3 1608.3,653.3 1609.0,653.4 1609.6,653.5 1610.2,653.6 1610.8,653.6 1611.4,653.7 1612.0,653.8 1612.5,653.8 1613.1,653.9 1613.7,654.0 1614.3,654.0 1614.9,654.1 1615.4,654.2 1616.0,654.2 1616.6,654.3 1617.2,654.4 1617.7,654.4 1618.3,654.5 1618.8,654.6 1619.4,654.6 1620.0,654.7 1620.5,654.8 1621.1,654.8 1621.6,654.9 1622.1,654.9 1622.7,655.0 1623.2,655.1 1623.8,655.1 1624.3,655.2 1624.8,655.2 1625.4,655.3 1625.9,655.3 1626.4,655.4 1626.9,655.4 1627.4,655.5 1628.0,655.6 1628.5,655.6 1629.0,655.7 1629.5,655.7 1630.0,655.8 1630.5,655.8 1631.0,655.9 1631.5,655.9 1632.0,656.0 1632.5,656.0 1633.0,656.1 1633.5,656.1 1634.0,656.2 1634.5,656.2 1635.0,656.3 1635.5,656.3 1635.9,656.4 1636.4,656.4 1636.9,656.4 1637.4,656.5 1637.8,656.5 1638.3,656.6 1638.8,656.6 1639.3,656.7 1639.7,656.7 1640.2,656.8 1640.7,656.8 1641.1,656.8 1641.6,656.9 1642.0,656.9 1642.5,657.0 1643.0,657.0 1643.4,657.1 1643.9,657.1 1644.3,657.1 1644.8,657.2 1645.2,657.2 1645.6,657.3 1646.1,657.3 1646.5,657.3 1647.0,657.4 1647.4,657.4 1647.8,657.4 1648.3,657.5 1648.7,657.5 1649.1,657.6 1649.6,657.6 1650.0,657.6 1650.4,657.7 1650.8,657.7 1651.3,657.7 1651.7,657.8 1652.1,657.8 1652.5,657.8 1653.0,657.9 1653.4,657.9 1653.8,657.9 1654.2,658.0 1654.6,658.0 1655.0,658.1 1655.4,658.1 1655.8,658.1 1656.2,658.2 1656.6,658.2 1657.0,658.2 1657.4,658.2 1657.8,658.3 1658.2,658.3 1658.6,658.3 1659.0,658.4 1659.4,658.4 1659.8,658.4 1660.2,658.5 1660.6,658.5 1661.0,658.5 1661.4,658.6 1661.8,658.6 1662.2,658.6 1662.5,658.6 1662.9,658.7 1663.3,658.7 1663.7,658.7 1664.1,658.8 1664.4,658.8 1664.8,658.8 1665.2,658.8 1665.6,658.9 1665.9,658.9 1666.3,658.9 1666.7,659.0 1667.1,659.0 1667.4,659.0 1667.8,659.0 1668.2,659.1 1668.5,659.1 1668.9,659.1 1669.3,659.1 1669.6,659.2 1670.0,659.2 1670.3,659.2 1670.7,659.2 1671.1,659.3 1671.4,659.3 1671.8,659.3 1672.1,659.4 1672.5,659.4 1672.8,659.4 1673.2,659.4 1673.5,659.4 1673.9,659.5 1674.2,659.5 1674.6,659.5 1674.9,659.5 1675.3,659.6 1675.6,659.6 1675.9,659.6 1676.3,659.6 1676.6,659.7 1677.0,659.7 1677.3,659.7 1677.6,659.7 1678.0,659.8 1678.3,659.8 1678.7,659.8 1679.0,659.8 1679.3,659.8 1679.7,659.9 1680.0,659.9 1680.3,659.9 1680.6,659.9 1681.0,660.0 1681.3,660.0 1681.6,660.0 1682.0,660.0 1682.3,660.0 1682.6,660.1 1682.9,660.1 1683.2,660.1 1683.6,660.1 1683.9,660.1 1684.2,660.2 1684.5,660.2 1684.8,660.2 1685.2,660.2 1685.5,660.2 1685.8,660.3 1686.1,660.3 1686.4,660.3 1686.7,660.3 1687.0,660.3 1687.4,660.4 1687.7,660.4 1688.0,660.4 1688.3,660.4 1688.6,660.4 1688.9,660.4 1689.2,660.5 1689.5,660.5 1689.8,660.5 1690.1,660.5 1690.4,660.5 1690.7,660.6 1691.0,660.6 1691.3,660.6 1691.6,660.6 1691.9,660.6 1692.2,660.6 1692.5,660.7 1692.8,660.7 1693.1,660.7 1693.4,660.7 1693.7,660.7 1694.0,660.8 1694.3,660.8" fill="none" stroke="#ff8a00" stroke-width="4.0" stroke-linejoin="round" clip-path="url(#cb)"/>
<polyline points="1214.5,98.2 1231.0,188.8 1245.5,255.4 1258.4,305.5 1269.9,345.4 1280.5,378.4 1290.1,404.4 1299.1,426.6 1307.4,445.6 1315.1,461.4 1322.4,475.4 1329.2,487.4 1335.7,498.9 1341.8,510.3 1347.6,519.1 1353.2,528.7 1358.5,536.3 1363.5,541.5 1368.4,545.7 1373.0,549.8 1377.5,554.1 1381.8,558.4 1386.0,562.6 1390.0,566.7 1393.9,570.4 1397.6,573.9 1401.3,577.1 1404.8,580.1 1408.2,582.8 1411.6,585.4 1414.8,587.8 1418.0,590.1 1421.0,592.3 1424.0,594.3 1426.9,596.3 1429.8,598.1 1432.6,599.9 1435.3,601.5 1437.9,603.1 1440.5,604.6 1443.1,606.1 1445.5,607.4 1448.0,608.8 1450.3,610.0 1452.7,611.2 1455.0,612.4 1457.2,613.5 1459.4,614.6 1461.6,615.6 1463.7,616.6 1465.8,617.5 1467.8,618.5 1469.8,619.3 1471.8,620.2 1473.8,621.0 1475.7,621.8 1477.6,622.6 1479.4,623.3 1481.2,624.0 1483.0,624.7 1484.8,625.4 1486.5,626.1 1488.3,626.7 1490.0,627.3 1491.6,627.9 1493.3,628.5 1494.9,629.0 1496.5,629.6 1498.1,630.1 1499.6,630.6 1501.2,631.1 1502.7,631.6 1504.2,632.1 1505.7,632.6 1507.1,633.0 1508.6,633.5 1510.0,633.9 1511.4,634.3 1512.8,634.7 1514.1,635.1 1515.5,635.5 1516.8,635.9 1518.2,636.2 1519.5,636.6 1520.8,637.0 1522.1,637.3 1523.3,637.6 1524.6,638.0 1525.8,638.3 1527.1,638.6 1528.3,638.9 1529.5,639.2 1530.7,639.5 1531.9,639.8 1533.0,640.1 1534.2,640.4 1535.3,640.6 1536.5,640.9 1537.6,641.2 1538.7,641.4 1539.8,641.7 1540.9,641.9 1542.0,642.2 1543.0,642.4 1544.1,642.6 1545.2,642.9 1546.2,643.1 1547.2,643.3 1548.3,643.5 1549.3,643.7 1550.3,644.0 1551.3,644.2 1552.3,644.4 1553.3,644.6 1554.2,644.8 1555.2,645.0 1556.1,645.1 1557.1,645.3 1558.0,645.5 1559.0,645.7 1559.9,645.9 1560.8,646.0 1561.7,646.2 1562.6,646.4 1563.5,646.5 1564.4,646.7 1565.3,646.9 1566.2,647.0 1567.1,647.2 1567.9,647.3 1568.8,647.5 1569.6,647.6 1570.5,647.8 1571.3,647.9 1572.2,648.1 1573.0,648.2 1573.8,648.4 1574.6,648.5 1575.4,648.6 1576.2,648.8 1577.0,648.9 1577.8,649.0 1578.6,649.1 1579.4,649.3 1580.2,649.4 1581.0,649.5 1581.7,649.6 1582.5,649.8 1583.3,649.9 1584.0,650.0 1584.8,650.1 1585.5,650.2 1586.2,650.3 1587.0,650.4 1587.7,650.5 1588.4,650.6 1589.2,650.8 1589.9,650.9 1590.6,651.0 1591.3,651.1 1592.0,651.2 1593.4,651.4 1594.8,651.6 1596.1,651.7 1597.5,651.9 1598.8,652.1 1600.1,652.3 1601.4,652.5 1602.7,652.6 1604.0,652.8 1605.3,652.9 1606.5,653.1 1607.7,653.3 1609.0,653.4 1610.2,653.6 1611.4,653.7 1612.5,653.8 1613.7,654.0 1614.9,654.1 1616.0,654.2 1617.2,654.4 1618.3,654.5 1619.4,654.6 1620.5,654.8 1621.6,654.9 1622.7,655.0 1623.8,655.1 1624.8,655.2 1625.9,655.3 1626.9,655.4 1628.0,655.6 1629.0,655.7 1630.0,655.8 1631.0,655.9 1632.0,656.0 1633.0,656.1 1634.0,656.2 1635.0,656.3 1635.9,656.4 1636.9,656.4 1637.8,656.5 1638.8,656.6 1639.7,656.7 1640.7,656.8 1641.6,656.9 1642.5,657.0 1643.4,657.1 1644.3,657.1 1645.2,657.2 1646.1,657.3 1647.0,657.4 1647.8,657.4 1648.7,657.5 1649.6,657.6 1650.4,657.7 1651.3,657.7 1652.1,657.8 1653.0,657.9 1653.8,657.9 1654.6,658.0 1655.4,658.1 1656.2,658.2 1657.0,658.2 1657.8,658.3 1658.6,658.3 1659.4,658.4 1660.2,658.5 1661.0,658.5 1661.8,658.6 1662.5,658.6 1663.3,658.7 1664.1,658.8 1664.8,658.8 1665.6,658.9 1666.3,658.9 1667.1,659.0 1667.8,659.0 1668.5,659.1 1669.3,659.1 1670.0,659.2 1670.7,659.2 1671.4,659.3 1672.1,659.4 1672.8,659.4 1673.5,659.4 1674.6,659.5 1675.6,659.6 1676.6,659.7 1677.6,659.7 1678.7,659.8 1679.7,659.9 1680.6,659.9 1681.6,660.0 1682.6,660.1 1683.6,660.1 1684.5,660.2 1685.5,660.2 1686.4,660.3 1687.4,660.4 1688.3,660.4 1689.2,660.5 1690.1,660.5 1691.0,660.6 1691.9,660.6 1692.8,660.7 1693.7,660.7" fill="none" stroke="none" marker-start="url(#mb3)" marker-mid="url(#mb3)" marker-end="url(#mb3)"/>
<polyline points="1143.7,-163.0 1172.3,61.4 1195.3,190.1 1214.5,274.4 1231.0,334.0 1245.5,379.0 1258.4,413.9 1269.9,441.8 1280.5,462.7 1290.1,481.7 1299.1,496.3 1307.4,509.0 1315.1,520.4 1322.4,531.2 1329.2,541.3 1335.7,548.4 1341.8,554.0 1347.6,558.9 1353.2,563.5 1358.5,568.2 1363.5,572.7 1368.4,576.9 1373.0,580.8 1377.5,584.4 1381.8,587.7 1386.0,590.7 1390.0,593.5 1393.9,596.1 1397.6,598.5 1401.3,600.7 1404.8,602.9 1408.2,604.8 1411.6,606.7 1414.8,608.5 1418.0,610.1 1421.0,611.7 1424.0,613.2 1426.9,614.6 1429.8,615.9 1432.6,617.2 1435.3,618.4 1437.9,619.6 1440.5,620.7 1443.1,621.7 1445.5,622.7 1448.0,623.7 1450.3,624.6 1452.7,625.5 1455.0,626.4 1457.2,627.2 1459.4,628.0 1461.6,628.7 1463.7,629.4 1465.8,630.1 1467.8,630.8 1469.8,631.5 1471.8,632.1 1473.8,632.7 1475.7,633.3 1477.6,633.8 1479.4,634.4 1481.2,634.9 1483.0,635.4 1484.8,635.9 1486.5,636.4 1488.3,636.9 1490.0,637.3 1491.6,637.8 1493.3,638.2 1494.9,638.6 1496.5,639.0 1498.1,639.4 1499.6,639.8 1501.2,640.2 1502.7,640.5 1504.2,640.9 1505.7,641.2 1507.1,641.6 1508.6,641.9 1510.0,642.2 1511.4,642.5 1512.8,642.8 1514.1,643.1 1515.5,643.4 1516.8,643.7 1518.2,644.0 1519.5,644.2 1520.8,644.5 1522.1,644.8 1523.3,645.0 1524.6,645.3 1525.8,645.5 1527.1,645.7 1528.3,646.0 1529.5,646.2 1530.7,646.4 1531.9,646.6 1533.0,646.8 1534.2,647.1 1535.3,647.3 1536.5,647.5 1537.6,647.7 1538.7,647.8 1539.8,648.0 1540.9,648.2 1542.0,648.4 1543.0,648.6 1544.1,648.7 1545.2,648.9 1546.2,649.1 1547.2,649.3 1548.3,649.4 1549.3,649.6 1550.3,649.7 1551.3,649.9 1552.3,650.0 1553.3,650.2 1554.2,650.3 1555.2,650.5 1556.1,650.6 1557.1,650.8 1558.0,650.9 1559.0,651.0 1559.9,651.2 1560.8,651.3 1561.7,651.4 1562.6,651.5 1563.5,651.7 1564.4,651.8 1565.3,651.9 1566.2,652.0 1567.1,652.2 1567.9,652.3 1568.8,652.4 1569.6,652.5 1570.5,652.6 1571.3,652.7 1572.2,652.8 1573.0,652.9 1573.8,653.0 1574.6,653.1 1575.4,653.2 1576.2,653.3 1577.0,653.4 1577.8,653.5 1578.6,653.6 1579.4,653.7 1580.2,653.8 1581.0,653.9 1581.7,654.0 1582.5,654.1 1583.3,654.2 1584.0,654.3 1584.8,654.3 1585.5,654.4 1586.2,654.5 1587.0,654.6 1587.7,654.7 1588.4,654.8 1589.2,654.8 1589.9,654.9 1590.6,655.0 1591.3,655.1 1592.0,655.1 1592.7,655.2 1593.4,655.3 1594.1,655.4 1594.8,655.4 1595.5,655.5 1596.1,655.6 1596.8,655.6 1597.5,655.7 1598.2,655.8 1598.8,655.8 1599.5,655.9 1600.1,656.0 1600.8,656.0 1601.4,656.1 1602.1,656.2 1602.7,656.2 1603.4,656.3 1604.0,656.4 1604.6,656.4 1605.3,656.5 1605.9,656.5 1606.5,656.6 1607.1,656.7 1607.7,656.7 1608.3,656.8 1609.0,656.8 1609.6,656.9 1610.2,656.9 1610.8,657.0 1611.4,657.0 1612.0,657.1 1612.5,657.2 1613.1,657.2 1613.7,657.3 1614.3,657.3 1614.9,657.4 1615.4,657.4 1616.0,657.5 1616.6,657.5 1617.2,657.6 1617.7,657.6 1618.3,657.7 1618.8,657.7 1619.4,657.7 1620.0,657.8 1620.5,657.8 1621.1,657.9 1621.6,657.9 1622.1,658.0 1622.7,658.0 1623.2,658.1 1623.8,658.1 1624.3,658.2 1624.8,658.2 1625.4,658.2 1625.9,658.3 1626.4,658.3 1626.9,658.4 1627.4,658.4 1628.0,658.4 1628.5,658.5 1629.0,658.5 1629.5,658.6 1630.0,658.6 1630.5,658.6 1631.0,658.7 1631.5,658.7 1632.0,658.8 1632.5,658.8 1633.0,658.8 1633.5,658.9 1634.0,658.9 1634.5,658.9 1635.0,659.0 1635.5,659.0 1635.9,659.0 1636.4,659.1 1636.9,659.1 1637.4,659.2 1637.8,659.2 1638.3,659.2 1638.8,659.3 1639.3,659.3 1639.7,659.3 1640.2,659.4 1640.7,659.4 1641.1,659.4 1641.6,659.5 1642.0,659.5 1642.5,659.5 1643.0,659.5 1643.4,659.6 1643.9,659.6 1644.3,659.6 1644.8,659.7 1645.2,659.7 1645.6,659.7 1646.1,659.8 1646.5,659.8 1647.0,659.8 1647.4,659.8 1647.8,659.9 1648.3,659.9 1648.7,659.9 1649.1,660.0 1649.6,660.0 1650.0,660.0 1650.4,660.0 1650.8,660.1 1651.3,660.1 1651.7,660.1 1652.1,660.1 1652.5,660.2 1653.0,660.2 1653.4,660.2 1653.8,660.3 1654.2,660.3 1654.6,660.3 1655.0,660.3 1655.4,660.4 1655.8,660.4 1656.2,660.4 1656.6,660.4 1657.0,660.5 1657.4,660.5 1657.8,660.5 1658.2,660.5 1658.6,660.6 1659.0,660.6 1659.4,660.6 1659.8,660.6 1660.2,660.6 1660.6,660.7 1661.0,660.7 1661.4,660.7 1661.8,660.7 1662.2,660.8 1662.5,660.8 1662.9,660.8 1663.3,660.8 1663.7,660.8 1664.1,660.9 1664.4,660.9 1664.8,660.9 1665.2,660.9 1665.6,661.0 1665.9,661.0 1666.3,661.0 1666.7,661.0 1667.1,661.0 1667.4,661.1 1667.8,661.1 1668.2,661.1 1668.5,661.1 1668.9,661.1 1669.3,661.2 1669.6,661.2 1670.0,661.2 1670.3,661.2 1670.7,661.2 1671.1,661.3 1671.4,661.3 1671.8,661.3 1672.1,661.3 1672.5,661.3 1672.8,661.4 1673.2,661.4 1673.5,661.4 1673.9,661.4 1674.2,661.4 1674.6,661.4 1674.9,661.5 1675.3,661.5 1675.6,661.5 1675.9,661.5 1676.3,661.5 1676.6,661.5 1677.0,661.6 1677.3,661.6 1677.6,661.6 1678.0,661.6 1678.3,661.6 1678.7,661.7 1679.0,661.7 1679.3,661.7 1679.7,661.7 1680.0,661.7 1680.3,661.7 1680.6,661.8 1681.0,661.8 1681.3,661.8 1681.6,661.8 1682.0,661.8 1682.3,661.8 1682.6,661.8 1682.9,661.9 1683.2,661.9 1683.6,661.9 1683.9,661.9 1684.2,661.9 1684.5,661.9 1684.8,662.0 1685.2,662.0 1685.5,662.0 1685.8,662.0 1686.1,662.0 1686.4,662.0 1686.7,662.0 1687.0,662.1 1687.4,662.1 1687.7,662.1 1688.0,662.1 1688.3,662.1 1688.6,662.1 1688.9,662.1 1689.2,662.2 1689.5,662.2 1689.8,662.2 1690.1,662.2 1690.4,662.2 1690.7,662.2 1691.0,662.2 1691.3,662.3 1691.6,662.3 1691.9,662.3 1692.2,662.3 1692.5,662.3 1692.8,662.3 1693.1,662.3 1693.4,662.3 1693.7,662.4 1694.0,662.4 1694.3,662.4" fill="none" stroke="#7d45cf" stroke-width="4.0" stroke-linejoin="round" clip-path="url(#cb)"/>
<polyline points="1172.3,61.4 1195.3,190.1 1214.5,274.4 1231.0,334.0 1245.5,379.0 1258.4,413.9 1269.9,441.8 1280.5,462.7 1290.1,481.7 1299.1,496.3 1307.4,509.0 1315.1,520.4 1322.4,531.2 1329.2,541.3 1335.7,548.4 1341.8,554.0 1347.6,558.9 1353.2,563.5 1358.5,568.2 1363.5,572.7 1368.4,576.9 1373.0,580.8 1377.5,584.4 1381.8,587.7 1386.0,590.7 1390.0,593.5 1393.9,596.1 1397.6,598.5 1401.3,600.7 1404.8,602.9 1408.2,604.8 1411.6,606.7 1414.8,608.5 1418.0,610.1 1421.0,611.7 1424.0,613.2 1426.9,614.6 1429.8,615.9 1432.6,617.2 1435.3,618.4 1437.9,619.6 1440.5,620.7 1443.1,621.7 1445.5,622.7 1448.0,623.7 1450.3,624.6 1452.7,625.5 1455.0,626.4 1457.2,627.2 1459.4,628.0 1461.6,628.7 1463.7,629.4 1465.8,630.1 1467.8,630.8 1469.8,631.5 1471.8,632.1 1473.8,632.7 1475.7,633.3 1477.6,633.8 1479.4,634.4 1481.2,634.9 1483.0,635.4 1484.8,635.9 1486.5,636.4 1488.3,636.9 1490.0,637.3 1491.6,637.8 1493.3,638.2 1494.9,638.6 1496.5,639.0 1498.1,639.4 1499.6,639.8 1501.2,640.2 1502.7,640.5 1504.2,640.9 1505.7,641.2 1507.1,641.6 1508.6,641.9 1510.0,642.2 1511.4,642.5 1512.8,642.8 1514.1,643.1 1515.5,643.4 1516.8,643.7 1518.2,644.0 1519.5,644.2 1520.8,644.5 1522.1,644.8 1523.3,645.0 1524.6,645.3 1525.8,645.5 1527.1,645.7 1528.3,646.0 1529.5,646.2 1530.7,646.4 1531.9,646.6 1533.0,646.8 1534.2,647.1 1535.3,647.3 1536.5,647.5 1537.6,647.7 1538.7,647.8 1539.8,648.0 1540.9,648.2 1542.0,648.4 1543.0,648.6 1544.1,648.7 1545.2,648.9 1546.2,649.1 1547.2,649.3 1548.3,649.4 1549.3,649.6 1550.3,649.7 1551.3,649.9 1552.3,650.0 1553.3,650.2 1554.2,650.3 1555.2,650.5 1556.1,650.6 1557.1,650.8 1558.0,650.9 1559.0,651.0 1559.9,651.2 1560.8,651.3 1561.7,651.4 1562.6,651.5 1563.5,651.7 1564.4,651.8 1565.3,651.9 1566.2,652.0 1567.1,652.2 1567.9,652.3 1568.8,652.4 1569.6,652.5 1570.5,652.6 1571.3,652.7 1572.2,652.8 1573.0,652.9 1573.8,653.0 1574.6,653.1 1575.4,653.2 1576.2,653.3 1577.0,653.4 1577.8,653.5 1578.6,653.6 1579.4,653.7 1580.2,653.8 1581.0,653.9 1581.7,654.0 1582.5,654.1 1583.3,654.2 1584.0,654.3 1584.8,654.3 1585.5,654.4 1586.2,654.5 1587.0,654.6 1587.7,654.7 1588.4,654.8 1589.2,654.8 1589.9,654.9 1590.6,655.0 1591.3,655.1 1592.0,655.1 1593.4,655.3 1594.8,655.4 1596.1,655.6 1597.5,655.7 1598.8,655.8 1600.1,656.0 1601.4,656.1 1602.7,656.2 1604.0,656.4 1605.3,656.5 1606.5,656.6 1607.7,656.7 1609.0,656.8 1610.2,656.9 1611.4,657.0 1612.5,657.2 1613.7,657.3 1614.9,657.4 1616.0,657.5 1617.2,657.6 1618.3,657.7 1619.4,657.7 1620.5,657.8 1621.6,657.9 1622.7,658.0 1623.8,658.1 1624.8,658.2 1625.9,658.3 1626.9,658.4 1628.0,658.4 1629.0,658.5 1630.0,658.6 1631.0,658.7 1632.0,658.8 1633.0,658.8 1634.0,658.9 1635.0,659.0 1635.9,659.0 1636.9,659.1 1637.8,659.2 1638.8,659.3 1639.7,659.3 1640.7,659.4 1641.6,659.5 1642.5,659.5 1643.4,659.6 1644.3,659.6 1645.2,659.7 1646.1,659.8 1647.0,659.8 1647.8,659.9 1648.7,659.9 1649.6,660.0 1650.4,660.0 1651.3,660.1 1652.1,660.1 1653.0,660.2 1653.8,660.3 1654.6,660.3 1655.4,660.4 1656.2,660.4 1657.0,660.5 1657.8,660.5 1658.6,660.6 1659.4,660.6 1660.2,660.6 1661.0,660.7 1661.8,660.7 1662.5,660.8 1663.3,660.8 1664.1,660.9 1664.8,660.9 1665.6,661.0 1666.3,661.0 1667.1,661.0 1667.8,661.1 1668.5,661.1 1669.3,661.2 1670.0,661.2 1670.7,661.2 1671.4,661.3 1672.1,661.3 1672.8,661.4 1673.5,661.4 1674.6,661.4 1675.6,661.5 1676.6,661.5 1677.6,661.6 1678.7,661.7 1679.7,661.7 1680.6,661.8 1681.6,661.8 1682.6,661.8 1683.6,661.9 1684.5,661.9 1685.5,662.0 1686.4,662.0 1687.4,662.1 1688.3,662.1 1689.2,662.2 1690.1,662.2 1691.0,662.2 1691.9,662.3 1692.8,662.3 1693.7,662.4" fill="none" stroke="none" marker-start="url(#mb4)" marker-mid="url(#mb4)" marker-end="url(#mb4)"/>
<polyline points="1105.6,-175.7 1143.7,83.0 1172.3,234.5 1195.3,323.9 1214.5,384.1 1231.0,426.6 1245.5,457.6 1258.4,482.4 1269.9,500.8 1280.5,517.9 1290.1,529.3 1299.1,541.3 1307.4,552.1 1315.1,560.4 1322.4,568.0 1329.2,574.3 1335.7,579.8 1341.8,584.6 1347.6,588.9 1353.2,592.8 1358.5,596.4 1363.5,599.6 1368.4,602.5 1373.0,605.2 1377.5,607.7 1381.8,610.0 1386.0,612.1 1390.0,614.1 1393.9,615.9 1397.6,617.7 1401.3,619.3 1404.8,620.8 1408.2,622.2 1411.6,623.5 1414.8,624.8 1418.0,625.9 1421.0,627.1 1424.0,628.1 1426.9,629.1 1429.8,630.1 1432.6,631.0 1435.3,631.9 1437.9,632.7 1440.5,633.5 1443.1,634.3 1445.5,635.0 1448.0,635.7 1450.3,636.3 1452.7,637.0 1455.0,637.6 1457.2,638.2 1459.4,638.7 1461.6,639.3 1463.7,639.8 1465.8,640.3 1467.8,640.8 1469.8,641.3 1471.8,641.7 1473.8,642.2 1475.7,642.6 1477.6,643.0 1479.4,643.4 1481.2,643.8 1483.0,644.1 1484.8,644.5 1486.5,644.8 1488.3,645.2 1490.0,645.5 1491.6,645.8 1493.3,646.1 1494.9,646.4 1496.5,646.7 1498.1,647.0 1499.6,647.3 1501.2,647.6 1502.7,647.8 1504.2,648.1 1505.7,648.3 1507.1,648.6 1508.6,648.8 1510.0,649.0 1511.4,649.3 1512.8,649.5 1514.1,649.7 1515.5,649.9 1516.8,650.1 1518.2,650.3 1519.5,650.5 1520.8,650.7 1522.1,650.9 1523.3,651.1 1524.6,651.2 1525.8,651.4 1527.1,651.6 1528.3,651.8 1529.5,651.9 1530.7,652.1 1531.9,652.2 1533.0,652.4 1534.2,652.5 1535.3,652.7 1536.5,652.8 1537.6,653.0 1538.7,653.1 1539.8,653.3 1540.9,653.4 1542.0,653.5 1543.0,653.7 1544.1,653.8 1545.2,653.9 1546.2,654.0 1547.2,654.2 1548.3,654.3 1549.3,654.4 1550.3,654.5 1551.3,654.6 1552.3,654.7 1553.3,654.8 1554.2,654.9 1555.2,655.0 1556.1,655.1 1557.1,655.2 1558.0,655.3 1559.0,655.4 1559.9,655.5 1560.8,655.6 1561.7,655.7 1562.6,655.8 1563.5,655.9 1564.4,656.0 1565.3,656.1 1566.2,656.2 1567.1,656.3 1567.9,656.3 1568.8,656.4 1569.6,656.5 1570.5,656.6 1571.3,656.7 1572.2,656.7 1573.0,656.8 1573.8,656.9 1574.6,657.0 1575.4,657.0 1576.2,657.1 1577.0,657.2 1577.8,657.3 1578.6,657.3 1579.4,657.4 1580.2,657.5 1581.0,657.5 1581.7,657.6 1582.5,657.7 1583.3,657.7 1584.0,657.8 1584.8,657.9 1585.5,657.9 1586.2,658.0 1587.0,658.0 1587.7,658.1 1588.4,658.2 1589.2,658.2 1589.9,658.3 1590.6,658.3 1591.3,658.4 1592.0,658.4 1592.7,658.5 1593.4,658.5 1594.1,658.6 1594.8,658.7 1595.5,658.7 1596.1,658.8 1596.8,658.8 1597.5,658.9 1598.2,658.9 1598.8,659.0 1599.5,659.0 1600.1,659.1 1600.8,659.1 1601.4,659.2 1602.1,659.2 1602.7,659.2 1603.4,659.3 1604.0,659.3 1604.6,659.4 1605.3,659.4 1605.9,659.5 1606.5,659.5 1607.1,659.6 1607.7,659.6 1608.3,659.6 1609.0,659.7 1609.6,659.7 1610.2,659.8 1610.8,659.8 1611.4,659.8 1612.0,659.9 1612.5,659.9 1613.1,660.0 1613.7,660.0 1614.3,660.0 1614.9,660.1 1615.4,660.1 1616.0,660.1 1616.6,660.2 1617.2,660.2 1617.7,660.2 1618.3,660.3 1618.8,660.3 1619.4,660.3 1620.0,660.4 1620.5,660.4 1621.1,660.5 1621.6,660.5 1622.1,660.5 1622.7,660.5 1623.2,660.6 1623.8,660.6 1624.3,660.6 1624.8,660.7 1625.4,660.7 1625.9,660.7 1626.4,660.8 1626.9,660.8 1627.4,660.8 1628.0,660.9 1628.5,660.9 1629.0,660.9 1629.5,660.9 1630.0,661.0 1630.5,661.0 1631.0,661.0 1631.5,661.1 1632.0,661.1 1632.5,661.1 1633.0,661.1 1633.5,661.2 1634.0,661.2 1634.5,661.2 1635.0,661.2 1635.5,661.3 1635.9,661.3 1636.4,661.3 1636.9,661.4 1637.4,661.4 1637.8,661.4 1638.3,661.4 1638.8,661.4 1639.3,661.5 1639.7,661.5 1640.2,661.5 1640.7,661.5 1641.1,661.6 1641.6,661.6 1642.0,661.6 1642.5,661.6 1643.0,661.7 1643.4,661.7 1643.9,661.7 1644.3,661.7 1644.8,661.8 1645.2,661.8 1645.6,661.8 1646.1,661.8 1646.5,661.8 1647.0,661.9 1647.4,661.9 1647.8,661.9 1648.3,661.9 1648.7,661.9 1649.1,662.0 1649.6,662.0 1650.0,662.0 1650.4,662.0 1650.8,662.0 1651.3,662.1 1651.7,662.1 1652.1,662.1 1652.5,662.1 1653.0,662.1 1653.4,662.2 1653.8,662.2 1654.2,662.2 1654.6,662.2 1655.0,662.2 1655.4,662.3 1655.8,662.3 1656.2,662.3 1656.6,662.3 1657.0,662.3 1657.4,662.3 1657.8,662.4 1658.2,662.4 1658.6,662.4 1659.0,662.4 1659.4,662.4 1659.8,662.5 1660.2,662.5 1660.6,662.5 1661.0,662.5 1661.4,662.5 1661.8,662.5 1662.2,662.6 1662.5,662.6 1662.9,662.6 1663.3,662.6 1663.7,662.6 1664.1,662.6 1664.4,662.6 1664.8,662.7 1665.2,662.7 1665.6,662.7 1665.9,662.7 1666.3,662.7 1666.7,662.7 1667.1,662.8 1667.4,662.8 1667.8,662.8 1668.2,662.8 1668.5,662.8 1668.9,662.8 1669.3,662.8 1669.6,662.9 1670.0,662.9 1670.3,662.9 1670.7,662.9 1671.1,662.9 1671.4,662.9 1671.8,662.9 1672.1,663.0 1672.5,663.0 1672.8,663.0 1673.2,663.0 1673.5,663.0 1673.9,663.0 1674.2,663.0 1674.6,663.1 1674.9,663.1 1675.3,663.1 1675.6,663.1 1675.9,663.1 1676.3,663.1 1676.6,663.1 1677.0,663.1 1677.3,663.2 1677.6,663.2 1678.0,663.2 1678.3,663.2 1678.7,663.2 1679.0,663.2 1679.3,663.2 1679.7,663.2 1680.0,663.3 1680.3,663.3 1680.6,663.3 1681.0,663.3 1681.3,663.3 1681.6,663.3 1682.0,663.3 1682.3,663.3 1682.6,663.3 1682.9,663.4 1683.2,663.4 1683.6,663.4 1683.9,663.4 1684.2,663.4 1684.5,663.4 1684.8,663.4 1685.2,663.4 1685.5,663.5 1685.8,663.5 1686.1,663.5 1686.4,663.5 1686.7,663.5 1687.0,663.5 1687.4,663.5 1687.7,663.5 1688.0,663.5 1688.3,663.5 1688.6,663.6 1688.9,663.6 1689.2,663.6 1689.5,663.6 1689.8,663.6 1690.1,663.6 1690.4,663.6 1690.7,663.6 1691.0,663.6 1691.3,663.6 1691.6,663.7 1691.9,663.7 1692.2,663.7 1692.5,663.7 1692.8,663.7 1693.1,663.7 1693.4,663.7 1693.7,663.7 1694.0,663.7 1694.3,663.7" fill="none" stroke="#ffc98c" stroke-width="4.0" stroke-linejoin="round" clip-path="url(#cb)"/>
<polyline points="1143.7,83.0 1172.3,234.5 1195.3,323.9 1214.5,384.1 1231.0,426.6 1245.5,457.6 1258.4,482.4 1269.9,500.8 1280.5,517.9 1290.1,529.3 1299.1,541.3 1307.4,552.1 1315.1,560.4 1322.4,568.0 1329.2,574.3 1335.7,579.8 1341.8,584.6 1347.6,588.9 1353.2,592.8 1358.5,596.4 1363.5,599.6 1368.4,602.5 1373.0,605.2 1377.5,607.7 1381.8,610.0 1386.0,612.1 1390.0,614.1 1393.9,615.9 1397.6,617.7 1401.3,619.3 1404.8,620.8 1408.2,622.2 1411.6,623.5 1414.8,624.8 1418.0,625.9 1421.0,627.1 1424.0,628.1 1426.9,629.1 1429.8,630.1 1432.6,631.0 1435.3,631.9 1437.9,632.7 1440.5,633.5 1443.1,634.3 1445.5,635.0 1448.0,635.7 1450.3,636.3 1452.7,637.0 1455.0,637.6 1457.2,638.2 1459.4,638.7 1461.6,639.3 1463.7,639.8 1465.8,640.3 1467.8,640.8 1469.8,641.3 1471.8,641.7 1473.8,642.2 1475.7,642.6 1477.6,643.0 1479.4,643.4 1481.2,643.8 1483.0,644.1 1484.8,644.5 1486.5,644.8 1488.3,645.2 1490.0,645.5 1491.6,645.8 1493.3,646.1 1494.9,646.4 1496.5,646.7 1498.1,647.0 1499.6,647.3 1501.2,647.6 1502.7,647.8 1504.2,648.1 1505.7,648.3 1507.1,648.6 1508.6,648.8 1510.0,649.0 1511.4,649.3 1512.8,649.5 1514.1,649.7 1515.5,649.9 1516.8,650.1 1518.2,650.3 1519.5,650.5 1520.8,650.7 1522.1,650.9 1523.3,651.1 1524.6,651.2 1525.8,651.4 1527.1,651.6 1528.3,651.8 1529.5,651.9 1530.7,652.1 1531.9,652.2 1533.0,652.4 1534.2,652.5 1535.3,652.7 1536.5,652.8 1537.6,653.0 1538.7,653.1 1539.8,653.3 1540.9,653.4 1542.0,653.5 1543.0,653.7 1544.1,653.8 1545.2,653.9 1546.2,654.0 1547.2,654.2 1548.3,654.3 1549.3,654.4 1550.3,654.5 1551.3,654.6 1552.3,654.7 1553.3,654.8 1554.2,654.9 1555.2,655.0 1556.1,655.1 1557.1,655.2 1558.0,655.3 1559.0,655.4 1559.9,655.5 1560.8,655.6 1561.7,655.7 1562.6,655.8 1563.5,655.9 1564.4,656.0 1565.3,656.1 1566.2,656.2 1567.1,656.3 1567.9,656.3 1568.8,656.4 1569.6,656.5 1570.5,656.6 1571.3,656.7 1572.2,656.7 1573.0,656.8 1573.8,656.9 1574.6,657.0 1575.4,657.0 1576.2,657.1 1577.0,657.2 1577.8,657.3 1578.6,657.3 1579.4,657.4 1580.2,657.5 1581.0,657.5 1581.7,657.6 1582.5,657.7 1583.3,657.7 1584.0,657.8 1584.8,657.9 1585.5,657.9 1586.2,658.0 1587.0,658.0 1587.7,658.1 1588.4,658.2 1589.2,658.2 1589.9,658.3 1590.6,658.3 1591.3,658.4 1592.0,658.4 1593.4,658.5 1594.8,658.7 1596.1,658.8 1597.5,658.9 1598.8,659.0 1600.1,659.1 1601.4,659.2 1602.7,659.2 1604.0,659.3 1605.3,659.4 1606.5,659.5 1607.7,659.6 1609.0,659.7 1610.2,659.8 1611.4,659.8 1612.5,659.9 1613.7,660.0 1614.9,660.1 1616.0,660.1 1617.2,660.2 1618.3,660.3 1619.4,660.3 1620.5,660.4 1621.6,660.5 1622.7,660.5 1623.8,660.6 1624.8,660.7 1625.9,660.7 1626.9,660.8 1628.0,660.9 1629.0,660.9 1630.0,661.0 1631.0,661.0 1632.0,661.1 1633.0,661.1 1634.0,661.2 1635.0,661.2 1635.9,661.3 1636.9,661.4 1637.8,661.4 1638.8,661.4 1639.7,661.5 1640.7,661.5 1641.6,661.6 1642.5,661.6 1643.4,661.7 1644.3,661.7 1645.2,661.8 1646.1,661.8 1647.0,661.9 1647.8,661.9 1648.7,661.9 1649.6,662.0 1650.4,662.0 1651.3,662.1 1652.1,662.1 1653.0,662.1 1653.8,662.2 1654.6,662.2 1655.4,662.3 1656.2,662.3 1657.0,662.3 1657.8,662.4 1658.6,662.4 1659.4,662.4 1660.2,662.5 1661.0,662.5 1661.8,662.5 1662.5,662.6 1663.3,662.6 1664.1,662.6 1664.8,662.7 1665.6,662.7 1666.3,662.7 1667.1,662.8 1667.8,662.8 1668.5,662.8 1669.3,662.8 1670.0,662.9 1670.7,662.9 1671.4,662.9 1672.1,663.0 1672.8,663.0 1673.5,663.0 1674.6,663.1 1675.6,663.1 1676.6,663.1 1677.6,663.2 1678.7,663.2 1679.7,663.2 1680.6,663.3 1681.6,663.3 1682.6,663.3 1683.6,663.4 1684.5,663.4 1685.5,663.5 1686.4,663.5 1687.4,663.5 1688.3,663.5 1689.2,663.6 1690.1,663.6 1691.0,663.6 1691.9,663.7 1692.8,663.7 1693.7,663.7" fill="none" stroke="none" marker-start="url(#mb5)" marker-mid="url(#mb5)" marker-end="url(#mb5)"/>
<polyline points="1048.9,-516.5 1105.6,36.7 1143.7,238.9 1172.3,347.3 1195.3,412.0 1214.5,454.5 1231.0,484.9 1245.5,507.9 1258.4,525.9 1269.9,540.2 1280.5,551.9 1290.1,561.6 1299.1,569.9 1307.4,576.9 1315.1,583.0 1322.4,588.3 1329.2,593.0 1335.7,597.2 1341.8,600.9 1347.6,604.3 1353.2,607.3 1358.5,610.1 1363.5,612.6 1368.4,614.9 1373.0,617.0 1377.5,619.0 1381.8,620.8 1386.0,622.4 1390.0,624.0 1393.9,625.5 1397.6,626.8 1401.3,628.1 1404.8,629.3 1408.2,630.4 1411.6,631.5 1414.8,632.5 1418.0,633.5 1421.0,634.4 1424.0,635.2 1426.9,636.0 1429.8,636.8 1432.6,637.5 1435.3,638.2 1437.9,638.9 1440.5,639.5 1443.1,640.1 1445.5,640.7 1448.0,641.3 1450.3,641.8 1452.7,642.3 1455.0,642.8 1457.2,643.3 1459.4,643.8 1461.6,644.2 1463.7,644.6 1465.8,645.0 1467.8,645.4 1469.8,645.8 1471.8,646.2 1473.8,646.5 1475.7,646.9 1477.6,647.2 1479.4,647.5 1481.2,647.9 1483.0,648.2 1484.8,648.5 1486.5,648.7 1488.3,649.0 1490.0,649.3 1491.6,649.6 1493.3,649.8 1494.9,650.1 1496.5,650.3 1498.1,650.5 1499.6,650.8 1501.2,651.0 1502.7,651.2 1504.2,651.4 1505.7,651.6 1507.1,651.8 1508.6,652.0 1510.0,652.2 1511.4,652.4 1512.8,652.5 1514.1,652.7 1515.5,652.9 1516.8,653.1 1518.2,653.2 1519.5,653.4 1520.8,653.5 1522.1,653.7 1523.3,653.9 1524.6,654.0 1525.8,654.1 1527.1,654.3 1528.3,654.4 1529.5,654.6 1530.7,654.7 1531.9,654.8 1533.0,654.9 1534.2,655.1 1535.3,655.2 1536.5,655.3 1537.6,655.4 1538.7,655.5 1539.8,655.7 1540.9,655.8 1542.0,655.9 1543.0,656.0 1544.1,656.1 1545.2,656.2 1546.2,656.3 1547.2,656.4 1548.3,656.5 1549.3,656.6 1550.3,656.7 1551.3,656.8 1552.3,656.9 1553.3,657.0 1554.2,657.0 1555.2,657.1 1556.1,657.2 1557.1,657.3 1558.0,657.4 1559.0,657.5 1559.9,657.5 1560.8,657.6 1561.7,657.7 1562.6,657.8 1563.5,657.8 1564.4,657.9 1565.3,658.0 1566.2,658.1 1567.1,658.1 1567.9,658.2 1568.8,658.3 1569.6,658.3 1570.5,658.4 1571.3,658.5 1572.2,658.5 1573.0,658.6 1573.8,658.7 1574.6,658.7 1575.4,658.8 1576.2,658.8 1577.0,658.9 1577.8,659.0 1578.6,659.0 1579.4,659.1 1580.2,659.1 1581.0,659.2 1581.7,659.2 1582.5,659.3 1583.3,659.4 1584.0,659.4 1584.8,659.5 1585.5,659.5 1586.2,659.6 1587.0,659.6 1587.7,659.7 1588.4,659.7 1589.2,659.8 1589.9,659.8 1590.6,659.9 1591.3,659.9 1592.0,659.9 1592.7,660.0 1593.4,660.0 1594.1,660.1 1594.8,660.1 1595.5,660.2 1596.1,660.2 1596.8,660.2 1597.5,660.3 1598.2,660.3 1598.8,660.4 1599.5,660.4 1600.1,660.5 1600.8,660.5 1601.4,660.5 1602.1,660.6 1602.7,660.6 1603.4,660.6 1604.0,660.7 1604.6,660.7 1605.3,660.8 1605.9,660.8 1606.5,660.8 1607.1,660.9 1607.7,660.9 1608.3,660.9 1609.0,661.0 1609.6,661.0 1610.2,661.0 1610.8,661.1 1611.4,661.1 1612.0,661.1 1612.5,661.2 1613.1,661.2 1613.7,661.2 1614.3,661.3 1614.9,661.3 1615.4,661.3 1616.0,661.4 1616.6,661.4 1617.2,661.4 1617.7,661.4 1618.3,661.5 1618.8,661.5 1619.4,661.5 1620.0,661.6 1620.5,661.6 1621.1,661.6 1621.6,661.6 1622.1,661.7 1622.7,661.7 1623.2,661.7 1623.8,661.7 1624.3,661.8 1624.8,661.8 1625.4,661.8 1625.9,661.9 1626.4,661.9 1626.9,661.9 1627.4,661.9 1628.0,662.0 1628.5,662.0 1629.0,662.0 1629.5,662.0 1630.0,662.0 1630.5,662.1 1631.0,662.1 1631.5,662.1 1632.0,662.1 1632.5,662.2 1633.0,662.2 1633.5,662.2 1634.0,662.2 1634.5,662.3 1635.0,662.3 1635.5,662.3 1635.9,662.3 1636.4,662.3 1636.9,662.4 1637.4,662.4 1637.8,662.4 1638.3,662.4 1638.8,662.4 1639.3,662.5 1639.7,662.5 1640.2,662.5 1640.7,662.5 1641.1,662.5 1641.6,662.6 1642.0,662.6 1642.5,662.6 1643.0,662.6 1643.4,662.6 1643.9,662.7 1644.3,662.7 1644.8,662.7 1645.2,662.7 1645.6,662.7 1646.1,662.8 1646.5,662.8 1647.0,662.8 1647.4,662.8 1647.8,662.8 1648.3,662.8 1648.7,662.9 1649.1,662.9 1649.6,662.9 1650.0,662.9 1650.4,662.9 1650.8,662.9 1651.3,663.0 1651.7,663.0 1652.1,663.0 1652.5,663.0 1653.0,663.0 1653.4,663.0 1653.8,663.1 1654.2,663.1 1654.6,663.1 1655.0,663.1 1655.4,663.1 1655.8,663.1 1656.2,663.1 1656.6,663.2 1657.0,663.2 1657.4,663.2 1657.8,663.2 1658.2,663.2 1658.6,663.2 1659.0,663.2 1659.4,663.3 1659.8,663.3 1660.2,663.3 1660.6,663.3 1661.0,663.3 1661.4,663.3 1661.8,663.3 1662.2,663.4 1662.5,663.4 1662.9,663.4 1663.3,663.4 1663.7,663.4 1664.1,663.4 1664.4,663.4 1664.8,663.5 1665.2,663.5 1665.6,663.5 1665.9,663.5 1666.3,663.5 1666.7,663.5 1667.1,663.5 1667.4,663.5 1667.8,663.6 1668.2,663.6 1668.5,663.6 1668.9,663.6 1669.3,663.6 1669.6,663.6 1670.0,663.6 1670.3,663.6 1670.7,663.7 1671.1,663.7 1671.4,663.7 1671.8,663.7 1672.1,663.7 1672.5,663.7 1672.8,663.7 1673.2,663.7 1673.5,663.7 1673.9,663.8 1674.2,663.8 1674.6,663.8 1674.9,663.8 1675.3,663.8 1675.6,663.8 1675.9,663.8 1676.3,663.8 1676.6,663.8 1677.0,663.9 1677.3,663.9 1677.6,663.9 1678.0,663.9 1678.3,663.9 1678.7,663.9 1679.0,663.9 1679.3,663.9 1679.7,663.9 1680.0,663.9 1680.3,664.0 1680.6,664.0 1681.0,664.0 1681.3,664.0 1681.6,664.0 1682.0,664.0 1682.3,664.0 1682.6,664.0 1682.9,664.0 1683.2,664.0 1683.6,664.1 1683.9,664.1 1684.2,664.1 1684.5,664.1 1684.8,664.1 1685.2,664.1 1685.5,664.1 1685.8,664.1 1686.1,664.1 1686.4,664.1 1686.7,664.1 1687.0,664.2 1687.4,664.2 1687.7,664.2 1688.0,664.2 1688.3,664.2 1688.6,664.2 1688.9,664.2 1689.2,664.2 1689.5,664.2 1689.8,664.2 1690.1,664.2 1690.4,664.3 1690.7,664.3 1691.0,664.3 1691.3,664.3 1691.6,664.3 1691.9,664.3 1692.2,664.3 1692.5,664.3 1692.8,664.3 1693.1,664.3 1693.4,664.3 1693.7,664.3 1694.0,664.4 1694.3,664.4" fill="none" stroke="#7c00b8" stroke-width="4.0" stroke-linejoin="round" clip-path="url(#cb)"/>
<polyline points="1105.6,36.7 1143.7,238.9 1172.3,347.3 1195.3,412.0 1214.5,454.5 1231.0,484.9 1245.5,507.9 1258.4,525.9 1269.9,540.2 1280.5,551.9 1290.1,561.6 1299.1,569.9 1307.4,576.9 1315.1,583.0 1322.4,588.3 1329.2,593.0 1335.7,597.2 1341.8,600.9 1347.6,604.3 1353.2,607.3 1358.5,610.1 1363.5,612.6 1368.4,614.9 1373.0,617.0 1377.5,619.0 1381.8,620.8 1386.0,622.4 1390.0,624.0 1393.9,625.5 1397.6,626.8 1401.3,628.1 1404.8,629.3 1408.2,630.4 1411.6,631.5 1414.8,632.5 1418.0,633.5 1421.0,634.4 1424.0,635.2 1426.9,636.0 1429.8,636.8 1432.6,637.5 1435.3,638.2 1437.9,638.9 1440.5,639.5 1443.1,640.1 1445.5,640.7 1448.0,641.3 1450.3,641.8 1452.7,642.3 1455.0,642.8 1457.2,643.3 1459.4,643.8 1461.6,644.2 1463.7,644.6 1465.8,645.0 1467.8,645.4 1469.8,645.8 1471.8,646.2 1473.8,646.5 1475.7,646.9 1477.6,647.2 1479.4,647.5 1481.2,647.9 1483.0,648.2 1484.8,648.5 1486.5,648.7 1488.3,649.0 1490.0,649.3 1491.6,649.6 1493.3,649.8 1494.9,650.1 1496.5,650.3 1498.1,650.5 1499.6,650.8 1501.2,651.0 1502.7,651.2 1504.2,651.4 1505.7,651.6 1507.1,651.8 1508.6,652.0 1510.0,652.2 1511.4,652.4 1512.8,652.5 1514.1,652.7 1515.5,652.9 1516.8,653.1 1518.2,653.2 1519.5,653.4 1520.8,653.5 1522.1,653.7 1523.3,653.9 1524.6,654.0 1525.8,654.1 1527.1,654.3 1528.3,654.4 1529.5,654.6 1530.7,654.7 1531.9,654.8 1533.0,654.9 1534.2,655.1 1535.3,655.2 1536.5,655.3 1537.6,655.4 1538.7,655.5 1539.8,655.7 1540.9,655.8 1542.0,655.9 1543.0,656.0 1544.1,656.1 1545.2,656.2 1546.2,656.3 1547.2,656.4 1548.3,656.5 1549.3,656.6 1550.3,656.7 1551.3,656.8 1552.3,656.9 1553.3,657.0 1554.2,657.0 1555.2,657.1 1556.1,657.2 1557.1,657.3 1558.0,657.4 1559.0,657.5 1559.9,657.5 1560.8,657.6 1561.7,657.7 1562.6,657.8 1563.5,657.8 1564.4,657.9 1565.3,658.0 1566.2,658.1 1567.1,658.1 1567.9,658.2 1568.8,658.3 1569.6,658.3 1570.5,658.4 1571.3,658.5 1572.2,658.5 1573.0,658.6 1573.8,658.7 1574.6,658.7 1575.4,658.8 1576.2,658.8 1577.0,658.9 1577.8,659.0 1578.6,659.0 1579.4,659.1 1580.2,659.1 1581.0,659.2 1581.7,659.2 1582.5,659.3 1583.3,659.4 1584.0,659.4 1584.8,659.5 1585.5,659.5 1586.2,659.6 1587.0,659.6 1587.7,659.7 1588.4,659.7 1589.2,659.8 1589.9,659.8 1590.6,659.9 1591.3,659.9 1592.0,659.9 1593.4,660.0 1594.8,660.1 1596.1,660.2 1597.5,660.3 1598.8,660.4 1600.1,660.5 1601.4,660.5 1602.7,660.6 1604.0,660.7 1605.3,660.8 1606.5,660.8 1607.7,660.9 1609.0,661.0 1610.2,661.0 1611.4,661.1 1612.5,661.2 1613.7,661.2 1614.9,661.3 1616.0,661.4 1617.2,661.4 1618.3,661.5 1619.4,661.5 1620.5,661.6 1621.6,661.6 1622.7,661.7 1623.8,661.7 1624.8,661.8 1625.9,661.9 1626.9,661.9 1628.0,662.0 1629.0,662.0 1630.0,662.0 1631.0,662.1 1632.0,662.1 1633.0,662.2 1634.0,662.2 1635.0,662.3 1635.9,662.3 1636.9,662.4 1637.8,662.4 1638.8,662.4 1639.7,662.5 1640.7,662.5 1641.6,662.6 1642.5,662.6 1643.4,662.6 1644.3,662.7 1645.2,662.7 1646.1,662.8 1647.0,662.8 1647.8,662.8 1648.7,662.9 1649.6,662.9 1650.4,662.9 1651.3,663.0 1652.1,663.0 1653.0,663.0 1653.8,663.1 1654.6,663.1 1655.4,663.1 1656.2,663.1 1657.0,663.2 1657.8,663.2 1658.6,663.2 1659.4,663.3 1660.2,663.3 1661.0,663.3 1661.8,663.3 1662.5,663.4 1663.3,663.4 1664.1,663.4 1664.8,663.5 1665.6,663.5 1666.3,663.5 1667.1,663.5 1667.8,663.6 1668.5,663.6 1669.3,663.6 1670.0,663.6 1670.7,663.7 1671.4,663.7 1672.1,663.7 1672.8,663.7 1673.5,663.7 1674.6,663.8 1675.6,663.8 1676.6,663.8 1677.6,663.9 1678.7,663.9 1679.7,663.9 1680.6,664.0 1681.6,664.0 1682.6,664.0 1683.6,664.1 1684.5,664.1 1685.5,664.1 1686.4,664.1 1687.4,664.2 1688.3,664.2 1689.2,664.2 1690.1,664.2 1691.0,664.3 1691.9,664.3 1692.8,664.3 1693.7,664.3" fill="none" stroke="none" marker-start="url(#mb6)" marker-mid="url(#mb6)" marker-end="url(#mb6)"/>
<polyline points="1048.9,-229.0 1105.6,193.3 1143.7,342.9 1172.3,421.5 1195.3,467.8 1214.5,499.8 1231.0,523.0 1245.5,540.5 1258.4,554.2 1269.9,565.2 1280.5,574.3 1290.1,581.8 1299.1,588.3 1307.4,593.8 1315.1,598.6 1322.4,602.8 1329.2,606.6 1335.7,609.9 1341.8,612.9 1347.6,615.6 1353.2,618.0 1358.5,620.2 1363.5,622.2 1368.4,624.1 1373.0,625.8 1377.5,627.4 1381.8,628.9 1386.0,630.2 1390.0,631.5 1393.9,632.7 1397.6,633.8 1401.3,634.8 1404.8,635.8 1408.2,636.7 1411.6,637.6 1414.8,638.4 1418.0,639.2 1421.0,639.9 1424.0,640.6 1426.9,641.3 1429.8,641.9 1432.6,642.5 1435.3,643.1 1437.9,643.7 1440.5,644.2 1443.1,644.7 1445.5,645.2 1448.0,645.6 1450.3,646.1 1452.7,646.5 1455.0,646.9 1457.2,647.3 1459.4,647.7 1461.6,648.1 1463.7,648.4 1465.8,648.7 1467.8,649.1 1469.8,649.4 1471.8,649.7 1473.8,650.0 1475.7,650.3 1477.6,650.6 1479.4,650.8 1481.2,651.1 1483.0,651.3 1484.8,651.6 1486.5,651.8 1488.3,652.0 1490.0,652.3 1491.6,652.5 1493.3,652.7 1494.9,652.9 1496.5,653.1 1498.1,653.3 1499.6,653.5 1501.2,653.7 1502.7,653.8 1504.2,654.0 1505.7,654.2 1507.1,654.3 1508.6,654.5 1510.0,654.7 1511.4,654.8 1512.8,655.0 1514.1,655.1 1515.5,655.3 1516.8,655.4 1518.2,655.5 1519.5,655.7 1520.8,655.8 1522.1,655.9 1523.3,656.1 1524.6,656.2 1525.8,656.3 1527.1,656.4 1528.3,656.5 1529.5,656.6 1530.7,656.8 1531.9,656.9 1533.0,657.0 1534.2,657.1 1535.3,657.2 1536.5,657.3 1537.6,657.4 1538.7,657.5 1539.8,657.6 1540.9,657.7 1542.0,657.7 1543.0,657.8 1544.1,657.9 1545.2,658.0 1546.2,658.1 1547.2,658.2 1548.3,658.3 1549.3,658.3 1550.3,658.4 1551.3,658.5 1552.3,658.6 1553.3,658.6 1554.2,658.7 1555.2,658.8 1556.1,658.9 1557.1,658.9 1558.0,659.0 1559.0,659.1 1559.9,659.1 1560.8,659.2 1561.7,659.3 1562.6,659.3 1563.5,659.4 1564.4,659.5 1565.3,659.5 1566.2,659.6 1567.1,659.6 1567.9,659.7 1568.8,659.7 1569.6,659.8 1570.5,659.9 1571.3,659.9 1572.2,660.0 1573.0,660.0 1573.8,660.1 1574.6,660.1 1575.4,660.2 1576.2,660.2 1577.0,660.3 1577.8,660.3 1578.6,660.4 1579.4,660.4 1580.2,660.5 1581.0,660.5 1581.7,660.6 1582.5,660.6 1583.3,660.7 1584.0,660.7 1584.8,660.7 1585.5,660.8 1586.2,660.8 1587.0,660.9 1587.7,660.9 1588.4,660.9 1589.2,661.0 1589.9,661.0 1590.6,661.1 1591.3,661.1 1592.0,661.1 1592.7,661.2 1593.4,661.2 1594.1,661.3 1594.8,661.3 1595.5,661.3 1596.1,661.4 1596.8,661.4 1597.5,661.4 1598.2,661.5 1598.8,661.5 1599.5,661.5 1600.1,661.6 1600.8,661.6 1601.4,661.6 1602.1,661.7 1602.7,661.7 1603.4,661.7 1604.0,661.8 1604.6,661.8 1605.3,661.8 1605.9,661.9 1606.5,661.9 1607.1,661.9 1607.7,661.9 1608.3,662.0 1609.0,662.0 1609.6,662.0 1610.2,662.1 1610.8,662.1 1611.4,662.1 1612.0,662.1 1612.5,662.2 1613.1,662.2 1613.7,662.2 1614.3,662.2 1614.9,662.3 1615.4,662.3 1616.0,662.3 1616.6,662.4 1617.2,662.4 1617.7,662.4 1618.3,662.4 1618.8,662.5 1619.4,662.5 1620.0,662.5 1620.5,662.5 1621.1,662.5 1621.6,662.6 1622.1,662.6 1622.7,662.6 1623.2,662.6 1623.8,662.7 1624.3,662.7 1624.8,662.7 1625.4,662.7 1625.9,662.7 1626.4,662.8 1626.9,662.8 1627.4,662.8 1628.0,662.8 1628.5,662.9 1629.0,662.9 1629.5,662.9 1630.0,662.9 1630.5,662.9 1631.0,663.0 1631.5,663.0 1632.0,663.0 1632.5,663.0 1633.0,663.0 1633.5,663.0 1634.0,663.1 1634.5,663.1 1635.0,663.1 1635.5,663.1 1635.9,663.1 1636.4,663.2 1636.9,663.2 1637.4,663.2 1637.8,663.2 1638.3,663.2 1638.8,663.2 1639.3,663.3 1639.7,663.3 1640.2,663.3 1640.7,663.3 1641.1,663.3 1641.6,663.3 1642.0,663.4 1642.5,663.4 1643.0,663.4 1643.4,663.4 1643.9,663.4 1644.3,663.4 1644.8,663.5 1645.2,663.5 1645.6,663.5 1646.1,663.5 1646.5,663.5 1647.0,663.5 1647.4,663.5 1647.8,663.6 1648.3,663.6 1648.7,663.6 1649.1,663.6 1649.6,663.6 1650.0,663.6 1650.4,663.6 1650.8,663.7 1651.3,663.7 1651.7,663.7 1652.1,663.7 1652.5,663.7 1653.0,663.7 1653.4,663.7 1653.8,663.8 1654.2,663.8 1654.6,663.8 1655.0,663.8 1655.4,663.8 1655.8,663.8 1656.2,663.8 1656.6,663.8 1657.0,663.9 1657.4,663.9 1657.8,663.9 1658.2,663.9 1658.6,663.9 1659.0,663.9 1659.4,663.9 1659.8,663.9 1660.2,664.0 1660.6,664.0 1661.0,664.0 1661.4,664.0 1661.8,664.0 1662.2,664.0 1662.5,664.0 1662.9,664.0 1663.3,664.0 1663.7,664.1 1664.1,664.1 1664.4,664.1 1664.8,664.1 1665.2,664.1 1665.6,664.1 1665.9,664.1 1666.3,664.1 1666.7,664.1 1667.1,664.2 1667.4,664.2 1667.8,664.2 1668.2,664.2 1668.5,664.2 1668.9,664.2 1669.3,664.2 1669.6,664.2 1670.0,664.2 1670.3,664.3 1670.7,664.3 1671.1,664.3 1671.4,664.3 1671.8,664.3 1672.1,664.3 1672.5,664.3 1672.8,664.3 1673.2,664.3 1673.5,664.3 1673.9,664.3 1674.2,664.4 1674.6,664.4 1674.9,664.4 1675.3,664.4 1675.6,664.4 1675.9,664.4 1676.3,664.4 1676.6,664.4 1677.0,664.4 1677.3,664.4 1677.6,664.4 1678.0,664.5 1678.3,664.5 1678.7,664.5 1679.0,664.5 1679.3,664.5 1679.7,664.5 1680.0,664.5 1680.3,664.5 1680.6,664.5 1681.0,664.5 1681.3,664.5 1681.6,664.5 1682.0,664.6 1682.3,664.6 1682.6,664.6 1682.9,664.6 1683.2,664.6 1683.6,664.6 1683.9,664.6 1684.2,664.6 1684.5,664.6 1684.8,664.6 1685.2,664.6 1685.5,664.6 1685.8,664.7 1686.1,664.7 1686.4,664.7 1686.7,664.7 1687.0,664.7 1687.4,664.7 1687.7,664.7 1688.0,664.7 1688.3,664.7 1688.6,664.7 1688.9,664.7 1689.2,664.7 1689.5,664.7 1689.8,664.7 1690.1,664.8 1690.4,664.8 1690.7,664.8 1691.0,664.8 1691.3,664.8 1691.6,664.8 1691.9,664.8 1692.2,664.8 1692.5,664.8 1692.8,664.8 1693.1,664.8 1693.4,664.8 1693.7,664.8 1694.0,664.8 1694.3,664.9" fill="none" stroke="#55e1b4" stroke-width="4.0" stroke-linejoin="round" clip-path="url(#cb)"/>
<polyline points="1105.6,193.3 1143.7,342.9 1172.3,421.5 1195.3,467.8 1214.5,499.8 1231.0,523.0 1245.5,540.5 1258.4,554.2 1269.9,565.2 1280.5,574.3 1290.1,581.8 1299.1,588.3 1307.4,593.8 1315.1,598.6 1322.4,602.8 1329.2,606.6 1335.7,609.9 1341.8,612.9 1347.6,615.6 1353.2,618.0 1358.5,620.2 1363.5,622.2 1368.4,624.1 1373.0,625.8 1377.5,627.4 1381.8,628.9 1386.0,630.2 1390.0,631.5 1393.9,632.7 1397.6,633.8 1401.3,634.8 1404.8,635.8 1408.2,636.7 1411.6,637.6 1414.8,638.4 1418.0,639.2 1421.0,639.9 1424.0,640.6 1426.9,641.3 1429.8,641.9 1432.6,642.5 1435.3,643.1 1437.9,643.7 1440.5,644.2 1443.1,644.7 1445.5,645.2 1448.0,645.6 1450.3,646.1 1452.7,646.5 1455.0,646.9 1457.2,647.3 1459.4,647.7 1461.6,648.1 1463.7,648.4 1465.8,648.7 1467.8,649.1 1469.8,649.4 1471.8,649.7 1473.8,650.0 1475.7,650.3 1477.6,650.6 1479.4,650.8 1481.2,651.1 1483.0,651.3 1484.8,651.6 1486.5,651.8 1488.3,652.0 1490.0,652.3 1491.6,652.5 1493.3,652.7 1494.9,652.9 1496.5,653.1 1498.1,653.3 1499.6,653.5 1501.2,653.7 1502.7,653.8 1504.2,654.0 1505.7,654.2 1507.1,654.3 1508.6,654.5 1510.0,654.7 1511.4,654.8 1512.8,655.0 1514.1,655.1 1515.5,655.3 1516.8,655.4 1518.2,655.5 1519.5,655.7 1520.8,655.8 1522.1,655.9 1523.3,656.1 1524.6,656.2 1525.8,656.3 1527.1,656.4 1528.3,656.5 1529.5,656.6 1530.7,656.8 1531.9,656.9 1533.0,657.0 1534.2,657.1 1535.3,657.2 1536.5,657.3 1537.6,657.4 1538.7,657.5 1539.8,657.6 1540.9,657.7 1542.0,657.7 1543.0,657.8 1544.1,657.9 1545.2,658.0 1546.2,658.1 1547.2,658.2 1548.3,658.3 1549.3,658.3 1550.3,658.4 1551.3,658.5 1552.3,658.6 1553.3,658.6 1554.2,658.7 1555.2,658.8 1556.1,658.9 1557.1,658.9 1558.0,659.0 1559.0,659.1 1559.9,659.1 1560.8,659.2 1561.7,659.3 1562.6,659.3 1563.5,659.4 1564.4,659.5 1565.3,659.5 1566.2,659.6 1567.1,659.6 1567.9,659.7 1568.8,659.7 1569.6,659.8 1570.5,659.9 1571.3,659.9 1572.2,660.0 1573.0,660.0 1573.8,660.1 1574.6,660.1 1575.4,660.2 1576.2,660.2 1577.0,660.3 1577.8,660.3 1578.6,660.4 1579.4,660.4 1580.2,660.5 1581.0,660.5 1581.7,660.6 1582.5,660.6 1583.3,660.7 1584.0,660.7 1584.8,660.7 1585.5,660.8 1586.2,660.8 1587.0,660.9 1587.7,660.9 1588.4,660.9 1589.2,661.0 1589.9,661.0 1590.6,661.1 1591.3,661.1 1592.0,661.1 1593.4,661.2 1594.8,661.3 1596.1,661.4 1597.5,661.4 1598.8,661.5 1600.1,661.6 1601.4,661.6 1602.7,661.7 1604.0,661.8 1605.3,661.8 1606.5,661.9 1607.7,661.9 1609.0,662.0 1610.2,662.1 1611.4,662.1 1612.5,662.2 1613.7,662.2 1614.9,662.3 1616.0,662.3 1617.2,662.4 1618.3,662.4 1619.4,662.5 1620.5,662.5 1621.6,662.6 1622.7,662.6 1623.8,662.7 1624.8,662.7 1625.9,662.7 1626.9,662.8 1628.0,662.8 1629.0,662.9 1630.0,662.9 1631.0,663.0 1632.0,663.0 1633.0,663.0 1634.0,663.1 1635.0,663.1 1635.9,663.1 1636.9,663.2 1637.8,663.2 1638.8,663.2 1639.7,663.3 1640.7,663.3 1641.6,663.3 1642.5,663.4 1643.4,663.4 1644.3,663.4 1645.2,663.5 1646.1,663.5 1647.0,663.5 1647.8,663.6 1648.7,663.6 1649.6,663.6 1650.4,663.6 1651.3,663.7 1652.1,663.7 1653.0,663.7 1653.8,663.8 1654.6,663.8 1655.4,663.8 1656.2,663.8 1657.0,663.9 1657.8,663.9 1658.6,663.9 1659.4,663.9 1660.2,664.0 1661.0,664.0 1661.8,664.0 1662.5,664.0 1663.3,664.0 1664.1,664.1 1664.8,664.1 1665.6,664.1 1666.3,664.1 1667.1,664.2 1667.8,664.2 1668.5,664.2 1669.3,664.2 1670.0,664.2 1670.7,664.3 1671.4,664.3 1672.1,664.3 1672.8,664.3 1673.5,664.3 1674.6,664.4 1675.6,664.4 1676.6,664.4 1677.6,664.4 1678.7,664.5 1679.7,664.5 1680.6,664.5 1681.6,664.5 1682.6,664.6 1683.6,664.6 1684.5,664.6 1685.5,664.6 1686.4,664.7 1687.4,664.7 1688.3,664.7 1689.2,664.7 1690.1,664.8 1691.0,664.8 1691.9,664.8 1692.8,664.8 1693.7,664.8" fill="none" stroke="none" marker-start="url(#mb7)" marker-mid="url(#mb7)" marker-end="url(#mb7)"/>
<polyline points="1048.9,17.0 1105.6,300.4 1143.7,414.5 1172.3,475.4 1195.3,513.3 1214.5,538.8 1231.0,556.5 1245.5,569.2 1258.4,579.9 1269.9,588.8 1280.5,595.9 1290.1,601.9 1299.1,606.9 1307.4,611.3 1315.1,615.0 1322.4,618.3 1329.2,621.2 1335.7,623.8 1341.8,626.1 1347.6,628.1 1353.2,630.0 1358.5,631.7 1363.5,633.3 1368.4,634.7 1373.0,636.0 1377.5,637.2 1381.8,638.3 1386.0,639.4 1390.0,640.4 1393.9,641.3 1397.6,642.1 1401.3,642.9 1404.8,643.6 1408.2,644.4 1411.6,645.0 1414.8,645.6 1418.0,646.2 1421.0,646.8 1424.0,647.3 1426.9,647.8 1429.8,648.3 1432.6,648.8 1435.3,649.2 1437.9,649.6 1440.5,650.0 1443.1,650.4 1445.5,650.8 1448.0,651.1 1450.3,651.4 1452.7,651.8 1455.0,652.1 1457.2,652.4 1459.4,652.6 1461.6,652.9 1463.7,653.2 1465.8,653.4 1467.8,653.7 1469.8,653.9 1471.8,654.2 1473.8,654.4 1475.7,654.6 1477.6,654.8 1479.4,655.0 1481.2,655.2 1483.0,655.4 1484.8,655.6 1486.5,655.8 1488.3,655.9 1490.0,656.1 1491.6,656.3 1493.3,656.4 1494.9,656.6 1496.5,656.7 1498.1,656.9 1499.6,657.0 1501.2,657.1 1502.7,657.3 1504.2,657.4 1505.7,657.5 1507.1,657.7 1508.6,657.8 1510.0,657.9 1511.4,658.0 1512.8,658.1 1514.1,658.2 1515.5,658.3 1516.8,658.5 1518.2,658.6 1519.5,658.7 1520.8,658.8 1522.1,658.8 1523.3,658.9 1524.6,659.0 1525.8,659.1 1527.1,659.2 1528.3,659.3 1529.5,659.4 1530.7,659.5 1531.9,659.5 1533.0,659.6 1534.2,659.7 1535.3,659.8 1536.5,659.9 1537.6,659.9 1538.7,660.0 1539.8,660.1 1540.9,660.1 1542.0,660.2 1543.0,660.3 1544.1,660.3 1545.2,660.4 1546.2,660.5 1547.2,660.5 1548.3,660.6 1549.3,660.7 1550.3,660.7 1551.3,660.8 1552.3,660.8 1553.3,660.9 1554.2,660.9 1555.2,661.0 1556.1,661.0 1557.1,661.1 1558.0,661.2 1559.0,661.2 1559.9,661.3 1560.8,661.3 1561.7,661.3 1562.6,661.4 1563.5,661.4 1564.4,661.5 1565.3,661.5 1566.2,661.6 1567.1,661.6 1567.9,661.7 1568.8,661.7 1569.6,661.8 1570.5,661.8 1571.3,661.8 1572.2,661.9 1573.0,661.9 1573.8,662.0 1574.6,662.0 1575.4,662.0 1576.2,662.1 1577.0,662.1 1577.8,662.1 1578.6,662.2 1579.4,662.2 1580.2,662.3 1581.0,662.3 1581.7,662.3 1582.5,662.4 1583.3,662.4 1584.0,662.4 1584.8,662.5 1585.5,662.5 1586.2,662.5 1587.0,662.5 1587.7,662.6 1588.4,662.6 1589.2,662.6 1589.9,662.7 1590.6,662.7 1591.3,662.7 1592.0,662.8 1592.7,662.8 1593.4,662.8 1594.1,662.8 1594.8,662.9 1595.5,662.9 1596.1,662.9 1596.8,662.9 1597.5,663.0 1598.2,663.0 1598.8,663.0 1599.5,663.1 1600.1,663.1 1600.8,663.1 1601.4,663.1 1602.1,663.2 1602.7,663.2 1603.4,663.2 1604.0,663.2 1604.6,663.2 1605.3,663.3 1605.9,663.3 1606.5,663.3 1607.1,663.3 1607.7,663.4 1608.3,663.4 1609.0,663.4 1609.6,663.4 1610.2,663.4 1610.8,663.5 1611.4,663.5 1612.0,663.5 1612.5,663.5 1613.1,663.5 1613.7,663.6 1614.3,663.6 1614.9,663.6 1615.4,663.6 1616.0,663.6 1616.6,663.7 1617.2,663.7 1617.7,663.7 1618.3,663.7 1618.8,663.7 1619.4,663.8 1620.0,663.8 1620.5,663.8 1621.1,663.8 1621.6,663.8 1622.1,663.8 1622.7,663.9 1623.2,663.9 1623.8,663.9 1624.3,663.9 1624.8,663.9 1625.4,663.9 1625.9,664.0 1626.4,664.0 1626.9,664.0 1627.4,664.0 1628.0,664.0 1628.5,664.0 1629.0,664.0 1629.5,664.1 1630.0,664.1 1630.5,664.1 1631.0,664.1 1631.5,664.1 1632.0,664.1 1632.5,664.1 1633.0,664.2 1633.5,664.2 1634.0,664.2 1634.5,664.2 1635.0,664.2 1635.5,664.2 1635.9,664.2 1636.4,664.3 1636.9,664.3 1637.4,664.3 1637.8,664.3 1638.3,664.3 1638.8,664.3 1639.3,664.3 1639.7,664.4 1640.2,664.4 1640.7,664.4 1641.1,664.4 1641.6,664.4 1642.0,664.4 1642.5,664.4 1643.0,664.4 1643.4,664.4 1643.9,664.5 1644.3,664.5 1644.8,664.5 1645.2,664.5 1645.6,664.5 1646.1,664.5 1646.5,664.5 1647.0,664.5 1647.4,664.6 1647.8,664.6 1648.3,664.6 1648.7,664.6 1649.1,664.6 1649.6,664.6 1650.0,664.6 1650.4,664.6 1650.8,664.6 1651.3,664.6 1651.7,664.7 1652.1,664.7 1652.5,664.7 1653.0,664.7 1653.4,664.7 1653.8,664.7 1654.2,664.7 1654.6,664.7 1655.0,664.7 1655.4,664.7 1655.8,664.8 1656.2,664.8 1656.6,664.8 1657.0,664.8 1657.4,664.8 1657.8,664.8 1658.2,664.8 1658.6,664.8 1659.0,664.8 1659.4,664.8 1659.8,664.8 1660.2,664.9 1660.6,664.9 1661.0,664.9 1661.4,664.9 1661.8,664.9 1662.2,664.9 1662.5,664.9 1662.9,664.9 1663.3,664.9 1663.7,664.9 1664.1,664.9 1664.4,665.0 1664.8,665.0 1665.2,665.0 1665.6,665.0 1665.9,665.0 1666.3,665.0 1666.7,665.0 1667.1,665.0 1667.4,665.0 1667.8,665.0 1668.2,665.0 1668.5,665.0 1668.9,665.0 1669.3,665.1 1669.6,665.1 1670.0,665.1 1670.3,665.1 1670.7,665.1 1671.1,665.1 1671.4,665.1 1671.8,665.1 1672.1,665.1 1672.5,665.1 1672.8,665.1 1673.2,665.1 1673.5,665.1 1673.9,665.2 1674.2,665.2 1674.6,665.2 1674.9,665.2 1675.3,665.2 1675.6,665.2 1675.9,665.2 1676.3,665.2 1676.6,665.2 1677.0,665.2 1677.3,665.2 1677.6,665.2 1678.0,665.2 1678.3,665.2 1678.7,665.2 1679.0,665.3 1679.3,665.3 1679.7,665.3 1680.0,665.3 1680.3,665.3 1680.6,665.3 1681.0,665.3 1681.3,665.3 1681.6,665.3 1682.0,665.3 1682.3,665.3 1682.6,665.3 1682.9,665.3 1683.2,665.3 1683.6,665.3 1683.9,665.3 1684.2,665.3 1684.5,665.4 1684.8,665.4 1685.2,665.4 1685.5,665.4 1685.8,665.4 1686.1,665.4 1686.4,665.4 1686.7,665.4 1687.0,665.4 1687.4,665.4 1687.7,665.4 1688.0,665.4 1688.3,665.4 1688.6,665.4 1688.9,665.4 1689.2,665.4 1689.5,665.4 1689.8,665.4 1690.1,665.5 1690.4,665.5 1690.7,665.5 1691.0,665.5 1691.3,665.5 1691.6,665.5 1691.9,665.5 1692.2,665.5 1692.5,665.5 1692.8,665.5 1693.1,665.5 1693.4,665.5 1693.7,665.5 1694.0,665.5 1694.3,665.5" fill="none" stroke="#97b0e6" stroke-width="4.0" stroke-linejoin="round" clip-path="url(#cb)"/>
<polyline points="1105.6,300.4 1143.7,414.5 1172.3,475.4 1195.3,513.3 1214.5,538.8 1231.0,556.5 1245.5,569.2 1258.4,579.9 1269.9,588.8 1280.5,595.9 1290.1,601.9 1299.1,606.9 1307.4,611.3 1315.1,615.0 1322.4,618.3 1329.2,621.2 1335.7,623.8 1341.8,626.1 1347.6,628.1 1353.2,630.0 1358.5,631.7 1363.5,633.3 1368.4,634.7 1373.0,636.0 1377.5,637.2 1381.8,638.3 1386.0,639.4 1390.0,640.4 1393.9,641.3 1397.6,642.1 1401.3,642.9 1404.8,643.6 1408.2,644.4 1411.6,645.0 1414.8,645.6 1418.0,646.2 1421.0,646.8 1424.0,647.3 1426.9,647.8 1429.8,648.3 1432.6,648.8 1435.3,649.2 1437.9,649.6 1440.5,650.0 1443.1,650.4 1445.5,650.8 1448.0,651.1 1450.3,651.4 1452.7,651.8 1455.0,652.1 1457.2,652.4 1459.4,652.6 1461.6,652.9 1463.7,653.2 1465.8,653.4 1467.8,653.7 1469.8,653.9 1471.8,654.2 1473.8,654.4 1475.7,654.6 1477.6,654.8 1479.4,655.0 1481.2,655.2 1483.0,655.4 1484.8,655.6 1486.5,655.8 1488.3,655.9 1490.0,656.1 1491.6,656.3 1493.3,656.4 1494.9,656.6 1496.5,656.7 1498.1,656.9 1499.6,657.0 1501.2,657.1 1502.7,657.3 1504.2,657.4 1505.7,657.5 1507.1,657.7 1508.6,657.8 1510.0,657.9 1511.4,658.0 1512.8,658.1 1514.1,658.2 1515.5,658.3 1516.8,658.5 1518.2,658.6 1519.5,658.7 1520.8,658.8 1522.1,658.8 1523.3,658.9 1524.6,659.0 1525.8,659.1 1527.1,659.2 1528.3,659.3 1529.5,659.4 1530.7,659.5 1531.9,659.5 1533.0,659.6 1534.2,659.7 1535.3,659.8 1536.5,659.9 1537.6,659.9 1538.7,660.0 1539.8,660.1 1540.9,660.1 1542.0,660.2 1543.0,660.3 1544.1,660.3 1545.2,660.4 1546.2,660.5 1547.2,660.5 1548.3,660.6 1549.3,660.7 1550.3,660.7 1551.3,660.8 1552.3,660.8 1553.3,660.9 1554.2,660.9 1555.2,661.0 1556.1,661.0 1557.1,661.1 1558.0,661.2 1559.0,661.2 1559.9,661.3 1560.8,661.3 1561.7,661.3 1562.6,661.4 1563.5,661.4 1564.4,661.5 1565.3,661.5 1566.2,661.6 1567.1,661.6 1567.9,661.7 1568.8,661.7 1569.6,661.8 1570.5,661.8 1571.3,661.8 1572.2,661.9 1573.0,661.9 1573.8,662.0 1574.6,662.0 1575.4,662.0 1576.2,662.1 1577.0,662.1 1577.8,662.1 1578.6,662.2 1579.4,662.2 1580.2,662.3 1581.0,662.3 1581.7,662.3 1582.5,662.4 1583.3,662.4 1584.0,662.4 1584.8,662.5 1585.5,662.5 1586.2,662.5 1587.0,662.5 1587.7,662.6 1588.4,662.6 1589.2,662.6 1589.9,662.7 1590.6,662.7 1591.3,662.7 1592.0,662.8 1593.4,662.8 1594.8,662.9 1596.1,662.9 1597.5,663.0 1598.8,663.0 1600.1,663.1 1601.4,663.1 1602.7,663.2 1604.0,663.2 1605.3,663.3 1606.5,663.3 1607.7,663.4 1609.0,663.4 1610.2,663.4 1611.4,663.5 1612.5,663.5 1613.7,663.6 1614.9,663.6 1616.0,663.6 1617.2,663.7 1618.3,663.7 1619.4,663.8 1620.5,663.8 1621.6,663.8 1622.7,663.9 1623.8,663.9 1624.8,663.9 1625.9,664.0 1626.9,664.0 1628.0,664.0 1629.0,664.0 1630.0,664.1 1631.0,664.1 1632.0,664.1 1633.0,664.2 1634.0,664.2 1635.0,664.2 1635.9,664.2 1636.9,664.3 1637.8,664.3 1638.8,664.3 1639.7,664.4 1640.7,664.4 1641.6,664.4 1642.5,664.4 1643.4,664.4 1644.3,664.5 1645.2,664.5 1646.1,664.5 1647.0,664.5 1647.8,664.6 1648.7,664.6 1649.6,664.6 1650.4,664.6 1651.3,664.6 1652.1,664.7 1653.0,664.7 1653.8,664.7 1654.6,664.7 1655.4,664.7 1656.2,664.8 1657.0,664.8 1657.8,664.8 1658.6,664.8 1659.4,664.8 1660.2,664.9 1661.0,664.9 1661.8,664.9 1662.5,664.9 1663.3,664.9 1664.1,664.9 1664.8,665.0 1665.6,665.0 1666.3,665.0 1667.1,665.0 1667.8,665.0 1668.5,665.0 1669.3,665.1 1670.0,665.1 1670.7,665.1 1671.4,665.1 1672.1,665.1 1672.8,665.1 1673.5,665.1 1674.6,665.2 1675.6,665.2 1676.6,665.2 1677.6,665.2 1678.7,665.2 1679.7,665.3 1680.6,665.3 1681.6,665.3 1682.6,665.3 1683.6,665.3 1684.5,665.4 1685.5,665.4 1686.4,665.4 1687.4,665.4 1688.3,665.4 1689.2,665.4 1690.1,665.5 1691.0,665.5 1691.9,665.5 1692.8,665.5 1693.7,665.5" fill="none" stroke="none" marker-start="url(#mb8)" marker-mid="url(#mb8)" marker-end="url(#mb8)"/>
<polyline points="1048.9,157.8 1105.6,377.8 1143.7,465.9 1172.3,512.2 1195.3,540.7 1214.5,562.3 1231.0,576.2 1245.5,585.7 1258.4,594.3 1269.9,601.6 1280.5,607.5 1290.1,612.4 1299.1,616.6 1307.4,620.2 1315.1,623.3 1322.4,626.0 1329.2,628.4 1335.7,630.5 1341.8,632.5 1347.6,634.2 1353.2,635.8 1358.5,637.2 1363.5,638.5 1368.4,639.7 1373.0,640.8 1377.5,641.8 1381.8,642.7 1386.0,643.6 1390.0,644.4 1393.9,645.2 1397.6,645.9 1401.3,646.6 1404.8,647.2 1408.2,647.8 1411.6,648.4 1414.8,648.9 1418.0,649.4 1421.0,649.9 1424.0,650.3 1426.9,650.7 1429.8,651.1 1432.6,651.5 1435.3,651.9 1437.9,652.2 1440.5,652.6 1443.1,652.9 1445.5,653.2 1448.0,653.5 1450.3,653.8 1452.7,654.1 1455.0,654.3 1457.2,654.6 1459.4,654.8 1461.6,655.1 1463.7,655.3 1465.8,655.5 1467.8,655.7 1469.8,655.9 1471.8,656.1 1473.8,656.3 1475.7,656.5 1477.6,656.6 1479.4,656.8 1481.2,657.0 1483.0,657.1 1484.8,657.3 1486.5,657.5 1488.3,657.6 1490.0,657.7 1491.6,657.9 1493.3,658.0 1494.9,658.1 1496.5,658.3 1498.1,658.4 1499.6,658.5 1501.2,658.6 1502.7,658.8 1504.2,658.9 1505.7,659.0 1507.1,659.1 1508.6,659.2 1510.0,659.3 1511.4,659.4 1512.8,659.5 1514.1,659.6 1515.5,659.7 1516.8,659.8 1518.2,659.8 1519.5,659.9 1520.8,660.0 1522.1,660.1 1523.3,660.2 1524.6,660.3 1525.8,660.3 1527.1,660.4 1528.3,660.5 1529.5,660.5 1530.7,660.6 1531.9,660.7 1533.0,660.8 1534.2,660.8 1535.3,660.9 1536.5,661.0 1537.6,661.0 1538.7,661.1 1539.8,661.1 1540.9,661.2 1542.0,661.3 1543.0,661.3 1544.1,661.4 1545.2,661.4 1546.2,661.5 1547.2,661.5 1548.3,661.6 1549.3,661.6 1550.3,661.7 1551.3,661.7 1552.3,661.8 1553.3,661.8 1554.2,661.9 1555.2,661.9 1556.1,662.0 1557.1,662.0 1558.0,662.1 1559.0,662.1 1559.9,662.1 1560.8,662.2 1561.7,662.2 1562.6,662.3 1563.5,662.3 1564.4,662.3 1565.3,662.4 1566.2,662.4 1567.1,662.5 1567.9,662.5 1568.8,662.5 1569.6,662.6 1570.5,662.6 1571.3,662.6 1572.2,662.7 1573.0,662.7 1573.8,662.7 1574.6,662.8 1575.4,662.8 1576.2,662.8 1577.0,662.9 1577.8,662.9 1578.6,662.9 1579.4,663.0 1580.2,663.0 1581.0,663.0 1581.7,663.1 1582.5,663.1 1583.3,663.1 1584.0,663.1 1584.8,663.2 1585.5,663.2 1586.2,663.2 1587.0,663.3 1587.7,663.3 1588.4,663.3 1589.2,663.3 1589.9,663.4 1590.6,663.4 1591.3,663.4 1592.0,663.4 1592.7,663.5 1593.4,663.5 1594.1,663.5 1594.8,663.5 1595.5,663.6 1596.1,663.6 1596.8,663.6 1597.5,663.6 1598.2,663.6 1598.8,663.7 1599.5,663.7 1600.1,663.7 1600.8,663.7 1601.4,663.7 1602.1,663.8 1602.7,663.8 1603.4,663.8 1604.0,663.8 1604.6,663.8 1605.3,663.9 1605.9,663.9 1606.5,663.9 1607.1,663.9 1607.7,663.9 1608.3,664.0 1609.0,664.0 1609.6,664.0 1610.2,664.0 1610.8,664.0 1611.4,664.1 1612.0,664.1 1612.5,664.1 1613.1,664.1 1613.7,664.1 1614.3,664.1 1614.9,664.2 1615.4,664.2 1616.0,664.2 1616.6,664.2 1617.2,664.2 1617.7,664.2 1618.3,664.3 1618.8,664.3 1619.4,664.3 1620.0,664.3 1620.5,664.3 1621.1,664.3 1621.6,664.3 1622.1,664.4 1622.7,664.4 1623.2,664.4 1623.8,664.4 1624.3,664.4 1624.8,664.4 1625.4,664.4 1625.9,664.5 1626.4,664.5 1626.9,664.5 1627.4,664.5 1628.0,664.5 1628.5,664.5 1629.0,664.5 1629.5,664.5 1630.0,664.6 1630.5,664.6 1631.0,664.6 1631.5,664.6 1632.0,664.6 1632.5,664.6 1633.0,664.6 1633.5,664.6 1634.0,664.7 1634.5,664.7 1635.0,664.7 1635.5,664.7 1635.9,664.7 1636.4,664.7 1636.9,664.7 1637.4,664.7 1637.8,664.8 1638.3,664.8 1638.8,664.8 1639.3,664.8 1639.7,664.8 1640.2,664.8 1640.7,664.8 1641.1,664.8 1641.6,664.8 1642.0,664.8 1642.5,664.9 1643.0,664.9 1643.4,664.9 1643.9,664.9 1644.3,664.9 1644.8,664.9 1645.2,664.9 1645.6,664.9 1646.1,664.9 1646.5,664.9 1647.0,665.0 1647.4,665.0 1647.8,665.0 1648.3,665.0 1648.7,665.0 1649.1,665.0 1649.6,665.0 1650.0,665.0 1650.4,665.0 1650.8,665.0 1651.3,665.1 1651.7,665.1 1652.1,665.1 1652.5,665.1 1653.0,665.1 1653.4,665.1 1653.8,665.1 1654.2,665.1 1654.6,665.1 1655.0,665.1 1655.4,665.1 1655.8,665.1 1656.2,665.2 1656.6,665.2 1657.0,665.2 1657.4,665.2 1657.8,665.2 1658.2,665.2 1658.6,665.2 1659.0,665.2 1659.4,665.2 1659.8,665.2 1660.2,665.2 1660.6,665.2 1661.0,665.2 1661.4,665.3 1661.8,665.3 1662.2,665.3 1662.5,665.3 1662.9,665.3 1663.3,665.3 1663.7,665.3 1664.1,665.3 1664.4,665.3 1664.8,665.3 1665.2,665.3 1665.6,665.3 1665.9,665.3 1666.3,665.3 1666.7,665.4 1667.1,665.4 1667.4,665.4 1667.8,665.4 1668.2,665.4 1668.5,665.4 1668.9,665.4 1669.3,665.4 1669.6,665.4 1670.0,665.4 1670.3,665.4 1670.7,665.4 1671.1,665.4 1671.4,665.4 1671.8,665.4 1672.1,665.5 1672.5,665.5 1672.8,665.5 1673.2,665.5 1673.5,665.5 1673.9,665.5 1674.2,665.5 1674.6,665.5 1674.9,665.5 1675.3,665.5 1675.6,665.5 1675.9,665.5 1676.3,665.5 1676.6,665.5 1677.0,665.5 1677.3,665.5 1677.6,665.5 1678.0,665.6 1678.3,665.6 1678.7,665.6 1679.0,665.6 1679.3,665.6 1679.7,665.6 1680.0,665.6 1680.3,665.6 1680.6,665.6 1681.0,665.6 1681.3,665.6 1681.6,665.6 1682.0,665.6 1682.3,665.6 1682.6,665.6 1682.9,665.6 1683.2,665.6 1683.6,665.6 1683.9,665.6 1684.2,665.7 1684.5,665.7 1684.8,665.7 1685.2,665.7 1685.5,665.7 1685.8,665.7 1686.1,665.7 1686.4,665.7 1686.7,665.7 1687.0,665.7 1687.4,665.7 1687.7,665.7 1688.0,665.7 1688.3,665.7 1688.6,665.7 1688.9,665.7 1689.2,665.7 1689.5,665.7 1689.8,665.7 1690.1,665.7 1690.4,665.7 1690.7,665.8 1691.0,665.8 1691.3,665.8 1691.6,665.8 1691.9,665.8 1692.2,665.8 1692.5,665.8 1692.8,665.8 1693.1,665.8 1693.4,665.8 1693.7,665.8 1694.0,665.8 1694.3,665.8" fill="none" stroke="#0000ff" stroke-width="4.0" stroke-linejoin="round" clip-path="url(#cb)"/>
<polyline points="1048.9,157.8 1105.6,377.8 1143.7,465.9 1172.3,512.2 1195.3,540.7 1214.5,562.3 1231.0,576.2 1245.5,585.7 1258.4,594.3 1269.9,601.6 1280.5,607.5 1290.1,612.4 1299.1,616.6 1307.4,620.2 1315.1,623.3 1322.4,626.0 1329.2,628.4 1335.7,630.5 1341.8,632.5 1347.6,634.2 1353.2,635.8 1358.5,637.2 1363.5,638.5 1368.4,639.7 1373.0,640.8 1377.5,641.8 1381.8,642.7 1386.0,643.6 1390.0,644.4 1393.9,645.2 1397.6,645.9 1401.3,646.6 1404.8,647.2 1408.2,647.8 1411.6,648.4 1414.8,648.9 1418.0,649.4 1421.0,649.9 1424.0,650.3 1426.9,650.7 1429.8,651.1 1432.6,651.5 1435.3,651.9 1437.9,652.2 1440.5,652.6 1443.1,652.9 1445.5,653.2 1448.0,653.5 1450.3,653.8 1452.7,654.1 1455.0,654.3 1457.2,654.6 1459.4,654.8 1461.6,655.1 1463.7,655.3 1465.8,655.5 1467.8,655.7 1469.8,655.9 1471.8,656.1 1473.8,656.3 1475.7,656.5 1477.6,656.6 1479.4,656.8 1481.2,657.0 1483.0,657.1 1484.8,657.3 1486.5,657.5 1488.3,657.6 1490.0,657.7 1491.6,657.9 1493.3,658.0 1494.9,658.1 1496.5,658.3 1498.1,658.4 1499.6,658.5 1501.2,658.6 1502.7,658.8 1504.2,658.9 1505.7,659.0 1507.1,659.1 1508.6,659.2 1510.0,659.3 1511.4,659.4 1512.8,659.5 1514.1,659.6 1515.5,659.7 1516.8,659.8 1518.2,659.8 1519.5,659.9 1520.8,660.0 1522.1,660.1 1523.3,660.2 1524.6,660.3 1525.8,660.3 1527.1,660.4 1528.3,660.5 1529.5,660.5 1530.7,660.6 1531.9,660.7 1533.0,660.8 1534.2,660.8 1535.3,660.9 1536.5,661.0 1537.6,661.0 1538.7,661.1 1539.8,661.1 1540.9,661.2 1542.0,661.3 1543.0,661.3 1544.1,661.4 1545.2,661.4 1546.2,661.5 1547.2,661.5 1548.3,661.6 1549.3,661.6 1550.3,661.7 1551.3,661.7 1552.3,661.8 1553.3,661.8 1554.2,661.9 1555.2,661.9 1556.1,662.0 1557.1,662.0 1558.0,662.1 1559.0,662.1 1559.9,662.1 1560.8,662.2 1561.7,662.2 1562.6,662.3 1563.5,662.3 1564.4,662.3 1565.3,662.4 1566.2,662.4 1567.1,662.5 1567.9,662.5 1568.8,662.5 1569.6,662.6 1570.5,662.6 1571.3,662.6 1572.2,662.7 1573.0,662.7 1573.8,662.7 1574.6,662.8 1575.4,662.8 1576.2,662.8 1577.0,662.9 1577.8,662.9 1578.6,662.9 1579.4,663.0 1580.2,663.0 1581.0,663.0 1581.7,663.1 1582.5,663.1 1583.3,663.1 1584.0,663.1 1584.8,663.2 1585.5,663.2 1586.2,663.2 1587.0,663.3 1587.7,663.3 1588.4,663.3 1589.2,663.3 1589.9,663.4 1590.6,663.4 1591.3,663.4 1592.0,663.4 1593.4,663.5 1594.8,663.5 1596.1,663.6 1597.5,663.6 1598.8,663.7 1600.1,663.7 1601.4,663.7 1602.7,663.8 1604.0,663.8 1605.3,663.9 1606.5,663.9 1607.7,663.9 1609.0,664.0 1610.2,664.0 1611.4,664.1 1612.5,664.1 1613.7,664.1 1614.9,664.2 1616.0,664.2 1617.2,664.2 1618.3,664.3 1619.4,664.3 1620.5,664.3 1621.6,664.3 1622.7,664.4 1623.8,664.4 1624.8,664.4 1625.9,664.5 1626.9,664.5 1628.0,664.5 1629.0,664.5 1630.0,664.6 1631.0,664.6 1632.0,664.6 1633.0,664.6 1634.0,664.7 1635.0,664.7 1635.9,664.7 1636.9,664.7 1637.8,664.8 1638.8,664.8 1639.7,664.8 1640.7,664.8 1641.6,664.8 1642.5,664.9 1643.4,664.9 1644.3,664.9 1645.2,664.9 1646.1,664.9 1647.0,665.0 1647.8,665.0 1648.7,665.0 1649.6,665.0 1650.4,665.0 1651.3,665.1 1652.1,665.1 1653.0,665.1 1653.8,665.1 1654.6,665.1 1655.4,665.1 1656.2,665.2 1657.0,665.2 1657.8,665.2 1658.6,665.2 1659.4,665.2 1660.2,665.2 1661.0,665.2 1661.8,665.3 1662.5,665.3 1663.3,665.3 1664.1,665.3 1664.8,665.3 1665.6,665.3 1666.3,665.3 1667.1,665.4 1667.8,665.4 1668.5,665.4 1669.3,665.4 1670.0,665.4 1670.7,665.4 1671.4,665.4 1672.1,665.5 1672.8,665.5 1673.5,665.5 1674.6,665.5 1675.6,665.5 1676.6,665.5 1677.6,665.5 1678.7,665.6 1679.7,665.6 1680.6,665.6 1681.6,665.6 1682.6,665.6 1683.6,665.6 1684.5,665.7 1685.5,665.7 1686.4,665.7 1687.4,665.7 1688.3,665.7 1689.2,665.7 1690.1,665.7 1691.0,665.8 1691.9,665.8 1692.8,665.8 1693.7,665.8" fill="none" stroke="none" marker-start="url(#mb9)" marker-mid="url(#mb9)" marker-end="url(#mb9)"/>
<polyline points="1048.9,261.7 1105.6,433.2 1143.7,503.4 1172.3,542.0 1195.3,566.7 1214.5,582.5 1231.0,594.0 1245.5,602.8 1258.4,609.8 1269.9,615.5 1280.5,620.2 1290.1,624.1 1299.1,627.3 1307.4,630.2 1315.1,632.6 1322.4,634.8 1329.2,636.7 1335.7,638.4 1341.8,639.9 1347.6,641.3 1353.2,642.5 1358.5,643.7 1363.5,644.7 1368.4,645.6 1373.0,646.5 1377.5,647.3 1381.8,648.0 1386.0,648.7 1390.0,649.4 1393.9,650.0 1397.6,650.5 1401.3,651.1 1404.8,651.6 1408.2,652.0 1411.6,652.5 1414.8,652.9 1418.0,653.3 1421.0,653.7 1424.0,654.0 1426.9,654.3 1429.8,654.7 1432.6,655.0 1435.3,655.3 1437.9,655.5 1440.5,655.8 1443.1,656.1 1445.5,656.3 1448.0,656.5 1450.3,656.7 1452.7,657.0 1455.0,657.2 1457.2,657.4 1459.4,657.6 1461.6,657.7 1463.7,657.9 1465.8,658.1 1467.8,658.3 1469.8,658.4 1471.8,658.6 1473.8,658.7 1475.7,658.9 1477.6,659.0 1479.4,659.1 1481.2,659.3 1483.0,659.4 1484.8,659.5 1486.5,659.6 1488.3,659.7 1490.0,659.9 1491.6,660.0 1493.3,660.1 1494.9,660.2 1496.5,660.3 1498.1,660.4 1499.6,660.5 1501.2,660.6 1502.7,660.7 1504.2,660.7 1505.7,660.8 1507.1,660.9 1508.6,661.0 1510.0,661.1 1511.4,661.1 1512.8,661.2 1514.1,661.3 1515.5,661.4 1516.8,661.4 1518.2,661.5 1519.5,661.6 1520.8,661.6 1522.1,661.7 1523.3,661.8 1524.6,661.8 1525.8,661.9 1527.1,661.9 1528.3,662.0 1529.5,662.1 1530.7,662.1 1531.9,662.2 1533.0,662.2 1534.2,662.3 1535.3,662.3 1536.5,662.4 1537.6,662.4 1538.7,662.5 1539.8,662.5 1540.9,662.6 1542.0,662.6 1543.0,662.7 1544.1,662.7 1545.2,662.7 1546.2,662.8 1547.2,662.8 1548.3,662.9 1549.3,662.9 1550.3,662.9 1551.3,663.0 1552.3,663.0 1553.3,663.1 1554.2,663.1 1555.2,663.1 1556.1,663.2 1557.1,663.2 1558.0,663.2 1559.0,663.3 1559.9,663.3 1560.8,663.3 1561.7,663.4 1562.6,663.4 1563.5,663.4 1564.4,663.5 1565.3,663.5 1566.2,663.5 1567.1,663.6 1567.9,663.6 1568.8,663.6 1569.6,663.6 1570.5,663.7 1571.3,663.7 1572.2,663.7 1573.0,663.8 1573.8,663.8 1574.6,663.8 1575.4,663.8 1576.2,663.9 1577.0,663.9 1577.8,663.9 1578.6,663.9 1579.4,664.0 1580.2,664.0 1581.0,664.0 1581.7,664.0 1582.5,664.0 1583.3,664.1 1584.0,664.1 1584.8,664.1 1585.5,664.1 1586.2,664.2 1587.0,664.2 1587.7,664.2 1588.4,664.2 1589.2,664.2 1589.9,664.3 1590.6,664.3 1591.3,664.3 1592.0,664.3 1592.7,664.3 1593.4,664.4 1594.1,664.4 1594.8,664.4 1595.5,664.4 1596.1,664.4 1596.8,664.4 1597.5,664.5 1598.2,664.5 1598.8,664.5 1599.5,664.5 1600.1,664.5 1600.8,664.5 1601.4,664.6 1602.1,664.6 1602.7,664.6 1603.4,664.6 1604.0,664.6 1604.6,664.6 1605.3,664.7 1605.9,664.7 1606.5,664.7 1607.1,664.7 1607.7,664.7 1608.3,664.7 1609.0,664.7 1609.6,664.8 1610.2,664.8 1610.8,664.8 1611.4,664.8 1612.0,664.8 1612.5,664.8 1613.1,664.8 1613.7,664.9 1614.3,664.9 1614.9,664.9 1615.4,664.9 1616.0,664.9 1616.6,664.9 1617.2,664.9 1617.7,664.9 1618.3,665.0 1618.8,665.0 1619.4,665.0 1620.0,665.0 1620.5,665.0 1621.1,665.0 1621.6,665.0 1622.1,665.0 1622.7,665.1 1623.2,665.1 1623.8,665.1 1624.3,665.1 1624.8,665.1 1625.4,665.1 1625.9,665.1 1626.4,665.1 1626.9,665.1 1627.4,665.2 1628.0,665.2 1628.5,665.2 1629.0,665.2 1629.5,665.2 1630.0,665.2 1630.5,665.2 1631.0,665.2 1631.5,665.2 1632.0,665.2 1632.5,665.3 1633.0,665.3 1633.5,665.3 1634.0,665.3 1634.5,665.3 1635.0,665.3 1635.5,665.3 1635.9,665.3 1636.4,665.3 1636.9,665.3 1637.4,665.3 1637.8,665.4 1638.3,665.4 1638.8,665.4 1639.3,665.4 1639.7,665.4 1640.2,665.4 1640.7,665.4 1641.1,665.4 1641.6,665.4 1642.0,665.4 1642.5,665.4 1643.0,665.4 1643.4,665.5 1643.9,665.5 1644.3,665.5 1644.8,665.5 1645.2,665.5 1645.6,665.5 1646.1,665.5 1646.5,665.5 1647.0,665.5 1647.4,665.5 1647.8,665.5 1648.3,665.5 1648.7,665.5 1649.1,665.6 1649.6,665.6 1650.0,665.6 1650.4,665.6 1650.8,665.6 1651.3,665.6 1651.7,665.6 1652.1,665.6 1652.5,665.6 1653.0,665.6 1653.4,665.6 1653.8,665.6 1654.2,665.6 1654.6,665.6 1655.0,665.6 1655.4,665.7 1655.8,665.7 1656.2,665.7 1656.6,665.7 1657.0,665.7 1657.4,665.7 1657.8,665.7 1658.2,665.7 1658.6,665.7 1659.0,665.7 1659.4,665.7 1659.8,665.7 1660.2,665.7 1660.6,665.7 1661.0,665.7 1661.4,665.7 1661.8,665.8 1662.2,665.8 1662.5,665.8 1662.9,665.8 1663.3,665.8 1663.7,665.8 1664.1,665.8 1664.4,665.8 1664.8,665.8 1665.2,665.8 1665.6,665.8 1665.9,665.8 1666.3,665.8 1666.7,665.8 1667.1,665.8 1667.4,665.8 1667.8,665.8 1668.2,665.8 1668.5,665.8 1668.9,665.9 1669.3,665.9 1669.6,665.9 1670.0,665.9 1670.3,665.9 1670.7,665.9 1671.1,665.9 1671.4,665.9 1671.8,665.9 1672.1,665.9 1672.5,665.9 1672.8,665.9 1673.2,665.9 1673.5,665.9 1673.9,665.9 1674.2,665.9 1674.6,665.9 1674.9,665.9 1675.3,665.9 1675.6,665.9 1675.9,666.0 1676.3,666.0 1676.6,666.0 1677.0,666.0 1677.3,666.0 1677.6,666.0 1678.0,666.0 1678.3,666.0 1678.7,666.0 1679.0,666.0 1679.3,666.0 1679.7,666.0 1680.0,666.0 1680.3,666.0 1680.6,666.0 1681.0,666.0 1681.3,666.0 1681.6,666.0 1682.0,666.0 1682.3,666.0 1682.6,666.0 1682.9,666.0 1683.2,666.0 1683.6,666.0 1683.9,666.1 1684.2,666.1 1684.5,666.1 1684.8,666.1 1685.2,666.1 1685.5,666.1 1685.8,666.1 1686.1,666.1 1686.4,666.1 1686.7,666.1 1687.0,666.1 1687.4,666.1 1687.7,666.1 1688.0,666.1 1688.3,666.1 1688.6,666.1 1688.9,666.1 1689.2,666.1 1689.5,666.1 1689.8,666.1 1690.1,666.1 1690.4,666.1 1690.7,666.1 1691.0,666.1 1691.3,666.1 1691.6,666.1 1691.9,666.1 1692.2,666.2 1692.5,666.2 1692.8,666.2 1693.1,666.2 1693.4,666.2 1693.7,666.2 1694.0,666.2 1694.3,666.2" fill="none" stroke="#ff0000" stroke-width="4.0" stroke-linejoin="round" clip-path="url(#cb)"/>
<polyline points="1048.9,261.7 1105.6,433.2 1143.7,503.4 1172.3,542.0 1195.3,566.7 1214.5,582.5 1231.0,594.0 1245.5,602.8 1258.4,609.8 1269.9,615.5 1280.5,620.2 1290.1,624.1 1299.1,627.3 1307.4,630.2 1315.1,632.6 1322.4,634.8 1329.2,636.7 1335.7,638.4 1341.8,639.9 1347.6,641.3 1353.2,642.5 1358.5,643.7 1363.5,644.7 1368.4,645.6 1373.0,646.5 1377.5,647.3 1381.8,648.0 1386.0,648.7 1390.0,649.4 1393.9,650.0 1397.6,650.5 1401.3,651.1 1404.8,651.6 1408.2,652.0 1411.6,652.5 1414.8,652.9 1418.0,653.3 1421.0,653.7 1424.0,654.0 1426.9,654.3 1429.8,654.7 1432.6,655.0 1435.3,655.3 1437.9,655.5 1440.5,655.8 1443.1,656.1 1445.5,656.3 1448.0,656.5 1450.3,656.7 1452.7,657.0 1455.0,657.2 1457.2,657.4 1459.4,657.6 1461.6,657.7 1463.7,657.9 1465.8,658.1 1467.8,658.3 1469.8,658.4 1471.8,658.6 1473.8,658.7 1475.7,658.9 1477.6,659.0 1479.4,659.1 1481.2,659.3 1483.0,659.4 1484.8,659.5 1486.5,659.6 1488.3,659.7 1490.0,659.9 1491.6,660.0 1493.3,660.1 1494.9,660.2 1496.5,660.3 1498.1,660.4 1499.6,660.5 1501.2,660.6 1502.7,660.7 1504.2,660.7 1505.7,660.8 1507.1,660.9 1508.6,661.0 1510.0,661.1 1511.4,661.1 1512.8,661.2 1514.1,661.3 1515.5,661.4 1516.8,661.4 1518.2,661.5 1519.5,661.6 1520.8,661.6 1522.1,661.7 1523.3,661.8 1524.6,661.8 1525.8,661.9 1527.1,661.9 1528.3,662.0 1529.5,662.1 1530.7,662.1 1531.9,662.2 1533.0,662.2 1534.2,662.3 1535.3,662.3 1536.5,662.4 1537.6,662.4 1538.7,662.5 1539.8,662.5 1540.9,662.6 1542.0,662.6 1543.0,662.7 1544.1,662.7 1545.2,662.7 1546.2,662.8 1547.2,662.8 1548.3,662.9 1549.3,662.9 1550.3,662.9 1551.3,663.0 1552.3,663.0 1553.3,663.1 1554.2,663.1 1555.2,663.1 1556.1,663.2 1557.1,663.2 1558.0,663.2 1559.0,663.3 1559.9,663.3 1560.8,663.3 1561.7,663.4 1562.6,663.4 1563.5,663.4 1564.4,663.5 1565.3,663.5 1566.2,663.5 1567.1,663.6 1567.9,663.6 1568.8,663.6 1569.6,663.6 1570.5,663.7 1571.3,663.7 1572.2,663.7 1573.0,663.8 1573.8,663.8 1574.6,663.8 1575.4,663.8 1576.2,663.9 1577.0,663.9 1577.8,663.9 1578.6,663.9 1579.4,664.0 1580.2,664.0 1581.0,664.0 1581.7,664.0 1582.5,664.0 1583.3,664.1 1584.0,664.1 1584.8,664.1 1585.5,664.1 1586.2,664.2 1587.0,664.2 1587.7,664.2 1588.4,664.2 1589.2,664.2 1589.9,664.3 1590.6,664.3 1591.3,664.3 1592.0,664.3 1593.4,664.4 1594.8,664.4 1596.1,664.4 1597.5,664.5 1598.8,664.5 1600.1,664.5 1601.4,664.6 1602.7,664.6 1604.0,664.6 1605.3,664.7 1606.5,664.7 1607.7,664.7 1609.0,664.7 1610.2,664.8 1611.4,664.8 1612.5,664.8 1613.7,664.9 1614.9,664.9 1616.0,664.9 1617.2,664.9 1618.3,665.0 1619.4,665.0 1620.5,665.0 1621.6,665.0 1622.7,665.1 1623.8,665.1 1624.8,665.1 1625.9,665.1 1626.9,665.1 1628.0,665.2 1629.0,665.2 1630.0,665.2 1631.0,665.2 1632.0,665.2 1633.0,665.3 1634.0,665.3 1635.0,665.3 1635.9,665.3 1636.9,665.3 1637.8,665.4 1638.8,665.4 1639.7,665.4 1640.7,665.4 1641.6,665.4 1642.5,665.4 1643.4,665.5 1644.3,665.5 1645.2,665.5 1646.1,665.5 1647.0,665.5 1647.8,665.5 1648.7,665.5 1649.6,665.6 1650.4,665.6 1651.3,665.6 1652.1,665.6 1653.0,665.6 1653.8,665.6 1654.6,665.6 1655.4,665.7 1656.2,665.7 1657.0,665.7 1657.8,665.7 1658.6,665.7 1659.4,665.7 1660.2,665.7 1661.0,665.7 1661.8,665.8 1662.5,665.8 1663.3,665.8 1664.1,665.8 1664.8,665.8 1665.6,665.8 1666.3,665.8 1667.1,665.8 1667.8,665.8 1668.5,665.8 1669.3,665.9 1670.0,665.9 1670.7,665.9 1671.4,665.9 1672.1,665.9 1672.8,665.9 1673.5,665.9 1674.6,665.9 1675.6,665.9 1676.6,666.0 1677.6,666.0 1678.7,666.0 1679.7,666.0 1680.6,666.0 1681.6,666.0 1682.6,666.0 1683.6,666.0 1684.5,666.1 1685.5,666.1 1686.4,666.1 1687.4,666.1 1688.3,666.1 1689.2,666.1 1690.1,666.1 1691.0,666.1 1691.9,666.1 1692.8,666.2 1693.7,666.2" fill="none" stroke="none" marker-start="url(#mb10)" marker-mid="url(#mb10)" marker-end="url(#mb10)"/>
<polyline points="1048.9,338.1 1105.6,476.0 1143.7,533.1 1172.3,563.5 1195.3,581.9 1214.5,594.6 1231.0,606.0 1245.5,614.9 1258.4,620.6 1269.9,625.0 1280.5,628.6 1290.1,631.7 1299.1,634.4 1307.4,636.7 1315.1,638.6 1322.4,640.4 1329.2,641.9 1335.7,643.3 1341.8,644.5 1347.6,645.7 1353.2,646.7 1358.5,647.6 1363.5,648.5 1368.4,649.2 1373.0,650.0 1377.5,650.6 1381.8,651.2 1386.0,651.8 1390.0,652.3 1393.9,652.8 1397.6,653.3 1401.3,653.7 1404.8,654.1 1408.2,654.5 1411.6,654.9 1414.8,655.3 1418.0,655.6 1421.0,655.9 1424.0,656.2 1426.9,656.5 1429.8,656.7 1432.6,657.0 1435.3,657.2 1437.9,657.5 1440.5,657.7 1443.1,657.9 1445.5,658.1 1448.0,658.3 1450.3,658.5 1452.7,658.7 1455.0,658.8 1457.2,659.0 1459.4,659.2 1461.6,659.3 1463.7,659.5 1465.8,659.6 1467.8,659.7 1469.8,659.9 1471.8,660.0 1473.8,660.1 1475.7,660.2 1477.6,660.4 1479.4,660.5 1481.2,660.6 1483.0,660.7 1484.8,660.8 1486.5,660.9 1488.3,661.0 1490.0,661.1 1491.6,661.2 1493.3,661.3 1494.9,661.4 1496.5,661.4 1498.1,661.5 1499.6,661.6 1501.2,661.7 1502.7,661.8 1504.2,661.8 1505.7,661.9 1507.1,662.0 1508.6,662.0 1510.0,662.1 1511.4,662.2 1512.8,662.2 1514.1,662.3 1515.5,662.4 1516.8,662.4 1518.2,662.5 1519.5,662.5 1520.8,662.6 1522.1,662.6 1523.3,662.7 1524.6,662.7 1525.8,662.8 1527.1,662.8 1528.3,662.9 1529.5,662.9 1530.7,663.0 1531.9,663.0 1533.0,663.1 1534.2,663.1 1535.3,663.2 1536.5,663.2 1537.6,663.2 1538.7,663.3 1539.8,663.3 1540.9,663.4 1542.0,663.4 1543.0,663.4 1544.1,663.5 1545.2,663.5 1546.2,663.5 1547.2,663.6 1548.3,663.6 1549.3,663.6 1550.3,663.7 1551.3,663.7 1552.3,663.7 1553.3,663.8 1554.2,663.8 1555.2,663.8 1556.1,663.9 1557.1,663.9 1558.0,663.9 1559.0,664.0 1559.9,664.0 1560.8,664.0 1561.7,664.0 1562.6,664.1 1563.5,664.1 1564.4,664.1 1565.3,664.1 1566.2,664.2 1567.1,664.2 1567.9,664.2 1568.8,664.2 1569.6,664.3 1570.5,664.3 1571.3,664.3 1572.2,664.3 1573.0,664.4 1573.8,664.4 1574.6,664.4 1575.4,664.4 1576.2,664.4 1577.0,664.5 1577.8,664.5 1578.6,664.5 1579.4,664.5 1580.2,664.5 1581.0,664.6 1581.7,664.6 1582.5,664.6 1583.3,664.6 1584.0,664.6 1584.8,664.7 1585.5,664.7 1586.2,664.7 1587.0,664.7 1587.7,664.7 1588.4,664.7 1589.2,664.8 1589.9,664.8 1590.6,664.8 1591.3,664.8 1592.0,664.8 1592.7,664.8 1593.4,664.9 1594.1,664.9 1594.8,664.9 1595.5,664.9 1596.1,664.9 1596.8,664.9 1597.5,665.0 1598.2,665.0 1598.8,665.0 1599.5,665.0 1600.1,665.0 1600.8,665.0 1601.4,665.0 1602.1,665.1 1602.7,665.1 1603.4,665.1 1604.0,665.1 1604.6,665.1 1605.3,665.1 1605.9,665.1 1606.5,665.1 1607.1,665.2 1607.7,665.2 1608.3,665.2 1609.0,665.2 1609.6,665.2 1610.2,665.2 1610.8,665.2 1611.4,665.2 1612.0,665.2 1612.5,665.3 1613.1,665.3 1613.7,665.3 1614.3,665.3 1614.9,665.3 1615.4,665.3 1616.0,665.3 1616.6,665.3 1617.2,665.3 1617.7,665.4 1618.3,665.4 1618.8,665.4 1619.4,665.4 1620.0,665.4 1620.5,665.4 1621.1,665.4 1621.6,665.4 1622.1,665.4 1622.7,665.4 1623.2,665.5 1623.8,665.5 1624.3,665.5 1624.8,665.5 1625.4,665.5 1625.9,665.5 1626.4,665.5 1626.9,665.5 1627.4,665.5 1628.0,665.5 1628.5,665.5 1629.0,665.6 1629.5,665.6 1630.0,665.6 1630.5,665.6 1631.0,665.6 1631.5,665.6 1632.0,665.6 1632.5,665.6 1633.0,665.6 1633.5,665.6 1634.0,665.6 1634.5,665.6 1635.0,665.7 1635.5,665.7 1635.9,665.7 1636.4,665.7 1636.9,665.7 1637.4,665.7 1637.8,665.7 1638.3,665.7 1638.8,665.7 1639.3,665.7 1639.7,665.7 1640.2,665.7 1640.7,665.7 1641.1,665.7 1641.6,665.8 1642.0,665.8 1642.5,665.8 1643.0,665.8 1643.4,665.8 1643.9,665.8 1644.3,665.8 1644.8,665.8 1645.2,665.8 1645.6,665.8 1646.1,665.8 1646.5,665.8 1647.0,665.8 1647.4,665.8 1647.8,665.8 1648.3,665.9 1648.7,665.9 1649.1,665.9 1649.6,665.9 1650.0,665.9 1650.4,665.9 1650.8,665.9 1651.3,665.9 1651.7,665.9 1652.1,665.9 1652.5,665.9 1653.0,665.9 1653.4,665.9 1653.8,665.9 1654.2,665.9 1654.6,665.9 1655.0,665.9 1655.4,665.9 1655.8,666.0 1656.2,666.0 1656.6,666.0 1657.0,666.0 1657.4,666.0 1657.8,666.0 1658.2,666.0 1658.6,666.0 1659.0,666.0 1659.4,666.0 1659.8,666.0 1660.2,666.0 1660.6,666.0 1661.0,666.0 1661.4,666.0 1661.8,666.0 1662.2,666.0 1662.5,666.0 1662.9,666.0 1663.3,666.1 1663.7,666.1 1664.1,666.1 1664.4,666.1 1664.8,666.1 1665.2,666.1 1665.6,666.1 1665.9,666.1 1666.3,666.1 1666.7,666.1 1667.1,666.1 1667.4,666.1 1667.8,666.1 1668.2,666.1 1668.5,666.1 1668.9,666.1 1669.3,666.1 1669.6,666.1 1670.0,666.1 1670.3,666.1 1670.7,666.1 1671.1,666.1 1671.4,666.1 1671.8,666.2 1672.1,666.2 1672.5,666.2 1672.8,666.2 1673.2,666.2 1673.5,666.2 1673.9,666.2 1674.2,666.2 1674.6,666.2 1674.9,666.2 1675.3,666.2 1675.6,666.2 1675.9,666.2 1676.3,666.2 1676.6,666.2 1677.0,666.2 1677.3,666.2 1677.6,666.2 1678.0,666.2 1678.3,666.2 1678.7,666.2 1679.0,666.2 1679.3,666.2 1679.7,666.2 1680.0,666.2 1680.3,666.2 1680.6,666.3 1681.0,666.3 1681.3,666.3 1681.6,666.3 1682.0,666.3 1682.3,666.3 1682.6,666.3 1682.9,666.3 1683.2,666.3 1683.6,666.3 1683.9,666.3 1684.2,666.3 1684.5,666.3 1684.8,666.3 1685.2,666.3 1685.5,666.3 1685.8,666.3 1686.1,666.3 1686.4,666.3 1686.7,666.3 1687.0,666.3 1687.4,666.3 1687.7,666.3 1688.0,666.3 1688.3,666.3 1688.6,666.3 1688.9,666.3 1689.2,666.3 1689.5,666.3 1689.8,666.3 1690.1,666.3 1690.4,666.4 1690.7,666.4 1691.0,666.4 1691.3,666.4 1691.6,666.4 1691.9,666.4 1692.2,666.4 1692.5,666.4 1692.8,666.4 1693.1,666.4 1693.4,666.4 1693.7,666.4 1694.0,666.4 1694.3,666.4" fill="none" stroke="#00ff00" stroke-width="4.0" stroke-linejoin="round" clip-path="url(#cb)"/>
<polyline points="1048.9,338.1 1105.6,476.0 1143.7,533.1 1172.3,563.5 1195.3,581.9 1214.5,594.6 1231.0,606.0 1245.5,614.9 1258.4,620.6 1269.9,625.0 1280.5,628.6 1290.1,631.7 1299.1,634.4 1307.4,636.7 1315.1,638.6 1322.4,640.4 1329.2,641.9 1335.7,643.3 1341.8,644.5 1347.6,645.7 1353.2,646.7 1358.5,647.6 1363.5,648.5 1368.4,649.2 1373.0,650.0 1377.5,650.6 1381.8,651.2 1386.0,651.8 1390.0,652.3 1393.9,652.8 1397.6,653.3 1401.3,653.7 1404.8,654.1 1408.2,654.5 1411.6,654.9 1414.8,655.3 1418.0,655.6 1421.0,655.9 1424.0,656.2 1426.9,656.5 1429.8,656.7 1432.6,657.0 1435.3,657.2 1437.9,657.5 1440.5,657.7 1443.1,657.9 1445.5,658.1 1448.0,658.3 1450.3,658.5 1452.7,658.7 1455.0,658.8 1457.2,659.0 1459.4,659.2 1461.6,659.3 1463.7,659.5 1465.8,659.6 1467.8,659.7 1469.8,659.9 1471.8,660.0 1473.8,660.1 1475.7,660.2 1477.6,660.4 1479.4,660.5 1481.2,660.6 1483.0,660.7 1484.8,660.8 1486.5,660.9 1488.3,661.0 1490.0,661.1 1491.6,661.2 1493.3,661.3 1494.9,661.4 1496.5,661.4 1498.1,661.5 1499.6,661.6 1501.2,661.7 1502.7,661.8 1504.2,661.8 1505.7,661.9 1507.1,662.0 1508.6,662.0 1510.0,662.1 1511.4,662.2 1512.8,662.2 1514.1,662.3 1515.5,662.4 1516.8,662.4 1518.2,662.5 1519.5,662.5 1520.8,662.6 1522.1,662.6 1523.3,662.7 1524.6,662.7 1525.8,662.8 1527.1,662.8 1528.3,662.9 1529.5,662.9 1530.7,663.0 1531.9,663.0 1533.0,663.1 1534.2,663.1 1535.3,663.2 1536.5,663.2 1537.6,663.2 1538.7,663.3 1539.8,663.3 1540.9,663.4 1542.0,663.4 1543.0,663.4 1544.1,663.5 1545.2,663.5 1546.2,663.5 1547.2,663.6 1548.3,663.6 1549.3,663.6 1550.3,663.7 1551.3,663.7 1552.3,663.7 1553.3,663.8 1554.2,663.8 1555.2,663.8 1556.1,663.9 1557.1,663.9 1558.0,663.9 1559.0,664.0 1559.9,664.0 1560.8,664.0 1561.7,664.0 1562.6,664.1 1563.5,664.1 1564.4,664.1 1565.3,664.1 1566.2,664.2 1567.1,664.2 1567.9,664.2 1568.8,664.2 1569.6,664.3 1570.5,664.3 1571.3,664.3 1572.2,664.3 1573.0,664.4 1573.8,664.4 1574.6,664.4 1575.4,664.4 1576.2,664.4 1577.0,664.5 1577.8,664.5 1578.6,664.5 1579.4,664.5 1580.2,664.5 1581.0,664.6 1581.7,664.6 1582.5,664.6 1583.3,664.6 1584.0,664.6 1584.8,664.7 1585.5,664.7 1586.2,664.7 1587.0,664.7 1587.7,664.7 1588.4,664.7 1589.2,664.8 1589.9,664.8 1590.6,664.8 1591.3,664.8 1592.0,664.8 1593.4,664.9 1594.8,664.9 1596.1,664.9 1597.5,665.0 1598.8,665.0 1600.1,665.0 1601.4,665.0 1602.7,665.1 1604.0,665.1 1605.3,665.1 1606.5,665.1 1607.7,665.2 1609.0,665.2 1610.2,665.2 1611.4,665.2 1612.5,665.3 1613.7,665.3 1614.9,665.3 1616.0,665.3 1617.2,665.3 1618.3,665.4 1619.4,665.4 1620.5,665.4 1621.6,665.4 1622.7,665.4 1623.8,665.5 1624.8,665.5 1625.9,665.5 1626.9,665.5 1628.0,665.5 1629.0,665.6 1630.0,665.6 1631.0,665.6 1632.0,665.6 1633.0,665.6 1634.0,665.6 1635.0,665.7 1635.9,665.7 1636.9,665.7 1637.8,665.7 1638.8,665.7 1639.7,665.7 1640.7,665.7 1641.6,665.8 1642.5,665.8 1643.4,665.8 1644.3,665.8 1645.2,665.8 1646.1,665.8 1647.0,665.8 1647.8,665.8 1648.7,665.9 1649.6,665.9 1650.4,665.9 1651.3,665.9 1652.1,665.9 1653.0,665.9 1653.8,665.9 1654.6,665.9 1655.4,665.9 1656.2,666.0 1657.0,666.0 1657.8,666.0 1658.6,666.0 1659.4,666.0 1660.2,666.0 1661.0,666.0 1661.8,666.0 1662.5,666.0 1663.3,666.1 1664.1,666.1 1664.8,666.1 1665.6,666.1 1666.3,666.1 1667.1,666.1 1667.8,666.1 1668.5,666.1 1669.3,666.1 1670.0,666.1 1670.7,666.1 1671.4,666.1 1672.1,666.2 1672.8,666.2 1673.5,666.2 1674.6,666.2 1675.6,666.2 1676.6,666.2 1677.6,666.2 1678.7,666.2 1679.7,666.2 1680.6,666.3 1681.6,666.3 1682.6,666.3 1683.6,666.3 1684.5,666.3 1685.5,666.3 1686.4,666.3 1687.4,666.3 1688.3,666.3 1689.2,666.3 1690.1,666.3 1691.0,666.4 1691.9,666.4 1692.8,666.4 1693.7,666.4" fill="none" stroke="none" marker-start="url(#mb11)" marker-mid="url(#mb11)" marker-end="url(#mb11)"/>
<polyline points="1048.9,395.5 1105.6,508.4 1143.7,556.1 1172.3,581.9 1195.3,597.8 1214.5,608.5 1231.0,618.7 1245.5,625.7 1258.4,630.4 1269.9,633.9 1280.5,636.9 1290.1,639.4 1299.1,641.6 1307.4,643.4 1315.1,645.0 1322.4,646.4 1329.2,647.6 1335.7,648.7 1341.8,649.7 1347.6,650.6 1353.2,651.4 1358.5,652.1 1363.5,652.8 1368.4,653.4 1373.0,654.0 1377.5,654.5 1381.8,655.0 1386.0,655.4 1390.0,655.8 1393.9,656.2 1397.6,656.6 1401.3,656.9 1404.8,657.2 1408.2,657.5 1411.6,657.8 1414.8,658.1 1418.0,658.4 1421.0,658.6 1424.0,658.8 1426.9,659.0 1429.8,659.2 1432.6,659.4 1435.3,659.6 1437.9,659.8 1440.5,660.0 1443.1,660.1 1445.5,660.3 1448.0,660.5 1450.3,660.6 1452.7,660.7 1455.0,660.9 1457.2,661.0 1459.4,661.1 1461.6,661.2 1463.7,661.4 1465.8,661.5 1467.8,661.6 1469.8,661.7 1471.8,661.8 1473.8,661.9 1475.7,662.0 1477.6,662.1 1479.4,662.1 1481.2,662.2 1483.0,662.3 1484.8,662.4 1486.5,662.5 1488.3,662.5 1490.0,662.6 1491.6,662.7 1493.3,662.7 1494.9,662.8 1496.5,662.9 1498.1,662.9 1499.6,663.0 1501.2,663.1 1502.7,663.1 1504.2,663.2 1505.7,663.2 1507.1,663.3 1508.6,663.3 1510.0,663.4 1511.4,663.4 1512.8,663.5 1514.1,663.5 1515.5,663.6 1516.8,663.6 1518.2,663.7 1519.5,663.7 1520.8,663.8 1522.1,663.8 1523.3,663.8 1524.6,663.9 1525.8,663.9 1527.1,664.0 1528.3,664.0 1529.5,664.0 1530.7,664.1 1531.9,664.1 1533.0,664.1 1534.2,664.2 1535.3,664.2 1536.5,664.2 1537.6,664.3 1538.7,664.3 1539.8,664.3 1540.9,664.4 1542.0,664.4 1543.0,664.4 1544.1,664.4 1545.2,664.5 1546.2,664.5 1547.2,664.5 1548.3,664.5 1549.3,664.6 1550.3,664.6 1551.3,664.6 1552.3,664.6 1553.3,664.7 1554.2,664.7 1555.2,664.7 1556.1,664.7 1557.1,664.8 1558.0,664.8 1559.0,664.8 1559.9,664.8 1560.8,664.8 1561.7,664.9 1562.6,664.9 1563.5,664.9 1564.4,664.9 1565.3,664.9 1566.2,665.0 1567.1,665.0 1567.9,665.0 1568.8,665.0 1569.6,665.0 1570.5,665.1 1571.3,665.1 1572.2,665.1 1573.0,665.1 1573.8,665.1 1574.6,665.1 1575.4,665.2 1576.2,665.2 1577.0,665.2 1577.8,665.2 1578.6,665.2 1579.4,665.2 1580.2,665.3 1581.0,665.3 1581.7,665.3 1582.5,665.3 1583.3,665.3 1584.0,665.3 1584.8,665.3 1585.5,665.4 1586.2,665.4 1587.0,665.4 1587.7,665.4 1588.4,665.4 1589.2,665.4 1589.9,665.4 1590.6,665.4 1591.3,665.5 1592.0,665.5 1592.7,665.5 1593.4,665.5 1594.1,665.5 1594.8,665.5 1595.5,665.5 1596.1,665.5 1596.8,665.6 1597.5,665.6 1598.2,665.6 1598.8,665.6 1599.5,665.6 1600.1,665.6 1600.8,665.6 1601.4,665.6 1602.1,665.6 1602.7,665.7 1603.4,665.7 1604.0,665.7 1604.6,665.7 1605.3,665.7 1605.9,665.7 1606.5,665.7 1607.1,665.7 1607.7,665.7 1608.3,665.7 1609.0,665.7 1609.6,665.8 1610.2,665.8 1610.8,665.8 1611.4,665.8 1612.0,665.8 1612.5,665.8 1613.1,665.8 1613.7,665.8 1614.3,665.8 1614.9,665.8 1615.4,665.8 1616.0,665.9 1616.6,665.9 1617.2,665.9 1617.7,665.9 1618.3,665.9 1618.8,665.9 1619.4,665.9 1620.0,665.9 1620.5,665.9 1621.1,665.9 1621.6,665.9 1622.1,665.9 1622.7,665.9 1623.2,665.9 1623.8,666.0 1624.3,666.0 1624.8,666.0 1625.4,666.0 1625.9,666.0 1626.4,666.0 1626.9,666.0 1627.4,666.0 1628.0,666.0 1628.5,666.0 1629.0,666.0 1629.5,666.0 1630.0,666.0 1630.5,666.0 1631.0,666.0 1631.5,666.1 1632.0,666.1 1632.5,666.1 1633.0,666.1 1633.5,666.1 1634.0,666.1 1634.5,666.1 1635.0,666.1 1635.5,666.1 1635.9,666.1 1636.4,666.1 1636.9,666.1 1637.4,666.1 1637.8,666.1 1638.3,666.1 1638.8,666.1 1639.3,666.1 1639.7,666.2 1640.2,666.2 1640.7,666.2 1641.1,666.2 1641.6,666.2 1642.0,666.2 1642.5,666.2 1643.0,666.2 1643.4,666.2 1643.9,666.2 1644.3,666.2 1644.8,666.2 1645.2,666.2 1645.6,666.2 1646.1,666.2 1646.5,666.2 1647.0,666.2 1647.4,666.2 1647.8,666.2 1648.3,666.2 1648.7,666.3 1649.1,666.3 1649.6,666.3 1650.0,666.3 1650.4,666.3 1650.8,666.3 1651.3,666.3 1651.7,666.3 1652.1,666.3 1652.5,666.3 1653.0,666.3 1653.4,666.3 1653.8,666.3 1654.2,666.3 1654.6,666.3 1655.0,666.3 1655.4,666.3 1655.8,666.3 1656.2,666.3 1656.6,666.3 1657.0,666.3 1657.4,666.3 1657.8,666.3 1658.2,666.4 1658.6,666.4 1659.0,666.4 1659.4,666.4 1659.8,666.4 1660.2,666.4 1660.6,666.4 1661.0,666.4 1661.4,666.4 1661.8,666.4 1662.2,666.4 1662.5,666.4 1662.9,666.4 1663.3,666.4 1663.7,666.4 1664.1,666.4 1664.4,666.4 1664.8,666.4 1665.2,666.4 1665.6,666.4 1665.9,666.4 1666.3,666.4 1666.7,666.4 1667.1,666.4 1667.4,666.4 1667.8,666.4 1668.2,666.4 1668.5,666.4 1668.9,666.5 1669.3,666.5 1669.6,666.5 1670.0,666.5 1670.3,666.5 1670.7,666.5 1671.1,666.5 1671.4,666.5 1671.8,666.5 1672.1,666.5 1672.5,666.5 1672.8,666.5 1673.2,666.5 1673.5,666.5 1673.9,666.5 1674.2,666.5 1674.6,666.5 1674.9,666.5 1675.3,666.5 1675.6,666.5 1675.9,666.5 1676.3,666.5 1676.6,666.5 1677.0,666.5 1677.3,666.5 1677.6,666.5 1678.0,666.5 1678.3,666.5 1678.7,666.5 1679.0,666.5 1679.3,666.5 1679.7,666.5 1680.0,666.5 1680.3,666.6 1680.6,666.6 1681.0,666.6 1681.3,666.6 1681.6,666.6 1682.0,666.6 1682.3,666.6 1682.6,666.6 1682.9,666.6 1683.2,666.6 1683.6,666.6 1683.9,666.6 1684.2,666.6 1684.5,666.6 1684.8,666.6 1685.2,666.6 1685.5,666.6 1685.8,666.6 1686.1,666.6 1686.4,666.6 1686.7,666.6 1687.0,666.6 1687.4,666.6 1687.7,666.6 1688.0,666.6 1688.3,666.6 1688.6,666.6 1688.9,666.6 1689.2,666.6 1689.5,666.6 1689.8,666.6 1690.1,666.6 1690.4,666.6 1690.7,666.6 1691.0,666.6 1691.3,666.6 1691.6,666.6 1691.9,666.6 1692.2,666.6 1692.5,666.6 1692.8,666.6 1693.1,666.6 1693.4,666.7 1693.7,666.7 1694.0,666.7 1694.3,666.7" fill="none" stroke="#ff00ff" stroke-width="4.0" stroke-linejoin="round" clip-path="url(#cb)"/>
<polyline points="1048.9,395.5 1105.6,508.4 1143.7,556.1 1172.3,581.9 1195.3,597.8 1214.5,608.5 1231.0,618.7 1245.5,625.7 1258.4,630.4 1269.9,633.9 1280.5,636.9 1290.1,639.4 1299.1,641.6 1307.4,643.4 1315.1,645.0 1322.4,646.4 1329.2,647.6 1335.7,648.7 1341.8,649.7 1347.6,650.6 1353.2,651.4 1358.5,652.1 1363.5,652.8 1368.4,653.4 1373.0,654.0 1377.5,654.5 1381.8,655.0 1386.0,655.4 1390.0,655.8 1393.9,656.2 1397.6,656.6 1401.3,656.9 1404.8,657.2 1408.2,657.5 1411.6,657.8 1414.8,658.1 1418.0,658.4 1421.0,658.6 1424.0,658.8 1426.9,659.0 1429.8,659.2 1432.6,659.4 1435.3,659.6 1437.9,659.8 1440.5,660.0 1443.1,660.1 1445.5,660.3 1448.0,660.5 1450.3,660.6 1452.7,660.7 1455.0,660.9 1457.2,661.0 1459.4,661.1 1461.6,661.2 1463.7,661.4 1465.8,661.5 1467.8,661.6 1469.8,661.7 1471.8,661.8 1473.8,661.9 1475.7,662.0 1477.6,662.1 1479.4,662.1 1481.2,662.2 1483.0,662.3 1484.8,662.4 1486.5,662.5 1488.3,662.5 1490.0,662.6 1491.6,662.7 1493.3,662.7 1494.9,662.8 1496.5,662.9 1498.1,662.9 1499.6,663.0 1501.2,663.1 1502.7,663.1 1504.2,663.2 1505.7,663.2 1507.1,663.3 1508.6,663.3 1510.0,663.4 1511.4,663.4 1512.8,663.5 1514.1,663.5 1515.5,663.6 1516.8,663.6 1518.2,663.7 1519.5,663.7 1520.8,663.8 1522.1,663.8 1523.3,663.8 1524.6,663.9 1525.8,663.9 1527.1,664.0 1528.3,664.0 1529.5,664.0 1530.7,664.1 1531.9,664.1 1533.0,664.1 1534.2,664.2 1535.3,664.2 1536.5,664.2 1537.6,664.3 1538.7,664.3 1539.8,664.3 1540.9,664.4 1542.0,664.4 1543.0,664.4 1544.1,664.4 1545.2,664.5 1546.2,664.5 1547.2,664.5 1548.3,664.5 1549.3,664.6 1550.3,664.6 1551.3,664.6 1552.3,664.6 1553.3,664.7 1554.2,664.7 1555.2,664.7 1556.1,664.7 1557.1,664.8 1558.0,664.8 1559.0,664.8 1559.9,664.8 1560.8,664.8 1561.7,664.9 1562.6,664.9 1563.5,664.9 1564.4,664.9 1565.3,664.9 1566.2,665.0 1567.1,665.0 1567.9,665.0 1568.8,665.0 1569.6,665.0 1570.5,665.1 1571.3,665.1 1572.2,665.1 1573.0,665.1 1573.8,665.1 1574.6,665.1 1575.4,665.2 1576.2,665.2 1577.0,665.2 1577.8,665.2 1578.6,665.2 1579.4,665.2 1580.2,665.3 1581.0,665.3 1581.7,665.3 1582.5,665.3 1583.3,665.3 1584.0,665.3 1584.8,665.3 1585.5,665.4 1586.2,665.4 1587.0,665.4 1587.7,665.4 1588.4,665.4 1589.2,665.4 1589.9,665.4 1590.6,665.4 1591.3,665.5 1592.0,665.5 1593.4,665.5 1594.8,665.5 1596.1,665.5 1597.5,665.6 1598.8,665.6 1600.1,665.6 1601.4,665.6 1602.7,665.7 1604.0,665.7 1605.3,665.7 1606.5,665.7 1607.7,665.7 1609.0,665.7 1610.2,665.8 1611.4,665.8 1612.5,665.8 1613.7,665.8 1614.9,665.8 1616.0,665.9 1617.2,665.9 1618.3,665.9 1619.4,665.9 1620.5,665.9 1621.6,665.9 1622.7,665.9 1623.8,666.0 1624.8,666.0 1625.9,666.0 1626.9,666.0 1628.0,666.0 1629.0,666.0 1630.0,666.0 1631.0,666.0 1632.0,666.1 1633.0,666.1 1634.0,666.1 1635.0,666.1 1635.9,666.1 1636.9,666.1 1637.8,666.1 1638.8,666.1 1639.7,666.2 1640.7,666.2 1641.6,666.2 1642.5,666.2 1643.4,666.2 1644.3,666.2 1645.2,666.2 1646.1,666.2 1647.0,666.2 1647.8,666.2 1648.7,666.3 1649.6,666.3 1650.4,666.3 1651.3,666.3 1652.1,666.3 1653.0,666.3 1653.8,666.3 1654.6,666.3 1655.4,666.3 1656.2,666.3 1657.0,666.3 1657.8,666.3 1658.6,666.4 1659.4,666.4 1660.2,666.4 1661.0,666.4 1661.8,666.4 1662.5,666.4 1663.3,666.4 1664.1,666.4 1664.8,666.4 1665.6,666.4 1666.3,666.4 1667.1,666.4 1667.8,666.4 1668.5,666.4 1669.3,666.5 1670.0,666.5 1670.7,666.5 1671.4,666.5 1672.1,666.5 1672.8,666.5 1673.5,666.5 1674.6,666.5 1675.6,666.5 1676.6,666.5 1677.6,666.5 1678.7,666.5 1679.7,666.5 1680.6,666.6 1681.6,666.6 1682.6,666.6 1683.6,666.6 1684.5,666.6 1685.5,666.6 1686.4,666.6 1687.4,666.6 1688.3,666.6 1689.2,666.6 1690.1,666.6 1691.0,666.6 1691.9,666.6 1692.8,666.6 1693.7,666.7" fill="none" stroke="none" marker-start="url(#mb12)" marker-mid="url(#mb12)" marker-end="url(#mb12)"/>
<line x1="1048.9" y1="667.9" x2="1694.4" y2="667.9" stroke="#000" stroke-width="2.8" stroke-linecap="round"/>
<polyline points="1048.9,668.2 1105.6,668.2 1143.7,668.2 1172.3,668.2 1195.3,668.2 1214.5,668.2 1231.0,668.2 1245.5,668.2 1258.4,668.2 1269.9,668.2 1280.5,668.2 1290.1,668.2 1299.1,668.2 1307.4,668.2 1315.1,668.2 1322.4,668.2 1329.2,668.2 1335.7,668.2 1341.8,668.2 1347.6,668.2 1353.2,668.2 1358.5,668.2 1363.5,668.2 1368.4,668.2 1373.0,668.2 1377.5,668.2 1381.8,668.2 1386.0,668.2 1390.0,668.2 1393.9,668.2 1397.6,668.2 1401.3,668.2 1404.8,668.2 1408.2,668.2 1411.6,668.2 1414.8,668.2 1418.0,668.2 1421.0,668.2 1424.0,668.2 1426.9,668.2 1429.8,668.2 1432.6,668.2 1435.3,668.2 1437.9,668.2 1440.5,668.2 1443.1,668.2 1445.5,668.2 1448.0,668.2 1450.3,668.2 1452.7,668.2 1455.0,668.2 1457.2,668.2 1459.4,668.2 1461.6,668.2 1463.7,668.2 1465.8,668.2 1467.8,668.2 1469.8,668.2 1471.8,668.2 1473.8,668.2 1475.7,668.2 1477.6,668.2 1479.4,668.2 1481.2,668.2 1483.0,668.2 1484.8,668.2 1486.5,668.2 1488.3,668.2 1490.0,668.2 1491.6,668.2 1493.3,668.2 1494.9,668.2 1496.5,668.2 1498.1,668.2 1499.6,668.2 1501.2,668.2 1502.7,668.2 1504.2,668.2 1505.7,668.2 1507.1,668.2 1508.6,668.2 1510.0,668.2 1511.4,668.2 1512.8,668.2 1514.1,668.2 1515.5,668.2 1516.8,668.2 1518.2,668.2 1519.5,668.2 1520.8,668.2 1522.1,668.2 1523.3,668.2 1524.6,668.2 1525.8,668.2 1527.1,668.2 1528.3,668.2 1529.5,668.2 1530.7,668.2 1531.9,668.2 1533.0,668.2 1534.2,668.2 1535.3,668.2 1536.5,668.2 1537.6,668.2 1538.7,668.2 1539.8,668.2 1540.9,668.2 1542.0,668.2 1543.0,668.2 1544.1,668.2 1545.2,668.2 1546.2,668.2 1547.2,668.2 1548.3,668.2 1549.3,668.2 1550.3,668.2 1551.3,668.2 1552.3,668.2 1553.3,668.2 1554.2,668.2 1555.2,668.2 1556.1,668.2 1557.1,668.2 1558.0,668.2 1559.0,668.2 1559.9,668.2 1560.8,668.2 1561.7,668.2 1562.6,668.2 1563.5,668.2 1564.4,668.2 1565.3,668.2 1566.2,668.2 1567.1,668.2 1567.9,668.2 1568.8,668.2 1569.6,668.2 1570.5,668.2 1571.3,668.2 1572.2,668.2 1573.0,668.2 1573.8,668.2 1574.6,668.2 1575.4,668.2 1576.2,668.2 1577.0,668.2 1577.8,668.2 1578.6,668.2 1579.4,668.2 1580.2,668.2 1581.0,668.2 1581.7,668.2 1582.5,668.2 1583.3,668.2 1584.0,668.2 1584.8,668.2 1585.5,668.2 1586.2,668.2 1587.0,668.2 1587.7,668.2 1588.4,668.2 1589.2,668.2 1589.9,668.2 1590.6,668.2 1591.3,668.2 1592.0,668.2 1593.4,668.2 1594.8,668.2 1596.1,668.2 1597.5,668.2 1598.8,668.2 1600.1,668.2 1601.4,668.2 1602.7,668.2 1604.0,668.2 1605.3,668.2 1606.5,668.2 1607.7,668.2 1609.0,668.2 1610.2,668.2 1611.4,668.2 1612.5,668.2 1613.7,668.2 1614.9,668.2 1616.0,668.2 1617.2,668.2 1618.3,668.2 1619.4,668.2 1620.5,668.2 1621.6,668.2 1622.7,668.2 1623.8,668.2 1624.8,668.2 1625.9,668.2 1626.9,668.2 1628.0,668.2 1629.0,668.2 1630.0,668.2 1631.0,668.2 1632.0,668.2 1633.0,668.2 1634.0,668.2 1635.0,668.2 1635.9,668.2 1636.9,668.2 1637.8,668.2 1638.8,668.2 1639.7,668.2 1640.7,668.2 1641.6,668.2 1642.5,668.2 1643.4,668.2 1644.3,668.2 1645.2,668.2 1646.1,668.2 1647.0,668.2 1647.8,668.2 1648.7,668.2 1649.6,668.2 1650.4,668.2 1651.3,668.2 1652.1,668.2 1653.0,668.2 1653.8,668.2 1654.6,668.2 1655.4,668.2 1656.2,668.2 1657.0,668.2 1657.8,668.2 1658.6,668.2 1659.4,668.2 1660.2,668.2 1661.0,668.2 1661.8,668.2 1662.5,668.2 1663.3,668.2 1664.1,668.2 1664.8,668.2 1665.6,668.2 1666.3,668.2 1667.1,668.2 1667.8,668.2 1668.5,668.2 1669.3,668.2 1670.0,668.2 1670.7,668.2 1671.4,668.2 1672.1,668.2 1672.8,668.2 1673.5,668.2 1674.6,668.2 1675.6,668.2 1676.6,668.2 1677.6,668.2 1678.7,668.2 1679.7,668.2 1680.6,668.2 1681.6,668.2 1682.6,668.2 1683.6,668.2 1684.5,668.2 1685.5,668.2 1686.4,668.2 1687.4,668.2 1688.3,668.2 1689.2,668.2 1690.1,668.2 1691.0,668.2 1691.9,668.2 1692.8,668.2 1693.7,668.2" fill="none" stroke="none" marker-start="url(#mbk)" marker-mid="url(#mbk)" marker-end="url(#mbk)"/>
<text x="36.67" y="28.20" font-family="'Liberation Serif', serif" font-size="35.00" fill="#000" textLength="10.36" lengthAdjust="spacingAndGlyphs">(</text>
<text x="47.81" y="26.90" font-family="'Liberation Serif', serif" font-size="31.00" fill="#000" textLength="16.40" lengthAdjust="spacingAndGlyphs">a</text>
<text x="64.48" y="28.20" font-family="'Liberation Serif', serif" font-size="35.00" fill="#000" textLength="9.58" lengthAdjust="spacingAndGlyphs">)</text>
<text x="928.77" y="28.30" font-family="'Liberation Serif', serif" font-size="35.00" fill="#000" textLength="10.36" lengthAdjust="spacingAndGlyphs">(</text>
<text x="940.20" y="26.90" font-family="'Liberation Serif', serif" font-size="31.00" fill="#000" textLength="18.06" lengthAdjust="spacingAndGlyphs">b</text>
<text x="958.37" y="28.30" font-family="'Liberation Serif', serif" font-size="35.00" fill="#000" textLength="9.70" lengthAdjust="spacingAndGlyphs">)</text>
<text x="456.27" y="740.30" font-family="'Liberation Serif', serif" font-size="32.50" font-style="italic" fill="#000" textLength="24.91" lengthAdjust="spacingAndGlyphs">H</text><text x="480.92" y="745.60" font-family="'Liberation Serif', serif" font-size="22.50" font-style="italic" fill="#000" textLength="11.65" lengthAdjust="spacingAndGlyphs">o</text><text x="495.48" y="740.60" font-family="'Liberation Serif', serif" font-size="35.00" fill="#000" textLength="9.45" lengthAdjust="spacingAndGlyphs">(</text><text x="505.86" y="740.30" font-family="'Liberation Serif', serif" font-size="32.50" fill="#000" textLength="22.35" lengthAdjust="spacingAndGlyphs">Å</text><text x="529.94" y="740.60" font-family="'Liberation Serif', serif" font-size="35.00" fill="#000" textLength="10.08" lengthAdjust="spacingAndGlyphs">)</text>
<text x="1328.27" y="739.80" font-family="'Liberation Serif', serif" font-size="32.50" font-style="italic" fill="#000" textLength="25.28" lengthAdjust="spacingAndGlyphs">H</text><text x="1353.59" y="745.10" font-family="'Liberation Serif', serif" font-size="22.50" font-style="italic" fill="#000" textLength="12.12" lengthAdjust="spacingAndGlyphs">o</text><text x="1368.58" y="740.10" font-family="'Liberation Serif', serif" font-size="35.00" fill="#000" textLength="9.45" lengthAdjust="spacingAndGlyphs">(</text><text x="1379.26" y="739.80" font-family="'Liberation Serif', serif" font-size="32.50" fill="#000" textLength="22.86" lengthAdjust="spacingAndGlyphs">Å</text><text x="1403.82" y="740.10" font-family="'Liberation Serif', serif" font-size="35.00" fill="#000" textLength="10.21" lengthAdjust="spacingAndGlyphs">)</text>
<g transform="translate(29.5 455.0) rotate(-90)"><text x="-1.61" y="0.00" font-family="'Liberation Serif', serif" font-size="32.00" font-style="italic" fill="#000" textLength="29.76" lengthAdjust="spacingAndGlyphs">ṁ</text><text x="39.80" y="0.30" font-family="'Liberation Serif', serif" font-size="35.00" fill="#000" textLength="9.33" lengthAdjust="spacingAndGlyphs">(</text><text x="49.49" y="0.00" font-family="'Liberation Serif', serif" font-size="32.00" fill="#000" textLength="31.54" lengthAdjust="spacingAndGlyphs">10</text><text x="82.30" y="-11.90" font-family="'Liberation Serif', serif" font-size="23.00" fill="#000" textLength="39.49" lengthAdjust="spacingAndGlyphs">−10</text><text x="122.94" y="0.30" font-family="'Liberation Serif', serif" font-size="35.00" fill="#000" textLength="10.08" lengthAdjust="spacingAndGlyphs">)</text><text x="143.47" y="0.00" font-family="'Liberation Serif', serif" font-size="32.00" fill="#000" textLength="17.07" lengthAdjust="spacingAndGlyphs">g</text><text x="162.40" y="7.30" font-family="'Liberation Serif', serif" font-size="47.00" fill="#000" textLength="12.46" lengthAdjust="spacingAndGlyphs">/</text><text x="175.40" y="0.00" font-family="'Liberation Serif', serif" font-size="32.00" fill="#000" textLength="13.95" lengthAdjust="spacingAndGlyphs">s</text></g>
<g transform="translate(963.6 575.0) rotate(-90)"><text x="-0.43" y="0.30" font-family="'Liberation Serif', serif" font-size="35.00" fill="#000" textLength="10.36" lengthAdjust="spacingAndGlyphs">(</text><text x="8.68" y="0.00" font-family="'Liberation Serif', serif" font-size="32.00" font-style="italic" fill="#000" textLength="29.87" lengthAdjust="spacingAndGlyphs">ṁ</text><text x="37.63" y="11.40" font-family="'Liberation Serif', serif" font-size="31.00" fill="#000" textLength="101.57" lengthAdjust="spacingAndGlyphs">flexible</text><text x="147.40" y="0.00" font-family="'Liberation Serif', serif" font-size="32.00" fill="#000" textLength="24.06" lengthAdjust="spacingAndGlyphs">−</text><text x="179.11" y="0.00" font-family="'Liberation Serif', serif" font-size="32.00" font-style="italic" fill="#000" textLength="29.42" lengthAdjust="spacingAndGlyphs">ṁ</text><text x="208.15" y="11.40" font-family="'Liberation Serif', serif" font-size="31.00" fill="#000" textLength="64.79" lengthAdjust="spacingAndGlyphs">rigid</text><text x="276.04" y="0.30" font-family="'Liberation Serif', serif" font-size="35.00" fill="#000" textLength="8.82" lengthAdjust="spacingAndGlyphs">)</text><text x="288.90" y="7.60" font-family="'Liberation Serif', serif" font-size="47.00" fill="#000" textLength="12.15" lengthAdjust="spacingAndGlyphs">/</text><text x="303.50" y="0.00" font-family="'Liberation Serif', serif" font-size="32.00" font-style="italic" fill="#000" textLength="27.73" lengthAdjust="spacingAndGlyphs">ṁ</text><text x="331.55" y="11.40" font-family="'Liberation Serif', serif" font-size="31.00" fill="#000" textLength="64.89" lengthAdjust="spacingAndGlyphs">rigid</text><text x="400.35" y="0.30" font-family="'Liberation Serif', serif" font-size="35.00" fill="#000" textLength="9.71" lengthAdjust="spacingAndGlyphs">(</text><text x="411.12" y="0.00" font-family="'Liberation Serif', serif" font-size="32.00" fill="#000" textLength="26.00" lengthAdjust="spacingAndGlyphs">%</text><text x="438.19" y="0.30" font-family="'Liberation Serif', serif" font-size="35.00" fill="#000" textLength="9.45" lengthAdjust="spacingAndGlyphs">)</text></g>
<text x="1285.08" y="71.60" font-family="'Liberation Serif', serif" font-size="32.00" fill="#000" textLength="26.72" lengthAdjust="spacingAndGlyphs">Δ</text><text x="1311.19" y="71.60" font-family="'Liberation Serif', serif" font-size="32.00" font-style="italic" fill="#000" textLength="29.76" lengthAdjust="spacingAndGlyphs">ṁ</text><text x="1341.30" y="79.20" font-family="'Liberation Serif', serif" font-size="46.00" fill="#000" textLength="12.93" lengthAdjust="spacingAndGlyphs">/</text><text x="1354.67" y="71.60" font-family="'Liberation Serif', serif" font-size="32.00" font-style="italic" fill="#000" textLength="30.21" lengthAdjust="spacingAndGlyphs">ṁ</text><text x="1390.35" y="73.60" font-family="'DejaVu Serif', 'Liberation Serif', serif" font-size="31.00" fill="#000" textLength="29.17" lengthAdjust="spacingAndGlyphs">∼</text><text x="1427.67" y="71.60" font-family="'Liberation Serif', serif" font-size="31.50" font-style="italic" fill="#000" textLength="24.51" lengthAdjust="spacingAndGlyphs">H</text><text x="1452.99" y="77.50" font-family="'Liberation Serif', serif" font-size="22.50" font-style="italic" fill="#000" textLength="12.12" lengthAdjust="spacingAndGlyphs">o</text><text x="1455.94" y="59.00" font-family="'Liberation Serif', serif" font-size="23.00" fill="#000" textLength="17.62" lengthAdjust="spacingAndGlyphs">−</text><text x="1475.72" y="59.00" font-family="'Liberation Serif', serif" font-size="22.00" fill="#000" textLength="11.89" lengthAdjust="spacingAndGlyphs">3</text>
<text x="1484.98" y="551.20" font-family="'Liberation Serif', serif" font-size="32.00" fill="#000" textLength="26.72" lengthAdjust="spacingAndGlyphs">Δ</text><text x="1511.09" y="551.20" font-family="'Liberation Serif', serif" font-size="32.00" font-style="italic" fill="#000" textLength="29.76" lengthAdjust="spacingAndGlyphs">ṁ</text><text x="1541.20" y="558.80" font-family="'Liberation Serif', serif" font-size="46.00" fill="#000" textLength="12.93" lengthAdjust="spacingAndGlyphs">/</text><text x="1554.57" y="551.20" font-family="'Liberation Serif', serif" font-size="32.00" font-style="italic" fill="#000" textLength="30.21" lengthAdjust="spacingAndGlyphs">ṁ</text><text x="1590.25" y="553.20" font-family="'DejaVu Serif', 'Liberation Serif', serif" font-size="31.00" fill="#000" textLength="29.17" lengthAdjust="spacingAndGlyphs">∼</text><text x="1627.57" y="551.20" font-family="'Liberation Serif', serif" font-size="31.50" font-style="italic" fill="#000" textLength="24.51" lengthAdjust="spacingAndGlyphs">H</text><text x="1652.89" y="557.10" font-family="'Liberation Serif', serif" font-size="22.50" font-style="italic" fill="#000" textLength="12.12" lengthAdjust="spacingAndGlyphs">o</text><text x="1655.84" y="538.60" font-family="'Liberation Serif', serif" font-size="23.00" fill="#000" textLength="17.62" lengthAdjust="spacingAndGlyphs">−</text><text x="1674.56" y="538.60" font-family="'Liberation Serif', serif" font-size="22.00" fill="#000" textLength="11.78" lengthAdjust="spacingAndGlyphs">1</text>
<text x="318.10" y="547.70" font-family="'Liberation Serif', serif" font-size="29.50" fill="#000" textLength="306.72" lengthAdjust="spacingAndGlyphs">thickness of the upper</text>
<text x="318.40" y="574.30" font-family="'Liberation Serif', serif" font-size="29.50" fill="#000" textLength="278.61" lengthAdjust="spacingAndGlyphs">wall increasing from</text>
<text x="319.65" y="609.90" font-family="'Liberation Serif', serif" font-size="34.00" fill="#000" textLength="10.22" lengthAdjust="spacingAndGlyphs">(</text>
<text x="328.84" y="609.90" font-family="'DejaVu Math TeX Gyre', 'Liberation Serif', serif" font-size="31.00" fill="#000" textLength="30.19" lengthAdjust="spacingAndGlyphs">𝒯</text>
<text x="363.79" y="609.90" font-family="'Liberation Serif', serif" font-size="31.00" fill="#000" textLength="25.80" lengthAdjust="spacingAndGlyphs">=</text>
<text x="399.05" y="609.60" font-family="'Liberation Serif', serif" font-size="29.50" fill="#000" textLength="218.35" lengthAdjust="spacingAndGlyphs">35nm to 100nm</text>
<text x="617.68" y="609.90" font-family="'Liberation Serif', serif" font-size="34.00" fill="#000" textLength="9.32" lengthAdjust="spacingAndGlyphs">)</text>
<text x="194.34" y="362.90" font-family="'Liberation Serif', serif" font-size="31.00" font-style="italic" fill="#ff0000" textLength="18.80" lengthAdjust="spacingAndGlyphs">α</text>
<text x="1437.80" y="240.00" font-family="'Liberation Serif', serif" font-size="31.00" font-style="italic" fill="#ff0000" textLength="17.87" lengthAdjust="spacingAndGlyphs">α</text>
<text x="1116.25" y="640.50" font-family="'DejaVu Math TeX Gyre', 'Liberation Serif', serif" font-size="31.00" fill="#000" textLength="30.07" lengthAdjust="spacingAndGlyphs">𝒯</text>
<line x1="185.4" y1="600.0" x2="185.4" y2="373.8" stroke="#ff0000" stroke-width="1.2"/><path d="M185.4 362.3L190.5 375.8L180.3 375.8Z" fill="#ff0000"/>
<line x1="300.3" y1="371.2" x2="300.4" y2="598.1" stroke="#000" stroke-width="1.7"/><path d="M300.4 609.4L295.3 596.1L305.5 596.1Z" fill="#000"/>
<line x1="1261.4" y1="550.9" x2="1455.8" y2="162.5" stroke="#ff0000" stroke-width="1.4"/><path d="M1461.4 151.3L1459.4 166.5L1450.4 162.0Z" fill="#ff0000"/>
<line x1="1365.5" y1="191.5" x2="1155.0" y2="612.4" stroke="#000" stroke-width="1.8"/><path d="M1149.4 623.6L1151.4 608.4L1160.4 612.9Z" fill="#000"/>
<line x1="1285.6" y1="79.4" x2="1250.6" y2="148.5" stroke="#000" stroke-width="1.8"/><path d="M1244.9 159.6L1247.0 144.4L1255.9 148.9Z" fill="#000"/>
<line x1="1621.9" y1="558.8" x2="1586.6" y2="628.4" stroke="#000" stroke-width="1.8"/><path d="M1580.9 639.5L1583.0 624.3L1591.9 628.8Z" fill="#000"/>
</svg>
</body></html>
